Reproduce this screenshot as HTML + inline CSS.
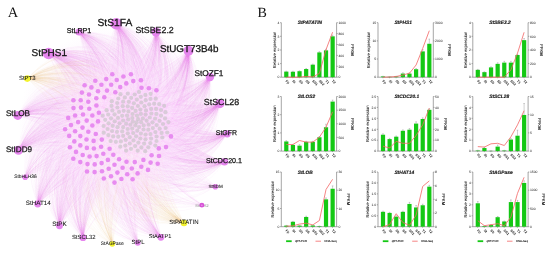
<!DOCTYPE html><html><head><meta charset="utf-8"><style>html,body{margin:0;padding:0;background:#fff;}svg{display:block}</style></head><body>
<svg xmlns="http://www.w3.org/2000/svg" width="550" height="253" viewBox="0 0 550 253">
<rect width="550" height="253" fill="#fff"/>
<g text-rendering="geometricPrecision">
<defs><radialGradient id="bh"><stop offset="0" stop-color="#f0c8f4" stop-opacity="0.3"/><stop offset="0.62" stop-color="#f0c8f4" stop-opacity="0.28"/><stop offset="0.85" stop-color="#f0c8f4" stop-opacity="0.1"/><stop offset="1" stop-color="#f0c8f4" stop-opacity="0"/></radialGradient></defs>
<circle cx="118.0" cy="126.0" r="100" fill="url(#bh)"/>
<g><g fill="none" stroke-width="0.7" transform="scale(0.5)">
<path d="M232 47Q242 78 236 103M232 47Q286 111 292 173M232 47Q275 84 288 125M232 47Q269 86 288 130M232 47Q274 103 282 160M232 47Q233 99 223 149M232 47Q280 65 303 97M232 47Q273 79 292 119M232 47Q287 107 295 167M232 47Q264 114 268 181M232 47Q248 84 251 121M232 47Q256 106 252 159M232 47Q270 78 288 116M232 47Q244 77 241 104M232 47Q249 93 243 133M232 47Q256 76 259 105M232 47Q278 81 296 122M232 47Q252 86 259 126M232 47Q240 80 236 111M232 47Q245 71 247 95M232 47Q255 103 247 149M232 47Q247 87 250 126M232 47Q267 81 282 119M232 47Q252 98 245 140M232 47Q291 94 305 145M232 47Q266 78 276 112M232 47Q245 103 234 152M232 47Q253 70 265 97M232 47Q278 88 296 135M232 47Q259 75 272 108M232 47Q272 99 276 148M232 47Q265 97 268 144M232 47Q261 76 275 110M232 47Q269 70 282 98M232 47Q239 95 236 141M232 47Q243 77 246 106M232 47Q243 107 230 158M232 47Q242 98 234 145M232 47Q269 76 288 113M232 47Q276 114 274 172M232 47Q265 65 282 91M232 47Q243 76 249 105M232 47Q297 94 317 150M232 47Q256 91 262 136M232 47Q249 78 248 107M232 47Q271 90 277 134M232 47Q242 69 246 91M232 47Q262 92 272 139M232 47Q284 84 305 131M232 47Q231 99 217 145M232 47Q268 111 263 165M232 47Q269 90 283 137M232 47Q282 76 306 116M232 47Q260 81 278 118M232 47Q249 88 243 120M232 47Q292 77 321 121M232 47Q278 89 299 139M232 47Q282 84 300 129M232 47Q244 106 243 163M232 47Q244 79 246 110M232 47Q282 97 289 147M232 47Q259 86 277 128M232 47Q241 98 228 138M232 47Q269 88 284 133M232 47Q262 82 269 118M232 47Q269 87 281 130M232 47Q239 101 223 142M232 47Q270 85 285 129M232 47Q263 84 267 119M232 47Q258 84 273 124M232 47Q267 65 287 91M232 47Q224 79 211 109M232 47Q249 106 236 151M232 47Q262 92 264 134M232 47Q263 102 280 159M232 47Q250 92 243 129M232 47Q265 81 288 120M232 47Q299 72 328 114M232 47Q258 79 272 115M232 47Q275 74 290 109M232 47Q222 84 205 116M232 47Q258 89 269 134M232 47Q241 106 226 155M232 47Q280 97 291 150M232 47Q253 95 255 143M232 47Q262 78 272 113M232 47Q262 88 264 127M232 47Q226 86 213 122M232 47Q263 80 270 114M232 47Q274 64 293 91M232 47Q267 89 275 132M232 47Q275 92 285 139M232 47Q260 105 260 160M232 47Q287 102 299 159M232 47Q264 75 272 106M232 47Q263 83 283 123M232 47Q258 94 270 144M232 47Q244 70 244 91M232 47Q279 67 299 98M232 47Q274 70 292 102M232 47Q270 98 277 149M232 47Q258 87 259 124M232 47Q226 89 210 125M232 47Q257 82 271 119M232 47Q281 79 304 121M232 47Q253 96 261 146M232 47Q261 105 277 166M232 47Q276 91 289 139M232 47Q285 92 309 145M232 47Q265 84 278 124M232 47Q271 120 267 183M232 47Q277 102 282 155M232 47Q245 87 250 128M232 47Q229 85 216 118M232 47Q260 99 277 154M232 47Q240 105 234 161M232 47Q252 80 255 114M232 47Q263 84 287 124M232 47Q268 75 278 107M232 47Q245 103 246 158M232 47Q267 102 279 159M232 47Q273 84 281 122M232 47Q281 88 301 136M232 47Q249 89 253 130M232 47Q230 79 218 106M232 47Q280 79 305 120M232 47Q258 69 266 93M232 47Q281 83 305 129M232 47Q247 82 250 118M232 47Q275 82 295 124M232 47Q281 87 295 132M232 47Q285 63 310 94M232 47Q299 98 319 156M232 47Q280 118 280 182M232 47Q244 73 247 100M232 47Q248 89 246 128M232 47Q278 90 301 141M232 47Q260 87 270 129M232 47Q262 84 275 125M232 47Q293 93 318 150M232 47Q260 113 259 175M232 47Q251 82 258 119M232 47Q269 93 286 144M232 47Q242 84 242 121M232 47Q274 111 276 170M232 47Q266 77 274 110M232 47Q266 69 282 97M232 47Q248 93 246 136M232 47Q248 91 249 134M232 47Q251 73 262 101M232 47Q243 110 228 164M232 47Q269 75 283 108M232 47Q236 91 230 132M232 47Q286 69 311 105M232 47Q256 112 262 177M232 47Q264 73 277 104M232 47Q233 85 223 118M232 47Q266 83 276 121M232 47Q275 102 276 152M232 47Q253 89 256 130M232 47Q250 65 258 86M232 47Q272 106 286 168M232 47Q250 110 253 172M232 47Q247 81 247 114M232 47Q241 106 230 158M232 47Q263 91 272 136M232 47Q242 82 235 110M232 47Q244 95 237 139M232 47Q276 108 287 171M232 47Q256 82 265 120M232 47Q297 80 322 127M232 47Q252 83 263 122M232 47Q262 65 273 88M232 47Q237 85 231 120M232 47Q287 66 313 100M232 47Q257 79 273 114M232 47Q237 82 231 114M232 47Q267 102 265 149M232 47Q258 74 274 105M232 47Q255 91 253 129M232 47Q285 113 292 178M232 47Q252 98 243 138M232 47Q244 108 228 154M232 47Q276 76 289 112M232 47Q260 96 266 145M232 47Q258 75 268 105M232 47Q256 114 250 174M232 47Q265 82 278 121M232 47Q255 77 265 110M232 47Q262 95 274 146M232 47Q275 65 296 94M232 47Q254 97 261 148M232 47Q250 75 249 98M232 47Q267 96 283 149M232 47Q231 77 224 106M232 47Q249 68 261 92M232 47Q260 91 272 138M232 47Q272 84 286 127M232 47Q246 110 240 170M232 47Q258 74 273 106M232 47Q269 93 292 144M232 47Q259 80 279 115M232 47Q273 68 288 97M232 47Q244 74 244 100M232 47Q290 80 311 125M232 47Q279 94 294 147M232 47Q249 107 254 168M232 47Q271 88 281 132M232 47Q288 79 308 122M232 47Q267 92 269 133M232 47Q266 110 277 175M232 47Q250 114 248 179M232 47Q255 104 246 148M232 47Q274 71 295 105M232 47Q277 104 290 164M232 47Q235 107 221 162M232 47Q272 93 287 144M232 47Q259 104 255 154M232 47Q269 88 289 134M232 47Q270 104 270 157M232 47Q281 75 297 111M232 47Q231 106 219 161M232 47Q227 108 210 165M232 47Q255 86 258 124M232 47Q277 92 285 138M232 47Q255 88 256 128" stroke="#de72ea" stroke-opacity="0.1"/>
<path d="M158 64Q200 113 231 166M158 64Q193 99 219 140M158 64Q204 109 231 162M158 64Q210 73 243 100M158 64Q197 93 212 128M158 64Q221 82 258 121M158 64Q195 89 220 122M158 64Q221 84 262 122M158 64Q202 82 231 112M158 64Q201 81 228 110M158 64Q206 94 245 132M158 64Q216 78 246 111M158 64Q201 89 232 123M158 64Q195 64 217 80M158 64Q221 66 258 93M158 64Q202 106 237 153M158 64Q212 112 238 170M158 64Q180 95 182 124M158 64Q199 66 222 85M158 64Q197 102 214 147M158 64Q189 100 206 140M158 64Q190 84 214 110M158 64Q206 84 226 117M158 64Q184 81 203 103M158 64Q209 85 239 120M158 64Q180 122 186 180M158 64Q184 90 195 120M158 64Q190 90 198 118M158 64Q178 105 187 147M158 64Q200 106 209 151M158 64Q202 78 231 105M158 64Q217 65 253 91M158 64Q181 83 189 106M158 64Q206 81 243 110M158 64Q233 101 263 155M158 64Q193 109 204 158M158 64Q177 115 186 166M158 64Q181 92 198 124M158 64Q190 69 214 84M158 64Q188 85 204 113M158 64Q208 86 245 121M158 64Q208 106 244 156M158 64Q208 93 242 133M158 64Q208 101 240 150M158 64Q220 92 248 136M158 64Q188 122 208 183M158 64Q195 103 205 144M158 64Q214 87 240 125M158 64Q192 118 211 177M158 64Q203 111 211 159M158 64Q228 104 260 161M158 64Q212 62 246 84M158 64Q187 105 200 150M158 64Q191 73 216 92M158 64Q205 120 226 182M158 64Q203 116 206 165M158 64Q215 88 247 128M158 64Q175 81 183 101M158 64Q199 77 227 102M158 64Q183 107 193 152M158 64Q201 115 232 172M158 64Q179 101 192 140M158 64Q188 110 187 152M158 64Q174 106 175 148M158 64Q219 93 244 137M158 64Q192 74 219 92M158 64Q189 84 210 110M158 64Q195 97 211 137M158 64Q198 89 228 122M158 64Q179 78 192 97M158 64Q210 82 234 114M158 64Q236 97 270 150M158 64Q188 106 190 145M158 64Q211 98 236 143M158 64Q201 94 214 131M158 64Q198 103 205 143M158 64Q215 77 253 109M158 64Q193 77 211 101M158 64Q198 111 227 164M158 64Q209 83 236 116M158 64Q210 82 246 116M158 64Q209 107 226 157M158 64Q223 75 264 108M158 64Q188 108 201 156M158 64Q165 89 167 115M158 64Q210 118 219 173M158 64Q167 92 169 121M158 64Q217 86 256 125M158 64Q191 90 210 122M158 64Q201 97 228 139M158 64Q186 83 197 106M158 64Q218 79 246 114M158 64Q214 97 254 143M158 64Q225 88 262 132M158 64Q196 116 212 172M158 64Q193 91 209 124M158 64Q177 102 180 140M158 64Q184 88 202 117M158 64Q191 89 215 119M158 64Q195 96 220 136M158 64Q220 91 246 134M158 64Q196 100 213 142M158 64Q199 86 229 118M158 64Q224 73 260 107M158 64Q200 90 214 122M158 64Q218 89 257 130M158 64Q186 89 206 120M158 64Q191 110 208 161M158 64Q193 103 218 148M158 64Q187 114 196 166M158 64Q197 80 231 103M158 64Q197 98 223 139M158 64Q200 104 225 152M158 64Q179 87 186 113M158 64Q220 81 251 117M158 64Q203 66 232 86M158 64Q187 94 200 128M158 64Q184 100 193 139M158 64Q176 103 175 139M158 64Q195 107 212 155M158 64Q204 92 235 131M158 64Q202 100 236 142M158 64Q189 81 212 106M158 64Q201 107 209 151M158 64Q204 94 240 133M158 64Q210 74 247 101M158 64Q202 75 230 101M158 64Q224 79 259 116M158 64Q205 91 240 128M158 64Q189 86 209 114M158 64Q214 92 256 134M158 64Q203 118 221 177M158 64Q207 85 239 120M158 64Q214 66 246 90M158 64Q227 87 260 130M158 64Q226 84 261 125M158 64Q193 94 221 130M158 64Q187 96 209 132M158 64Q177 85 183 107M158 64Q212 116 224 171M158 64Q209 110 233 166M158 64Q187 95 196 130M158 64Q186 99 207 136M158 64Q182 83 196 106M158 64Q203 84 222 114M158 64Q203 110 213 158M158 64Q216 111 233 164M158 64Q228 74 266 110M158 64Q184 90 200 120M158 64Q187 87 210 116M158 64Q200 93 231 131M158 64Q188 119 191 172M158 64Q189 72 207 91M158 64Q214 91 236 130M158 64Q202 90 222 125M158 64Q218 96 249 143M158 64Q220 93 250 138M158 64Q181 88 191 115M158 64Q220 111 249 171M158 64Q199 104 230 149M158 64Q228 83 267 124M158 64Q171 95 174 127M158 64Q223 65 262 92M158 64Q211 93 237 135M158 64Q204 85 236 117M158 64Q177 88 189 115" stroke="#de72ea" stroke-opacity="0.1"/>
<path d="M312 64Q318 132 303 194M312 64Q338 114 335 159M312 64Q310 107 295 142M312 64Q323 105 321 145M312 64Q304 96 291 126M312 64Q347 113 351 160M312 64Q314 127 288 166M312 64Q307 110 285 140M312 64Q326 137 304 187M312 64Q286 96 256 123M312 64Q321 99 318 132M312 64Q316 107 303 142M312 64Q331 145 308 202M312 64Q338 111 335 150M312 64Q304 131 275 185M312 64Q315 90 311 114M312 64Q325 93 325 122M312 64Q335 108 337 151M312 64Q332 131 316 179M312 64Q309 120 293 170M312 64Q342 103 346 141M312 64Q323 144 299 202M312 64Q335 115 329 157M312 64Q307 101 289 123M312 64Q300 125 267 166M312 64Q314 99 305 129M312 64Q335 120 336 175M312 64Q325 101 323 136M312 64Q331 126 318 174M312 64Q298 127 271 184M312 64Q323 109 321 152M312 64Q308 132 277 175M312 64Q315 123 300 175M312 64Q313 101 306 137M312 64Q303 110 286 152M312 64Q339 106 343 148M312 64Q307 89 295 109M312 64Q334 139 316 192M312 64Q333 133 317 185M312 64Q322 111 308 143M312 64Q323 109 320 152M312 64Q308 112 294 157M312 64Q304 96 289 125M312 64Q322 108 314 146M312 64Q309 118 285 153M312 64Q298 102 273 128M312 64Q323 128 315 189M312 64Q313 104 299 137M312 64Q332 104 330 141M312 64Q299 109 271 134M312 64Q320 107 307 139M312 64Q334 102 332 136M312 64Q319 129 298 178M312 64Q305 95 291 121M312 64Q356 134 355 198M312 64Q317 94 313 122M312 64Q328 88 331 113M312 64Q332 110 334 155M312 64Q334 110 331 150M312 64Q307 90 296 112M312 64Q303 111 281 150M312 64Q318 89 317 113M312 64Q321 101 320 137M312 64Q315 111 297 142M312 64Q301 122 271 160M312 64Q314 96 306 125M312 64Q335 124 334 181M312 64Q366 125 372 184M312 64Q328 120 320 168M312 64Q291 105 262 135M312 64Q341 109 342 151M312 64Q311 135 282 185M312 64Q323 94 317 116M312 64Q315 130 303 192M312 64Q335 124 331 179M312 64Q331 120 321 164M312 64Q322 116 307 154M312 64Q345 118 342 165M312 64Q309 127 295 186M312 64Q307 113 288 154M312 64Q320 104 319 143M312 64Q319 106 314 147M312 64Q356 104 365 146M312 64Q323 100 317 131M312 64Q315 133 288 175M312 64Q323 104 318 142M312 64Q315 117 294 152M312 64Q301 99 281 123M312 64Q301 114 277 155M312 64Q351 122 353 176M312 64Q334 99 333 130M312 64Q311 112 299 156M312 64Q308 121 283 161M312 64Q319 122 302 166M312 64Q309 108 294 147M312 64Q317 105 308 141M312 64Q329 103 335 143M312 64Q327 94 332 125M312 64Q312 115 297 160M312 64Q302 117 274 152M312 64Q311 138 280 191M312 64Q293 100 267 128M312 64Q307 98 296 129M312 64Q308 111 289 149M312 64Q323 117 310 158M312 64Q313 115 301 162M312 64Q325 116 319 164M312 64Q297 130 265 185M312 64Q355 103 367 146M312 64Q312 110 295 145M312 64Q314 100 309 135M312 64Q302 123 279 176M312 64Q316 112 304 154M312 64Q328 122 318 171M312 64Q326 131 310 185M312 64Q303 91 289 115M312 64Q311 101 302 135M312 64Q310 100 294 125M312 64Q320 134 302 195M312 64Q328 96 332 129M312 64Q329 105 330 145M312 64Q334 127 320 173M312 64Q309 86 300 105M312 64Q315 132 291 183M312 64Q315 104 304 138M312 64Q338 117 340 169M312 64Q338 109 335 148M312 64Q324 114 311 148M312 64Q300 101 277 128M312 64Q314 102 307 137M312 64Q330 108 325 145M312 64Q331 112 335 161M312 64Q292 112 265 155M312 64Q352 97 363 134M312 64Q343 119 348 174M312 64Q351 110 358 155M312 64Q308 111 289 148M312 64Q333 92 335 118M312 64Q296 116 264 151M312 64Q325 103 328 142M312 64Q306 123 291 180M312 64Q339 128 334 186M312 64Q308 130 279 175M312 64Q328 121 313 162M312 64Q320 112 317 159M312 64Q317 125 296 170M312 64Q314 108 301 145M312 64Q321 97 316 126M312 64Q294 118 264 163M312 64Q291 121 256 165M312 64Q336 100 342 138M312 64Q325 104 316 133M312 64Q313 100 306 133M312 64Q308 112 287 148M312 64Q335 97 336 128M312 64Q349 108 352 150M312 64Q329 99 335 135M312 64Q315 125 304 183M312 64Q343 100 346 135M312 64Q307 109 284 134M312 64Q337 114 338 163M312 64Q300 126 276 182M312 64Q327 118 314 157M312 64Q311 130 287 185M312 64Q336 119 328 163M312 64Q317 110 302 145" stroke="#de72ea" stroke-opacity="0.1"/>
<path d="M97 107Q141 139 177 178M97 107Q145 99 185 112M97 107Q157 137 196 182M97 107Q152 115 199 137M97 107Q130 133 156 163M97 107Q160 121 195 157M97 107Q116 142 128 178M97 107Q162 108 210 133M97 107Q164 99 207 122M97 107Q135 119 167 140M97 107Q153 131 197 168M97 107Q138 97 172 106M97 107Q138 108 169 124M97 107Q156 104 200 125M97 107Q136 130 152 161M97 107Q138 118 172 138M97 107Q161 126 210 163M97 107Q139 139 165 179M97 107Q139 126 175 151M97 107Q168 101 215 127M97 107Q142 135 161 171M97 107Q157 107 197 132M97 107Q111 137 119 169M97 107Q141 130 159 163M97 107Q161 135 192 180M97 107Q124 132 136 161M97 107Q157 120 192 153M97 107Q163 118 212 151M97 107Q128 144 145 186M97 107Q135 114 169 130M97 107Q145 129 181 162M97 107Q132 136 161 169M97 107Q143 128 175 161M97 107Q136 118 158 142M97 107Q143 108 175 127M97 107Q127 101 148 110M97 107Q134 104 160 116M97 107Q144 121 182 147M97 107Q162 113 208 143M97 107Q154 113 197 137M97 107Q166 107 211 136M97 107Q149 103 190 120M97 107Q133 104 165 111M97 107Q166 108 214 136M97 107Q158 102 195 125M97 107Q154 129 199 164M97 107Q149 105 182 125M97 107Q128 121 155 141M97 107Q148 118 189 143M97 107Q158 122 207 152M97 107Q156 95 201 111M97 107Q125 106 142 117M97 107Q160 110 202 137M97 107Q140 119 173 143M97 107Q156 107 193 132M97 107Q160 130 207 169M97 107Q135 138 159 175M97 107Q153 122 181 155M97 107Q138 117 164 141M97 107Q152 114 187 142M97 107Q160 110 204 137M97 107Q159 137 183 181M97 107Q161 125 206 162M97 107Q171 98 222 123M97 107Q154 114 192 141M97 107Q171 109 216 141M97 107Q157 127 198 165M97 107Q162 122 199 159M97 107Q163 129 204 171M97 107Q129 115 154 132M97 107Q146 144 180 190M97 107Q150 96 193 109M97 107Q139 123 175 147M97 107Q175 136 211 186M97 107Q121 134 137 164M97 107Q142 124 181 148M97 107Q147 122 191 147M97 107Q162 109 200 138M97 107Q154 106 202 124M97 107Q136 131 167 162M97 107Q118 124 136 143M97 107Q127 145 149 188M97 107Q126 128 137 154M97 107Q140 115 168 138M97 107Q132 117 152 138M97 107Q135 113 157 132M97 107Q147 133 189 167M97 107Q137 144 152 187M97 107Q136 142 156 184M97 107Q141 122 164 149M97 107Q160 130 191 172M97 107Q135 119 153 143M97 107Q128 129 153 156M97 107Q155 86 200 96M97 107Q147 98 182 114M97 107Q139 133 153 167M97 107Q117 126 132 148M97 107Q154 111 204 130M97 107Q144 117 185 138M97 107Q126 110 153 117M97 107Q169 136 202 183M97 107Q142 110 169 131M97 107Q154 96 198 110M97 107Q159 140 186 187M97 107Q157 123 193 158M97 107Q156 135 199 177M97 107Q119 116 138 130M97 107Q152 120 200 144M97 107Q160 112 199 141M97 107Q138 148 163 196M97 107Q138 102 174 111M97 107Q161 111 212 136M97 107Q147 126 192 154M97 107Q134 112 166 127M97 107Q139 118 172 140M97 107Q165 135 200 181M97 107Q131 121 154 145M97 107Q126 117 147 134M97 107Q179 92 234 117M97 107Q165 131 208 175M97 107Q145 97 180 111M97 107Q157 143 186 193M97 107Q130 114 161 127M97 107Q160 141 200 191M97 107Q139 128 165 159M97 107Q128 110 148 125M97 107Q150 126 189 160M97 107Q157 109 197 135M97 107Q152 111 193 135M97 107Q132 129 157 158M97 107Q152 130 176 167M97 107Q133 137 161 172M97 107Q165 107 208 136M97 107Q148 130 188 163M97 107Q133 130 164 159M97 107Q149 110 195 126M97 107Q148 90 189 99M97 107Q132 94 158 101M97 107Q117 146 130 187M97 107Q148 97 191 107M97 107Q143 147 164 195M97 107Q151 98 189 114M97 107Q135 128 163 157M97 107Q165 135 207 182M97 107Q151 110 196 130M97 107Q172 92 227 114M97 107Q143 129 176 161M97 107Q162 86 209 100M97 107Q134 119 163 141M97 107Q143 111 182 127M97 107Q159 99 206 119M97 107Q135 134 154 168M97 107Q148 135 188 173M97 107Q146 113 178 137M97 107Q150 131 194 165M97 107Q164 92 214 109M97 107Q154 136 182 179M97 107Q139 100 169 113M97 107Q152 103 194 123M97 107Q146 120 183 147M97 107Q125 129 139 157M97 107Q137 123 165 151M97 107Q180 95 237 122M97 107Q122 117 144 132M97 107Q153 101 190 120M97 107Q131 134 159 165M97 107Q154 118 202 144M97 107Q139 126 170 155M97 107Q172 122 211 163M97 107Q138 145 156 189M97 107Q163 118 213 150M97 107Q151 110 183 135M97 107Q141 116 178 137M97 107Q142 96 182 104M97 107Q170 130 216 174M97 107Q146 129 169 163M97 107Q150 121 179 152M97 107Q152 124 185 158M97 107Q150 120 190 148M97 107Q137 120 166 143M97 107Q136 139 163 177M97 107Q143 117 168 143M97 107Q142 126 165 158M97 107Q178 113 230 150M97 107Q155 115 205 137M97 107Q150 125 185 159M97 107Q126 121 140 143M97 107Q159 122 200 157M97 107Q157 140 205 184M97 107Q123 127 137 152M97 107Q145 102 177 118M97 107Q151 113 198 133M97 107Q127 141 146 180M97 107Q140 110 176 126M97 107Q152 103 192 123M97 107Q135 97 163 107M97 107Q155 139 200 183M97 107Q151 120 197 145M97 107Q146 131 183 167M97 107Q153 118 197 144M97 107Q171 116 224 150M97 107Q147 147 183 196M97 107Q125 110 149 121M97 107Q123 130 141 157M97 107Q145 103 175 121M97 107Q157 99 201 118M97 107Q147 110 193 123M97 107Q151 95 187 110M97 107Q140 116 178 134M97 107Q148 121 186 149M97 107Q172 107 215 139M97 107Q162 104 206 129M97 107Q151 110 185 135M97 107Q120 116 136 131M97 107Q143 141 175 184M97 107Q158 134 191 178M97 107Q138 124 172 148M97 107Q147 128 185 161M97 107Q160 119 209 150M97 107Q121 136 139 168M97 107Q142 105 180 120M97 107Q153 98 194 115M97 107Q138 90 174 94M97 107Q150 111 190 133M97 107Q168 104 221 129M97 107Q162 106 213 129" stroke="#de72ea" stroke-opacity="0.1"/>
<path d="M377 101Q367 151 350 198M377 101Q350 152 311 174M377 101Q363 149 335 181M377 101Q363 154 333 188M377 101Q379 146 363 178M377 101Q365 164 331 199M377 101Q374 131 361 154M377 101Q386 157 374 205M377 101Q392 137 387 164M377 101Q360 134 338 162M377 101Q388 143 380 177M377 101Q370 155 344 190M377 101Q369 133 356 162M377 101Q362 144 335 169M377 101Q368 142 345 166M377 101Q379 154 358 187M377 101Q379 150 365 192M377 101Q402 179 385 235M377 101Q362 143 334 170M377 101Q382 135 373 164M377 101Q374 162 347 198M377 101Q359 147 334 188M377 101Q380 159 358 200M377 101Q371 162 343 204M377 101Q360 141 333 169M377 101Q368 142 345 164M377 101Q365 133 345 155M377 101Q349 163 304 201M377 101Q370 131 354 152M377 101Q361 174 320 216M377 101Q370 137 354 168M377 101Q366 130 346 149M377 101Q342 157 294 189M377 101Q357 174 314 222M377 101Q376 140 359 165M377 101Q359 151 327 189M377 101Q355 155 319 180M377 101Q358 152 325 186M377 101Q357 150 324 181M377 101Q365 140 343 169M377 101Q382 152 367 193M377 101Q390 138 382 164M377 101Q386 152 372 191M377 101Q365 179 325 225M377 101Q369 169 340 224M377 101Q371 139 354 168M377 101Q363 138 340 165M377 101Q367 135 346 156M377 101Q369 168 337 212M377 101Q375 160 350 198M377 101Q360 138 337 170M377 101Q386 148 373 183M377 101Q380 164 356 205M377 101Q380 153 363 194M377 101Q370 127 359 150M377 101Q354 142 321 169M377 101Q376 144 368 185M377 101Q358 154 328 197M377 101Q382 153 363 186M377 101Q372 152 348 188M377 101Q388 165 371 214M377 101Q359 162 322 195M377 101Q379 167 352 207M377 101Q372 139 353 165M377 101Q393 151 385 193M377 101Q388 168 370 220M377 101Q394 165 380 216M377 101Q366 137 344 160M377 101Q352 135 322 149M377 101Q355 147 323 182M377 101Q376 138 360 164M377 101Q377 154 358 196M377 101Q377 158 353 195M377 101Q337 142 291 171M377 101Q368 134 352 162M377 101Q359 131 336 156M377 101Q361 158 327 189M377 101Q347 157 305 177M377 101Q370 153 345 187M377 101Q339 146 292 171M377 101Q379 147 361 177M377 101Q391 147 382 183M377 101Q374 176 342 230M377 101Q368 165 341 218M377 101Q369 140 349 170M377 101Q360 145 332 174M377 101Q381 145 370 184M377 101Q343 163 294 200M377 101Q367 171 331 216M377 101Q371 161 343 194M377 101Q350 162 313 215M377 101Q359 127 336 139M377 101Q374 140 365 177M377 101Q343 143 302 175M377 101Q368 169 334 210M377 101Q382 165 361 215M377 101Q398 146 392 183M377 101Q363 146 336 177M377 101Q374 152 363 200M377 101Q360 126 338 141M377 101Q379 157 358 199M377 101Q372 136 355 154M377 101Q378 193 340 247M377 101Q381 143 369 177M377 101Q349 165 305 207M377 101Q371 141 357 177M377 101Q373 143 354 170M377 101Q346 129 310 146M377 101Q340 140 296 166M377 101Q339 132 298 155M377 101Q346 128 311 149M377 101Q362 141 336 163M377 101Q367 132 350 158M377 101Q394 190 366 249M377 101Q359 158 330 207M377 101Q377 187 342 241M377 101Q342 126 303 140M377 101Q345 121 311 134M377 101Q376 128 365 147M377 101Q343 146 301 175M377 101Q392 148 383 186M377 101Q347 154 306 193M377 101Q372 149 358 194M377 101Q367 130 349 145M377 101Q384 145 371 179M377 101Q385 152 368 187M377 101Q377 154 356 190M377 101Q363 139 342 171M377 101Q380 146 365 179M377 101Q364 157 333 191M377 101Q344 148 300 173M377 101Q359 175 317 212M377 101Q381 135 374 165M377 101Q369 161 340 193M377 101Q375 136 360 159M377 101Q353 154 320 201M377 101Q365 125 350 146M377 101Q379 153 359 190M377 101Q374 151 352 181M377 101Q353 158 318 207M377 101Q355 164 317 212M377 101Q390 151 379 190M377 101Q341 134 301 154M377 101Q391 144 382 178M377 101Q378 167 355 219M377 101Q360 142 336 178M377 101Q380 167 361 223M377 101Q354 163 313 200M377 101Q354 130 325 145M377 101Q368 166 336 207M377 101Q353 126 325 142M377 101Q379 165 353 208M377 101Q367 151 342 188M377 101Q375 141 357 168M377 101Q378 175 350 228M377 101Q369 155 344 195M377 101Q383 148 373 189M377 101Q367 143 342 166M377 101Q390 153 376 189M377 101Q377 174 347 222M377 101Q361 147 332 176M377 101Q373 135 359 162M377 101Q337 154 289 197M377 101Q375 189 338 239M377 101Q379 169 352 217M377 101Q359 136 333 150M377 101Q376 134 364 162M377 101Q381 150 365 187M377 101Q383 135 372 157M377 101Q357 144 326 163M377 101Q379 161 358 206M377 101Q339 147 293 175M377 101Q356 165 317 210M377 101Q386 138 376 165M377 101Q366 145 342 178M377 101Q366 143 341 168M377 101Q386 174 363 231M377 101Q365 170 330 207M377 101Q354 174 309 212M377 101Q373 147 355 185M377 101Q370 155 355 205M377 101Q381 138 373 171M377 101Q353 158 314 196M377 101Q371 128 356 146M377 101Q373 143 353 168M377 101Q362 147 334 169M377 101Q354 121 329 136M377 101Q365 147 338 171M377 101Q358 157 322 186M377 101Q381 139 367 164M377 101Q365 143 339 169M377 101Q383 151 374 196M377 101Q354 152 318 174M377 101Q399 171 385 225M377 101Q377 143 360 172M377 101Q388 134 382 159M377 101Q377 151 360 194M377 101Q362 126 343 146M377 101Q344 148 301 170M377 101Q386 171 363 221M377 101Q368 143 348 178M377 101Q370 148 346 177M377 101Q375 155 351 187M377 101Q372 136 357 165M377 101Q378 137 365 163M377 101Q353 174 308 216M377 101Q378 175 352 233M377 101Q351 154 313 194M377 101Q376 151 360 194M377 101Q387 151 374 189M377 101Q376 133 363 153M377 101Q383 149 370 190M377 101Q358 132 333 156M377 101Q400 144 398 181M377 101Q380 153 361 189M377 101Q354 137 323 162M377 101Q384 158 367 202M377 101Q400 144 396 180M377 101Q389 145 378 177M377 101Q366 170 332 218M377 101Q367 147 342 179M377 101Q379 155 360 195M377 101Q353 148 320 185M377 101Q349 130 315 149M377 101Q375 135 364 165M377 101Q384 161 365 205" stroke="#de72ea" stroke-opacity="0.1"/>
<path d="M420 154Q382 199 339 211M420 154Q380 233 322 264M420 154Q411 200 386 231M420 154Q410 200 388 238M420 154Q390 207 348 230M420 154Q389 194 351 208M420 154Q411 188 393 215M420 154Q373 183 325 189M420 154Q391 190 356 203M420 154Q384 194 341 220M420 154Q386 197 343 222M420 154Q386 174 353 176M420 154Q399 180 372 194M420 154Q418 192 401 214M420 154Q376 195 326 217M420 154Q397 174 372 181M420 154Q419 217 392 257M420 154Q403 184 382 210M420 154Q397 181 369 197M420 154Q397 187 368 212M420 154Q396 188 364 204M420 154Q390 223 344 251M420 154Q402 195 373 222M420 154Q417 189 401 209M420 154Q402 181 379 201M420 154Q402 236 356 277M420 154Q388 204 344 237M420 154Q413 186 397 210M420 154Q383 177 344 186M420 154Q395 184 367 193M420 154Q405 183 384 204M420 154Q369 191 313 216M420 154Q369 179 315 193M420 154Q387 217 339 252M420 154Q421 211 399 253M420 154Q398 216 360 260M420 154Q406 187 384 205M420 154Q399 212 362 248M420 154Q386 210 342 231M420 154Q398 210 360 250M420 154Q392 194 357 209M420 154Q403 180 381 193M420 154Q399 240 351 281M420 154Q387 227 335 265M420 154Q424 205 406 237M420 154Q408 191 385 217M420 154Q409 186 388 204M420 154Q382 177 341 189M420 154Q394 180 363 196M420 154Q395 200 360 223M420 154Q381 172 342 176M420 154Q418 194 400 219M420 154Q395 178 367 194M420 154Q389 203 350 221M420 154Q378 191 337 196M420 154Q413 218 382 253M420 154Q409 197 387 232M420 154Q385 213 337 242M420 154Q372 208 316 227M420 154Q384 220 333 252M420 154Q404 191 378 215M420 154Q391 194 354 225M420 154Q390 189 353 207M420 154Q394 194 358 214M420 154Q377 168 333 171M420 154Q375 197 323 218M420 154Q413 188 395 205M420 154Q405 179 384 199M420 154Q408 198 381 221M420 154Q384 174 347 181M420 154Q399 203 365 229M420 154Q391 189 355 216M420 154Q421 225 392 271M420 154Q394 190 361 205M420 154Q373 197 319 220M420 154Q391 194 354 218M420 154Q385 190 343 209M420 154Q401 194 372 217M420 154Q394 207 354 236M420 154Q397 208 359 238M420 154Q391 179 360 199M420 154Q400 199 368 221M420 154Q399 197 369 213M420 154Q389 193 351 215M420 154Q399 180 373 196M420 154Q381 201 333 222M420 154Q400 189 373 204M420 154Q379 192 332 208M420 154Q400 171 378 178M420 154Q404 209 374 254M420 154Q402 199 372 221M420 154Q389 177 355 187M420 154Q392 184 363 190M420 154Q406 193 381 217M420 154Q381 188 337 207M420 154Q402 198 373 229M420 154Q414 194 394 215M420 154Q428 200 414 232M420 154Q415 201 393 227M420 154Q383 174 345 186M420 154Q413 199 393 237M420 154Q380 228 325 256M420 154Q399 184 372 203M420 154Q397 211 358 245M420 154Q400 216 363 264M420 154Q409 179 391 194M420 154Q403 216 368 259M420 154Q383 201 340 215M420 154Q412 199 388 227M420 154Q396 187 365 206M420 154Q413 208 387 249M420 154Q397 169 373 179M420 154Q412 193 390 218M420 154Q407 202 379 236M420 154Q387 187 349 213M420 154Q391 186 358 211M420 154Q390 211 347 253M420 154Q386 175 351 181M420 154Q391 188 355 204M420 154Q404 206 371 236M420 154Q416 239 377 288M420 154Q397 195 365 227M420 154Q400 192 371 221M420 154Q397 201 362 231M420 154Q409 179 392 195M420 154Q408 194 384 216M420 154Q395 190 365 202M420 154Q413 196 391 225M420 154Q405 205 375 234M420 154Q415 207 390 240M420 154Q393 195 359 227M420 154Q403 194 376 222M420 154Q397 175 370 185M420 154Q395 189 364 217M420 154Q368 198 310 219M420 154Q390 174 357 185M420 154Q394 191 361 208M420 154Q396 184 367 202M420 154Q398 207 363 244M420 154Q419 227 389 271M420 154Q403 177 381 188M420 154Q399 191 371 204M420 154Q386 206 341 230M420 154Q417 197 399 229M420 154Q419 208 396 243M420 154Q392 187 358 208M420 154Q424 214 401 253M420 154Q387 210 341 244M420 154Q374 172 328 180M420 154Q381 184 339 192M420 154Q394 185 362 208M420 154Q394 218 350 257M420 154Q416 185 401 206M420 154Q418 193 400 219M420 154Q371 201 318 214M420 154Q371 169 321 175M420 154Q391 181 358 202M420 154Q400 221 359 258M420 154Q372 199 319 214M420 154Q423 232 392 280M420 154Q411 210 384 253M420 154Q375 195 325 223M420 154Q369 193 313 222M420 154Q388 183 353 206M420 154Q366 183 309 196M420 154Q406 224 367 264" stroke="#de72ea" stroke-opacity="0.1"/>
<path d="M440 207Q421 244 395 258M440 207Q428 264 398 297M440 207Q411 226 384 227M440 207Q402 215 363 216M440 207Q417 231 390 250M440 207Q401 224 360 229M440 207Q404 222 367 226M440 207Q418 245 388 271M440 207Q409 224 377 228M440 207Q399 208 359 201M440 207Q407 228 373 235M440 207Q401 246 358 259M440 207Q386 241 328 258M440 207Q387 267 329 283M440 207Q393 263 336 287M440 207Q418 241 390 256M440 207Q406 218 372 217M440 207Q408 241 370 257M440 207Q423 258 390 287M440 207Q405 250 362 275M440 207Q388 215 336 215M440 207Q422 266 386 296M440 207Q408 276 359 308M440 207Q401 234 360 245M440 207Q402 227 361 238M440 207Q415 230 389 234M440 207Q415 240 385 255M440 207Q407 231 372 248M440 207Q405 226 368 233M440 207Q401 236 358 254M440 207Q395 246 350 253M440 207Q387 235 331 245M440 207Q424 244 399 260M440 207Q398 262 347 281M440 207Q396 226 350 234M440 207Q417 229 393 234M440 207Q414 239 382 256M440 207Q380 239 326 237M440 207Q395 255 347 267M440 207Q396 229 351 235M440 207Q391 248 337 276M440 207Q438 258 416 287M440 207Q403 264 353 298M440 207Q405 233 373 234M440 207Q399 263 347 285M440 207Q408 226 378 226M440 207Q407 235 374 239M440 207Q394 243 347 252M440 207Q400 235 357 242M440 207Q399 242 353 268M440 207Q385 229 339 222M440 207Q394 260 338 287M440 207Q404 236 365 245M440 207Q408 260 366 278M440 207Q407 226 373 235M440 207Q405 266 357 290M440 207Q388 220 336 223M440 207Q391 270 332 293M440 207Q412 246 378 260M440 207Q412 219 385 220M440 207Q392 254 338 272M440 207Q409 254 371 269M440 207Q408 228 376 230M440 207Q419 233 393 245M440 207Q393 215 349 208M440 207Q380 232 317 243M440 207Q404 217 370 212M440 207Q411 244 374 264M440 207Q396 237 347 252M440 207Q416 226 389 234M440 207Q392 213 346 208M440 207Q381 262 318 276M440 207Q394 252 344 266M440 207Q412 226 382 236M440 207Q391 255 334 283M440 207Q406 237 368 248M440 207Q423 227 402 237M440 207Q423 281 382 319M440 207Q408 226 375 231M440 207Q390 226 341 227M440 207Q433 258 408 287M440 207Q406 226 369 236M440 207Q399 233 358 236M440 207Q400 240 356 255M440 207Q408 262 364 284M440 207Q428 254 400 285M440 207Q408 243 372 254M440 207Q413 226 383 237M440 207Q420 247 390 268M440 207Q400 236 359 242M440 207Q393 227 349 227M440 207Q403 253 359 268M440 207Q428 242 406 260M440 207Q378 237 313 251M440 207Q397 211 359 201M440 207Q411 257 370 290M440 207Q422 227 401 241M440 207Q409 208 378 203M440 207Q419 228 395 241M440 207Q411 211 384 207M440 207Q409 270 363 301M440 207Q401 216 367 209M440 207Q405 236 366 256M440 207Q410 245 372 268M440 207Q411 234 379 245M440 207Q397 238 351 250M440 207Q394 221 349 223M440 207Q409 222 377 229M440 207Q416 227 390 241M440 207Q403 265 358 283M440 207Q396 239 353 243M440 207Q403 245 359 272M440 207Q380 251 322 257M440 207Q398 244 357 248M440 207Q403 245 361 260M440 207Q391 215 343 212M440 207Q425 241 401 262M440 207Q391 239 341 247M440 207Q396 215 353 210M440 207Q411 230 380 236M440 207Q403 211 367 208M440 207Q427 257 399 281M440 207Q403 254 357 273M440 207Q423 247 395 268M440 207Q415 254 381 272M440 207Q396 246 350 256M440 207Q395 236 347 249M440 207Q398 226 355 230M440 207Q410 236 375 256M440 207Q390 242 336 266M440 207Q380 259 319 269M440 207Q415 247 382 261M440 207Q408 229 374 238M440 207Q411 228 380 238M440 207Q385 231 336 226M440 207Q422 250 393 269M440 207Q427 239 406 253M440 207Q408 223 375 229M440 207Q387 255 332 264M440 207Q415 236 386 244M440 207Q428 252 403 277M440 207Q406 245 366 266M440 207Q403 233 363 247M440 207Q430 262 400 293M440 207Q383 228 328 229M440 207Q420 225 397 233M440 207Q417 240 387 256M440 207Q393 254 339 277M440 207Q417 275 374 309M440 207Q410 217 381 217M440 207Q397 217 354 218M440 207Q415 227 388 232M440 207Q417 235 390 246M440 207Q421 236 396 247M440 207Q409 245 373 258M440 207Q384 258 329 265M440 207Q378 258 319 262M440 207Q407 245 368 262M440 207Q418 264 379 299M440 207Q409 232 375 248M440 207Q420 226 397 237M440 207Q417 224 394 227M440 207Q381 214 324 209M440 207Q381 241 326 241M440 207Q386 251 326 277M440 207Q427 238 406 258M440 207Q429 249 404 269M440 207Q402 219 363 222M440 207Q393 225 345 234M440 207Q399 224 360 224M440 207Q402 218 364 218M440 207Q410 248 372 264M440 207Q387 234 331 250M440 207Q384 247 332 249M440 207Q402 251 360 263M440 207Q419 233 395 241M440 207Q410 242 373 259M440 207Q412 222 383 226M440 207Q404 239 366 246M440 207Q399 239 355 248M440 207Q399 217 361 211M440 207Q386 223 336 219M440 207Q397 255 346 279M440 207Q416 244 384 261M440 207Q418 267 379 296M440 207Q383 263 325 273M440 207Q389 234 336 246M440 207Q402 232 362 242M440 207Q413 247 377 269M440 207Q389 255 332 271M440 207Q412 254 373 284M440 207Q409 231 375 244M440 207Q398 249 350 279M440 207Q404 218 369 215M440 207Q386 253 326 271M440 207Q412 290 361 328M440 207Q413 241 382 250M440 207Q426 250 399 271M440 207Q409 265 366 286M440 207Q413 253 378 270M440 207Q417 247 385 268M440 207Q395 239 353 240M440 207Q412 220 383 227M440 207Q407 237 372 244M440 207Q377 248 316 253M440 207Q417 235 390 251M440 207Q421 262 385 296M440 207Q405 270 358 293M440 207Q410 267 364 303M440 207Q404 266 355 294M440 207Q385 253 323 276M440 207Q385 239 327 248M440 207Q411 235 381 239M440 207Q414 217 388 223M440 207Q413 237 381 257M440 207Q420 242 393 258M440 207Q421 259 387 295M440 207Q410 244 374 273M440 207Q420 228 397 234M440 207Q404 223 369 224M440 207Q402 240 362 249M440 207Q390 260 332 285M440 207Q382 250 322 261M440 207Q406 231 372 235M440 207Q404 243 363 261M440 207Q423 227 403 242" stroke="#de72ea" stroke-opacity="0.1"/>
<path d="M36 231Q65 217 90 220M36 231Q83 211 123 217M36 231Q98 228 151 246M36 231Q94 208 148 211M36 231Q72 186 113 174M36 231Q63 218 90 216M36 231Q64 231 89 240M36 231Q76 195 122 181M36 231Q77 225 115 231M36 231Q85 241 126 264M36 231Q100 186 159 184M36 231Q90 224 133 240M36 231Q59 201 88 189M36 231Q92 201 143 203M36 231Q96 214 155 214M36 231Q82 195 132 181M36 231Q88 211 141 202M36 231Q85 192 130 190M36 231Q94 233 141 254M36 231Q78 204 121 201M36 231Q86 206 132 207M36 231Q84 203 135 189M36 231Q85 204 129 206M36 231Q82 197 125 195M36 231Q75 184 118 172M36 231Q85 233 131 246M36 231Q75 220 113 222M36 231Q82 202 130 194M36 231Q94 194 152 189M36 231Q94 220 151 223M36 231Q63 203 93 196M36 231Q86 195 134 193M36 231Q83 205 133 195M36 231Q73 217 103 223M36 231Q82 220 128 221M36 231Q70 240 101 256M36 231Q80 188 124 182M36 231Q102 208 165 211M36 231Q91 205 147 201M36 231Q99 196 154 200M36 231Q79 224 120 230M36 231Q89 219 127 234M36 231Q83 185 135 173M36 231Q96 203 156 198M36 231Q91 181 150 169M36 231Q75 223 105 233M36 231Q71 195 108 187M36 231Q76 200 115 196M36 231Q87 202 138 199M36 231Q82 181 132 169M36 231Q85 224 120 240M36 231Q79 220 109 233M36 231Q81 212 127 206M36 231Q89 211 143 207M36 231Q67 211 95 212M36 231Q70 187 111 170M36 231Q105 206 170 209M36 231Q96 205 155 204M36 231Q79 219 113 228M36 231Q90 185 142 180M36 231Q79 232 110 249M36 231Q84 236 127 252M36 231Q103 193 165 195M36 231Q78 232 115 246M36 231Q73 217 107 221M36 231Q81 190 129 179M36 231Q58 184 91 166M36 231Q76 211 119 200M36 231Q59 212 86 201M36 231Q63 185 99 169M36 231Q87 187 142 174M36 231Q86 215 135 217M36 231Q72 201 112 188M36 231Q81 214 124 217M36 231Q79 203 116 204M36 231Q87 209 132 215M36 231Q73 201 111 196M36 231Q113 196 175 208M36 231Q102 189 161 190M36 231Q89 241 132 266M36 231Q57 216 80 209M36 231Q87 209 128 218M36 231Q59 199 89 184M36 231Q69 218 96 224M36 231Q67 187 107 167M36 231Q90 224 140 234M36 231Q95 216 155 211M36 231Q89 216 143 212M36 231Q59 226 79 230M36 231Q71 198 107 193M36 231Q68 225 98 230M36 231Q98 209 155 215M36 231Q67 214 99 206M36 231Q78 213 120 208M36 231Q98 223 158 228M36 231Q102 225 165 236M36 231Q76 214 118 205M36 231Q70 233 102 243M36 231Q108 203 167 215M36 231Q90 191 145 182M36 231Q103 199 162 204M36 231Q82 214 129 205M36 231Q88 216 139 219M36 231Q80 219 117 228M36 231Q90 233 143 245M36 231Q94 216 148 222M36 231Q73 225 109 225M36 231Q92 210 148 209M36 231Q96 174 158 164M36 231Q74 218 113 213M36 231Q69 232 95 245M36 231Q74 201 113 195M36 231Q98 212 146 225M36 231Q76 244 110 266M36 231Q94 190 147 188M36 231Q63 212 89 212M36 231Q90 221 143 223M36 231Q77 197 121 188M36 231Q75 174 125 152M36 231Q69 186 108 174M36 231Q83 208 129 206M36 231Q79 201 117 201M36 231Q103 218 150 239M36 231Q79 225 122 226M36 231Q90 233 135 252M36 231Q104 219 157 237M36 231Q75 241 106 263M36 231Q74 188 120 167M36 231Q102 188 164 186M36 231Q79 201 120 199M36 231Q96 207 157 200M36 231Q70 226 104 227M36 231Q98 209 160 207M36 231Q87 213 134 219M36 231Q96 196 148 198M36 231Q90 222 139 232M36 231Q74 218 110 219M36 231Q95 212 151 216M36 231Q69 204 103 199M36 231Q86 190 135 186M36 231Q67 221 98 219M36 231Q85 178 136 167M36 231Q105 218 162 235M36 231Q63 204 94 187M36 231Q102 224 154 246M36 231Q96 199 148 204M36 231Q73 191 118 173M36 231Q85 232 133 242M36 231Q78 187 126 172M36 231Q82 186 132 172M36 231Q99 209 155 217M36 231Q76 199 117 194M36 231Q94 201 150 202M36 231Q72 193 115 173M36 231Q92 206 145 209M36 231Q84 210 132 206M36 231Q95 224 150 236M36 231Q60 210 86 204M36 231Q80 203 128 186M36 231Q101 209 153 222M36 231Q59 188 91 172M36 231Q79 237 118 254M36 231Q82 199 127 194M36 231Q84 216 129 221M36 231Q71 223 95 233M36 231Q85 216 121 229" stroke="#de72ea" stroke-opacity="0.1"/>
<path d="M454 268Q407 303 361 308M454 268Q401 301 343 315M454 268Q393 290 331 294M454 268Q393 286 334 285M454 268Q414 265 376 255M454 268Q409 270 364 265M454 268Q386 299 321 297M454 268Q418 276 385 270M454 268Q402 280 357 269M454 268Q390 298 326 302M454 268Q392 288 329 298M454 268Q415 281 381 275M454 268Q422 322 377 348M454 268Q402 295 351 295M454 268Q414 314 366 334M454 268Q429 301 399 313M454 268Q424 312 387 325M454 268Q414 313 370 325M454 268Q428 296 398 305M454 268Q422 303 383 321M454 268Q417 286 378 290M454 268Q411 302 364 315M454 268Q382 290 329 272M454 268Q404 272 361 259M454 268Q413 271 378 260M454 268Q429 297 397 312M454 268Q416 271 379 264M454 268Q418 304 382 309M454 268Q397 258 344 239M454 268Q402 292 353 289M454 268Q410 339 354 364M454 268Q401 275 352 267M454 268Q411 290 371 289M454 268Q412 287 370 288M454 268Q401 282 349 279M454 268Q391 265 334 246M454 268Q397 281 340 280M454 268Q426 313 389 331M454 268Q411 282 377 274M454 268Q426 296 396 302M454 268Q399 281 344 283M454 268Q413 316 364 333M454 268Q407 273 365 263M454 268Q410 290 369 288M454 268Q409 298 364 304M454 268Q413 267 377 253M454 268Q429 292 403 295M454 268Q416 293 374 311M454 268Q403 289 360 283M454 268Q399 335 336 355M454 268Q411 288 370 289M454 268Q428 288 401 292M454 268Q405 318 355 326M454 268Q413 268 376 258M454 268Q405 274 367 258M454 268Q426 300 393 309M454 268Q415 310 367 332M454 268Q406 314 353 326M454 268Q404 266 362 247M454 268Q417 286 382 286M454 268Q392 277 344 260M454 268Q382 299 319 292M454 268Q431 294 403 308M454 268Q420 274 392 266M454 268Q432 290 407 298M454 268Q417 275 381 270M454 268Q414 300 371 307M454 268Q394 266 342 246M454 268Q377 307 314 299M454 268Q419 272 389 262M454 268Q430 296 402 306M454 268Q422 284 390 285M454 268Q396 308 334 319M454 268Q415 282 375 284M454 268Q422 296 385 315M454 268Q406 281 372 269M454 268Q419 295 382 302M454 268Q432 295 404 307M454 268Q397 279 348 267M454 268Q393 329 328 344M454 268Q398 284 343 282M454 268Q420 275 387 273M454 268Q386 320 320 325M454 268Q423 273 397 267M454 268Q416 323 366 348M454 268Q404 289 363 281M454 268Q405 298 362 297M454 268Q423 306 388 316M454 268Q418 278 382 281M454 268Q393 283 338 276M454 268Q415 329 365 352M454 268Q409 275 377 261M454 268Q396 284 337 286M454 268Q411 277 368 275M454 268Q410 265 372 250M454 268Q407 266 363 255M454 268Q400 270 354 254M454 268Q422 299 388 306M454 268Q403 297 352 300M454 268Q389 294 328 291M454 268Q420 261 390 248M454 268Q408 299 359 310M454 268Q428 300 399 308M454 268Q402 326 341 346M454 268Q420 280 388 278M454 268Q416 299 374 310M454 268Q400 302 350 302M454 268Q418 319 372 338M454 268Q403 298 348 314M454 268Q409 287 369 282M454 268Q414 283 375 283M454 268Q424 285 394 288M454 268Q415 270 380 260M454 268Q418 277 385 273M454 268Q415 268 382 256M454 268Q409 295 363 302M454 268Q413 253 376 232M454 268Q386 290 317 292M454 268Q398 274 354 258M454 268Q421 263 389 251M454 268Q389 278 327 270M454 268Q416 296 378 299M454 268Q397 281 342 276M454 268Q413 264 378 247M454 268Q397 269 345 254M454 268Q386 300 329 293M454 268Q411 283 366 288M454 268Q383 308 315 309M454 268Q401 286 360 275M454 268Q406 272 362 263M454 268Q411 292 367 297M454 268Q390 295 336 287M454 268Q427 283 401 284M454 268Q420 285 386 288M454 268Q405 292 352 307M454 268Q389 305 322 312M454 268Q405 288 356 288M454 268Q424 284 397 283M454 268Q405 278 359 272M454 268Q399 279 349 270M454 268Q404 289 359 284M454 268Q395 289 348 278M454 268Q424 287 392 293M454 268Q400 299 344 307M454 268Q402 311 347 323M454 268Q396 298 348 292M454 268Q403 269 357 257M454 268Q415 301 377 304M454 268Q424 287 396 289M454 268Q421 276 390 272M454 268Q404 309 351 317M454 268Q423 291 389 301M454 268Q410 278 366 279M454 268Q381 309 315 306M454 268Q396 300 338 307M454 268Q422 288 390 291M454 268Q423 282 393 281M454 268Q409 295 370 293M454 268Q412 293 374 294M454 268Q416 270 378 265M454 268Q400 299 348 302M454 268Q427 277 402 274M454 268Q393 292 336 290M454 268Q388 289 336 276M454 268Q427 282 399 284M454 268Q415 279 380 274" stroke="#de72ea" stroke-opacity="0.1"/>
<path d="M37 300Q72 263 111 254M37 300Q76 288 114 290M37 300Q78 272 122 258M37 300Q79 257 127 242M37 300Q77 271 120 258M37 300Q69 284 99 283M37 300Q79 267 126 247M37 300Q87 233 147 213M37 300Q84 278 131 274M37 300Q75 266 113 260M37 300Q92 269 151 254M37 300Q45 257 69 233M37 300Q75 225 129 196M37 300Q92 281 144 284M37 300Q82 276 129 261M37 300Q77 271 120 259M37 300Q74 276 109 274M37 300Q91 274 146 266M37 300Q88 285 132 293M37 300Q75 275 116 260M37 300Q58 287 79 284M37 300Q63 256 99 236M37 300Q78 262 125 246M37 300Q84 239 142 215M37 300Q80 278 126 267M37 300Q53 243 86 213M37 300Q61 283 88 272M37 300Q57 275 80 267M37 300Q87 260 133 258M37 300Q69 251 110 235M37 300Q65 273 97 263M37 300Q65 287 94 284M37 300Q85 269 136 258M37 300Q58 243 96 214M37 300Q64 265 98 247M37 300Q95 244 154 234M37 300Q78 269 123 249M37 300Q83 256 136 239M37 300Q68 271 100 266M37 300Q67 245 110 217M37 300Q87 269 137 264M37 300Q89 283 142 278M37 300Q79 255 129 223M37 300Q76 265 121 245M37 300Q61 237 103 209M37 300Q85 247 137 233M37 300Q88 261 145 240M37 300Q79 243 128 226M37 300Q76 275 117 257M37 300Q62 245 102 214M37 300Q74 244 119 226M37 300Q81 284 124 285M37 300Q69 231 118 203M37 300Q53 270 77 256M37 300Q62 263 93 233M37 300Q91 272 146 264M37 300Q54 260 81 234M37 300Q88 270 142 258M37 300Q61 262 93 245M37 300Q82 296 124 303M37 300Q84 242 138 223M37 300Q73 296 106 303M37 300Q77 278 119 265M37 300Q66 240 112 206M37 300Q71 271 109 251M37 300Q49 273 69 258M37 300Q77 248 125 229M37 300Q50 253 78 224M37 300Q86 269 136 261M37 300Q58 270 84 245M37 300Q83 251 138 230M37 300Q97 276 160 265M37 300Q78 260 123 248M37 300Q79 273 125 258M37 300Q57 260 88 238M37 300Q66 248 108 214M37 300Q65 292 92 295M37 300Q51 274 72 261M37 300Q74 253 119 218M37 300Q86 272 138 259M37 300Q63 256 97 241M37 300Q70 263 110 242M37 300Q64 250 102 229M37 300Q69 260 106 248M37 300Q54 263 82 240M37 300Q90 267 147 248M37 300Q74 300 110 307M37 300Q81 255 127 246M37 300Q99 276 163 267M37 300Q76 255 124 233M37 300Q65 250 106 222M37 300Q91 289 143 291M37 300Q85 291 127 301M37 300Q53 272 75 250M37 300Q70 263 109 247M37 300Q93 257 152 244M37 300Q76 257 123 233M37 300Q77 280 118 272M37 300Q75 249 123 221M37 300Q75 268 118 249M37 300Q66 267 101 243M37 300Q93 272 150 262M37 300Q61 248 99 226M37 300Q59 267 89 250M37 300Q60 243 99 217M37 300Q92 269 150 247M37 300Q66 259 100 246M37 300Q76 242 129 211M37 300Q79 256 125 244M37 300Q77 265 120 255M37 300Q69 260 107 245M37 300Q87 266 141 248M37 300Q83 250 134 234M37 300Q90 273 146 261M37 300Q73 276 112 265M37 300Q77 288 118 283M37 300Q89 250 148 227M37 300Q81 264 128 252M37 300Q78 285 118 284M37 300Q93 246 150 236M37 300Q87 264 141 240M37 300Q79 260 126 245M37 300Q77 298 114 308M37 300Q57 269 85 253M37 300Q59 264 89 250M37 300Q84 243 140 223M37 300Q81 273 128 256M37 300Q84 262 136 242M37 300Q68 252 110 229M37 300Q73 227 125 199M37 300Q79 287 122 281M37 300Q85 260 135 249M37 300Q89 247 148 230M37 300Q73 226 128 193M37 300Q60 253 94 220M37 300Q42 250 66 218M37 300Q71 284 104 284M37 300Q78 254 122 243M37 300Q61 280 88 264M37 300Q97 267 146 272M37 300Q91 254 152 236M37 300Q90 273 144 269M37 300Q71 269 109 247M37 300Q91 262 150 244M37 300Q90 267 139 266M37 300Q94 273 145 277M37 300Q61 273 90 255M37 300Q63 282 92 276M37 300Q77 274 120 260M37 300Q61 292 86 292M37 300Q76 261 122 236M37 300Q94 259 157 243M37 300Q66 255 102 240M37 300Q48 246 77 219M37 300Q60 268 88 257M37 300Q80 255 130 235M37 300Q72 260 114 241M37 300Q71 233 121 203M37 300Q88 267 132 268M37 300Q70 237 119 208M37 300Q52 248 84 217M37 300Q69 275 105 260M37 300Q77 245 128 220M37 300Q77 239 129 216M37 300Q71 270 105 264M37 300Q54 286 73 277" stroke="#de72ea" stroke-opacity="0.1"/>
<path d="M449 324Q391 325 343 307M449 324Q366 333 313 304M449 324Q400 314 354 294M449 324Q412 360 374 368M449 324Q410 324 383 309M449 324Q400 324 362 306M449 324Q398 338 353 331M449 324Q405 323 375 305M449 324Q405 351 367 350M449 324Q405 339 368 332M449 324Q391 367 334 372M449 324Q386 334 323 332M449 324Q392 318 346 294M449 324Q407 328 367 323M449 324Q389 382 328 392M449 324Q374 349 316 333M449 324Q418 326 388 321M449 324Q406 333 371 323M449 324Q415 326 389 314M449 324Q397 321 347 310M449 324Q391 318 345 293M449 324Q410 338 378 333M449 324Q399 343 355 337M449 324Q379 326 317 308M449 324Q403 336 367 325M449 324Q405 323 367 309M449 324Q406 343 366 342M449 324Q410 319 379 301M449 324Q411 337 382 329M449 324Q394 329 353 311M449 324Q365 345 301 324M449 324Q386 332 338 313M449 324Q402 312 366 287M449 324Q386 343 340 328M449 324Q390 345 342 335M449 324Q409 339 374 334M449 324Q398 346 346 350M449 324Q390 313 338 289M449 324Q405 361 358 372M449 324Q410 330 382 318M449 324Q367 348 303 330M449 324Q387 311 339 280M449 324Q397 304 355 273M449 324Q409 323 378 308M449 324Q396 346 353 339M449 324Q406 326 366 318M449 324Q392 370 335 378M449 324Q406 333 365 330M449 324Q405 315 370 294M449 324Q397 317 348 301M449 324Q405 312 370 289M449 324Q404 345 360 347M449 324Q395 341 356 329M449 324Q405 351 368 348M449 324Q406 321 368 308M449 324Q403 314 366 292M449 324Q411 348 378 347M449 324Q376 320 311 298M449 324Q393 305 351 271M449 324Q405 326 368 313M449 324Q395 308 348 280M449 324Q410 346 370 353M449 324Q411 336 376 332M449 324Q412 313 384 291M449 324Q418 368 380 382M449 324Q414 315 386 298M449 324Q402 313 363 290M449 324Q397 346 356 337M449 324Q386 312 341 280M449 324Q381 353 326 343M449 324Q391 322 350 298M449 324Q394 344 350 335M449 324Q395 327 348 314M449 324Q390 320 336 302M449 324Q374 352 312 339M449 324Q404 323 369 306M449 324Q397 332 355 318M449 324Q398 331 359 316M449 324Q389 331 345 311M449 324Q394 328 344 315M449 324Q397 336 349 329M449 324Q372 364 308 357M449 324Q393 311 354 280M449 324Q403 316 365 295M449 324Q375 328 319 301M449 324Q394 343 340 344M449 324Q422 347 394 352M449 324Q404 325 360 318M449 324Q384 330 339 307M449 324Q388 351 332 348M449 324Q402 308 368 280M449 324Q397 331 363 313M449 324Q411 334 374 332M449 324Q377 326 312 308M449 324Q405 340 360 346M449 324Q401 326 364 309M449 324Q397 340 355 329M449 324Q406 329 374 316M449 324Q390 330 339 314M449 324Q374 335 321 312M449 324Q420 326 392 322M449 324Q397 343 345 343M449 324Q385 368 321 374M449 324Q401 357 358 357M449 324Q399 334 358 321M449 324Q391 331 347 312M449 324Q392 346 345 337M449 324Q402 352 353 359M449 324Q392 321 359 295M449 324Q391 351 341 346M449 324Q399 309 362 280M449 324Q385 316 335 287M449 324Q401 329 368 313M449 324Q395 327 349 312M449 324Q417 323 388 314M449 324Q393 345 350 335M449 324Q404 333 366 324M449 324Q413 335 381 330M449 324Q374 333 317 310M449 324Q370 368 304 362M449 324Q386 335 325 331M449 324Q405 330 366 320M449 324Q400 307 357 282M449 324Q413 337 380 335M449 324Q404 314 373 291M449 324Q404 366 358 373M449 324Q387 334 340 316M449 324Q403 333 366 322M449 324Q381 331 322 314M449 324Q395 334 351 321M449 324Q396 306 356 274M449 324Q396 327 361 307M449 324Q390 357 337 355M449 324Q407 336 375 326M449 324Q393 325 342 312M449 324Q380 357 319 354M449 324Q402 324 371 306M449 324Q420 338 392 338M449 324Q378 377 313 381M449 324Q409 365 366 374M449 324Q365 338 302 313M449 324Q416 347 385 349M449 324Q393 324 354 302M449 324Q386 332 343 311M449 324Q396 345 341 352M449 324Q369 335 310 311M449 324Q414 337 384 331M449 324Q373 335 313 313M449 324Q391 327 340 313M449 324Q395 310 347 287M449 324Q373 356 304 349M449 324Q401 372 350 383M449 324Q385 327 329 312M449 324Q411 317 378 300M449 324Q418 339 386 345M449 324Q401 316 357 299M449 324Q380 362 315 361M449 324Q393 362 344 361M449 324Q403 347 364 343M449 324Q380 341 316 333M449 324Q389 350 337 344M449 324Q394 315 343 295M449 324Q411 327 385 314M449 324Q401 342 354 343M449 324Q407 310 369 290M449 324Q376 359 310 355" stroke="#de72ea" stroke-opacity="0.1"/>
<path d="M50 354Q69 294 105 253M50 354Q88 313 134 290M50 354Q79 342 108 338M50 354Q78 307 116 278M50 354Q66 320 90 294M50 354Q91 301 141 263M50 354Q78 305 117 282M50 354Q87 295 137 263M50 354Q79 298 122 263M50 354Q83 326 120 309M50 354Q67 317 94 298M50 354Q80 333 112 321M50 354Q94 309 146 283M50 354Q87 314 130 297M50 354Q85 297 132 270M50 354Q49 304 69 274M50 354Q72 292 112 259M50 354Q63 270 106 225M50 354Q92 317 132 312M50 354Q89 299 137 277M50 354Q46 306 62 272M50 354Q66 337 84 324M50 354Q91 320 136 300M50 354Q100 323 153 300M50 354Q92 315 135 308M50 354Q97 299 152 280M50 354Q65 306 94 276M50 354Q94 322 142 306M50 354Q81 336 113 331M50 354Q104 327 159 315M50 354Q72 287 114 247M50 354Q71 275 116 237M50 354Q73 306 107 272M50 354Q97 329 146 313M50 354Q84 332 121 321M50 354Q76 298 117 260M50 354Q61 282 98 243M50 354Q54 285 85 241M50 354Q89 292 143 256M50 354Q96 315 147 287M50 354Q97 339 144 336M50 354Q92 314 140 287M50 354Q98 287 157 262M50 354Q81 327 115 317M50 354Q82 269 137 232M50 354Q66 305 96 281M50 354Q78 306 116 285M50 354Q67 297 102 257M50 354Q66 293 102 260M50 354Q77 323 109 300M50 354Q88 317 132 290M50 354Q80 302 123 274M50 354Q78 298 120 265M50 354Q96 310 149 282M50 354Q86 315 129 290M50 354Q96 310 147 275M50 354Q62 289 96 254M50 354Q70 320 97 305M50 354Q89 290 140 267M50 354Q64 286 101 251M50 354Q95 313 146 296M50 354Q78 283 127 246M50 354Q86 336 122 332M50 354Q63 317 86 297M50 354Q79 302 119 280M50 354Q90 322 134 301M50 354Q91 309 137 271M50 354Q74 336 101 325M50 354Q78 298 120 266M50 354Q89 305 138 277M50 354Q101 321 156 297" stroke="#de72ea" stroke-opacity="0.1"/>
<path d="M431 373Q371 358 327 324M431 373Q367 383 319 364M431 373Q358 366 311 332M431 373Q385 355 349 325M431 373Q366 363 323 330M431 373Q360 391 304 374M431 373Q354 377 293 353M431 373Q381 368 336 351M431 373Q366 386 322 368M431 373Q370 368 329 340M431 373Q372 367 317 349M431 373Q384 372 343 358M431 373Q336 379 279 342M431 373Q395 384 360 383M431 373Q377 372 334 352M431 373Q377 382 339 366M431 373Q391 368 368 348M431 373Q384 367 353 344M431 373Q362 379 313 354M431 373Q399 349 373 319M431 373Q400 345 377 312M431 373Q354 394 301 375M431 373Q395 386 366 380M431 373Q378 352 331 321M431 373Q404 370 380 361M431 373Q377 340 338 295M431 373Q361 408 305 400M431 373Q367 355 314 321M431 373Q376 381 335 364M431 373Q384 402 344 400M431 373Q394 387 362 382M431 373Q368 382 327 361M431 373Q390 358 360 332M431 373Q400 364 374 348M431 373Q383 351 342 321M431 373Q364 377 318 352M431 373Q379 357 334 330M431 373Q364 392 317 376M431 373Q374 387 330 373M431 373Q386 347 353 311M431 373Q352 375 301 344M431 373Q396 357 369 334M431 373Q379 379 338 363M431 373Q399 350 375 321M431 373Q352 381 298 353M431 373Q367 381 324 359M431 373Q371 411 319 409" stroke="#de72ea" stroke-opacity="0.1"/>
<path d="M75 408Q79 358 102 327M75 408Q84 372 102 343M75 408Q77 348 101 306M75 408Q97 372 127 349M75 408Q99 340 143 297M75 408Q72 328 104 279M75 408Q113 349 161 305M75 408Q88 372 110 350M75 408Q84 345 115 304M75 408Q96 356 132 324M75 408Q94 327 139 287M75 408Q102 360 140 330M75 408Q76 328 111 280M75 408Q90 328 132 278M75 408Q66 337 91 291M75 408Q114 361 161 324M75 408Q106 376 142 357M75 408Q93 364 123 331M75 408Q62 344 80 299M75 408Q112 373 154 346M75 408Q101 350 140 306M75 408Q79 339 110 294M75 408Q74 313 113 257M75 408Q102 364 139 330M75 408Q98 352 136 316M75 408Q100 335 147 294M75 408Q75 354 96 317M75 408Q80 327 117 274M75 408Q97 351 135 321M75 408Q97 383 123 368M75 408Q85 366 106 331M75 408Q106 387 139 373M75 408Q95 336 138 294M75 408Q94 368 122 337M75 408Q115 361 163 332M75 408Q66 362 79 331M75 408Q90 332 130 283M75 408Q105 345 151 309M75 408Q81 353 106 315M75 408Q103 355 144 326M75 408Q76 338 104 290M75 408Q101 359 139 324M75 408Q85 366 103 327M75 408Q122 360 175 323M75 408Q98 354 129 306M75 408Q88 364 114 332M75 408Q99 363 132 328M75 408Q121 376 170 357M75 408Q91 339 128 292M75 408Q92 360 121 339M75 408Q86 356 114 324M75 408Q96 347 132 300M75 408Q66 329 93 272M75 408Q85 355 107 309M75 408Q117 366 166 335M75 408Q73 349 89 298M75 408Q92 382 115 367M75 408Q80 377 96 357M75 408Q114 368 159 349M75 408Q102 370 136 355M75 408Q83 369 98 334M75 408Q81 328 118 281M75 408Q104 345 149 302M75 408Q85 328 124 281M75 408Q107 346 149 293M75 408Q77 371 93 348M75 408Q106 370 143 344M75 408Q62 349 78 306M75 408Q104 336 153 301M75 408Q74 362 92 329M75 408Q95 379 121 360M75 408Q117 369 163 338M75 408Q85 349 108 297M75 408Q70 335 97 287M75 408Q106 360 146 324M75 408Q96 340 137 299M75 408Q92 349 127 311M75 408Q86 331 124 281M75 408Q114 364 160 334M75 408Q104 372 140 345M75 408Q98 358 129 316M75 408Q78 358 101 329M75 408Q78 363 96 326M75 408Q108 339 159 302M75 408Q84 374 104 351M75 408Q101 355 138 315M75 408Q93 379 116 354M75 408Q85 374 99 343M75 408Q73 333 103 285M75 408Q107 357 149 317M75 408Q50 337 65 285M75 408Q113 353 162 319M75 408Q97 372 126 357M75 408Q79 355 96 308M75 408Q61 328 86 269M75 408Q94 360 124 323M75 408Q117 358 169 329M75 408Q81 329 115 271M75 408Q99 353 134 306M75 408Q109 377 148 360M75 408Q95 344 135 311M75 408Q98 362 131 329M75 408Q102 348 144 306M75 408Q80 344 109 304M75 408Q93 365 120 332M75 408Q78 370 90 336M75 408Q89 369 111 339M75 408Q98 350 137 309M75 408Q98 344 138 298M75 408Q59 354 69 308M75 408Q68 354 82 309M75 408Q54 354 64 312M75 408Q95 369 122 335M75 408Q108 353 154 327M75 408Q87 321 130 270M75 408Q110 363 154 333M75 408Q85 363 101 322M75 408Q108 361 152 335M75 408Q114 356 162 315M75 408Q102 351 144 316M75 408Q89 343 124 303M75 408Q91 352 118 303M75 408Q102 365 136 331M75 408Q90 377 112 359M75 408Q118 358 170 323M75 408Q95 376 121 353M75 408Q110 372 151 355M75 408Q115 371 160 344M75 408Q104 375 138 350M75 408Q82 357 105 317" stroke="#de72ea" stroke-opacity="0.1"/>
<path d="M404 410Q361 384 327 349M404 410Q346 373 307 322M404 410Q364 427 334 420M404 410Q361 384 336 347M404 410Q340 422 291 404M404 410Q348 395 299 370M404 410Q356 398 322 370M404 410Q338 408 283 385M404 410Q359 382 325 345M404 410Q358 406 327 385M404 410Q374 395 354 373M404 410Q360 378 327 338M404 410Q348 412 315 389M404 410Q343 401 299 372M404 410Q361 398 325 375M404 410Q346 402 291 384M404 410Q326 408 272 376M404 410Q334 404 282 374M404 410Q366 378 336 341M404 410Q357 384 330 346M404 410Q333 391 293 349M404 410Q353 377 327 333M404 410Q356 389 319 357M404 410Q349 420 302 407M404 410Q359 379 339 339M404 410Q321 414 261 384M404 410Q346 373 301 325M404 410Q322 403 271 364" stroke="#de72ea" stroke-opacity="0.1"/>
<path d="M119 452Q109 408 111 365M119 452Q122 403 136 358M119 452Q105 379 121 318M119 452Q134 412 160 388M119 452Q118 403 134 363M119 452Q103 367 126 302M119 452Q108 394 122 346M119 452Q126 388 157 349M119 452Q128 405 146 364M119 452Q124 423 135 396M119 452Q111 396 124 347M119 452Q108 401 118 358M119 452Q126 418 142 391M119 452Q113 411 125 380M119 452Q121 387 141 329M119 452Q120 379 144 317M119 452Q126 416 144 390M119 452Q112 387 133 339M119 452Q103 363 129 297M119 452Q112 410 121 373M119 452Q120 394 142 349M119 452Q81 367 94 300M119 452Q119 414 134 391M119 452Q116 368 148 306M119 452Q141 401 172 358M119 452Q114 386 134 333M119 452Q122 391 149 348M119 452Q113 418 118 386M119 452Q137 412 161 378M119 452Q101 405 111 370M119 452Q123 390 151 353M119 452Q137 412 164 379M119 452Q136 410 164 383M119 452Q118 400 138 362M119 452Q111 406 117 364M119 452Q132 419 151 390M119 452Q112 393 131 350M119 452Q93 388 102 336M119 452Q117 385 139 330M119 452Q127 395 147 344M119 452Q104 393 112 340M119 452Q134 390 162 334M119 452Q91 414 91 381M119 452Q112 397 116 344M119 452Q125 394 149 346M119 452Q112 388 133 344M119 452Q146 413 180 384M119 452Q116 393 126 337M119 452Q131 402 152 357M119 452Q136 405 164 366M119 452Q137 386 176 342M119 452Q86 381 95 322M119 452Q137 407 165 371M119 452Q139 395 171 348M119 452Q116 382 143 334M119 452Q134 418 159 396M119 452Q124 406 143 369M119 452Q153 399 196 358M119 452Q147 413 183 388M119 452Q117 360 154 306M119 452Q131 388 157 331M119 452Q132 417 153 389M119 452Q115 368 146 310M119 452Q118 370 152 319M119 452Q128 375 166 331M119 452Q131 400 160 363M119 452Q103 378 124 327M119 452Q127 387 158 343M119 452Q105 395 110 342M119 452Q140 395 177 358M119 452Q128 392 158 355M119 452Q117 396 138 357M119 452Q132 393 159 341M119 452Q139 397 172 353M119 452Q88 369 105 306M119 452Q123 409 137 369M119 452Q103 414 109 382M119 452Q121 392 143 342M119 452Q148 402 187 367M119 452Q140 412 170 383M119 452Q124 394 149 351M119 452Q82 367 97 301M119 452Q145 387 184 334M119 452Q108 394 126 353M119 452Q141 386 180 336M119 452Q122 396 139 347M119 452Q108 382 128 330M119 452Q141 399 176 361M119 452Q147 402 186 364M119 452Q126 410 146 378M119 452Q107 393 124 350M119 452Q126 367 165 317M119 452Q102 412 104 376M119 452Q139 396 168 345M119 452Q109 397 124 356M119 452Q96 380 107 319M119 452Q115 374 145 324M119 452Q120 381 151 339M119 452Q133 418 156 394M119 452Q85 399 85 352M119 452Q126 375 163 328M119 452Q137 387 172 335M119 452Q138 382 176 330M119 452Q111 413 117 379M119 452Q109 402 117 357M119 452Q124 376 154 315M119 452Q137 394 167 344M119 452Q142 420 172 399M119 452Q118 372 150 323M119 452Q129 393 157 348M119 452Q91 404 89 358M119 452Q111 389 133 348M119 452Q114 362 147 300M119 452Q121 397 139 349M119 452Q119 383 147 341M119 452Q113 382 138 334M119 452Q101 416 106 388M119 452Q117 375 148 322M119 452Q99 402 106 361M119 452Q90 401 92 357M119 452Q127 400 148 357M119 452Q131 374 170 324M119 452Q103 387 112 328M119 452Q89 377 101 318M119 452Q139 416 166 388M119 452Q126 373 161 315M119 452Q135 397 166 355M119 452Q95 406 99 368M119 452Q135 401 166 363M119 452Q101 385 118 335" stroke="#de72ea" stroke-opacity="0.1"/>
<path d="M322 475Q286 427 261 374M322 475Q292 456 267 432M322 475Q290 444 277 409M322 475Q271 450 251 414M322 475Q249 427 223 366M322 475Q275 450 254 414M322 475Q281 445 266 408M322 475Q298 417 292 359M322 475Q279 423 263 366M322 475Q291 435 273 392M322 475Q284 435 261 390M322 475Q294 448 274 416M322 475Q293 441 281 404M322 475Q287 433 261 387M322 475Q297 417 287 357M322 475Q283 436 271 394M322 475Q282 430 271 381M322 475Q300 455 287 431M322 475Q288 431 269 383M322 475Q291 431 287 387M322 475Q298 424 286 371M322 475Q281 420 276 368M322 475Q256 434 230 380M322 475Q260 452 232 412M322 475Q276 419 247 356M322 475Q261 426 241 369M322 475Q249 440 206 386M322 475Q296 414 290 352M322 475Q244 460 199 418M322 475Q287 451 263 420M322 475Q275 425 244 369M322 475Q244 433 212 375M322 475Q287 435 283 396M322 475Q256 450 222 407M322 475Q285 423 261 367M322 475Q270 431 244 378M322 475Q290 458 273 433M322 475Q266 423 230 361M322 475Q255 461 218 424M322 475Q276 428 255 374M322 475Q262 430 233 374M322 475Q288 436 275 393M322 475Q308 419 303 363M322 475Q245 443 210 392M322 475Q249 423 226 360M322 475Q282 445 270 409M322 475Q286 424 279 372M322 475Q283 431 267 382M322 475Q303 449 296 421M322 475Q295 435 281 392M322 475Q273 455 234 424M322 475Q292 438 284 399M322 475Q270 436 242 387M322 475Q283 438 272 398M322 475Q260 426 244 372M322 475Q293 444 276 408M322 475Q264 418 251 359M322 475Q277 462 244 437M322 475Q272 426 249 369M322 475Q307 444 303 414M322 475Q271 441 247 397M322 475Q293 449 279 418M322 475Q304 433 297 390M322 475Q286 426 278 377M322 475Q303 431 296 386M322 475Q298 421 295 368M322 475Q280 429 262 377M322 475Q273 438 257 395M322 475Q275 436 260 391M322 475Q265 450 233 409M322 475Q273 442 246 399M322 475Q285 457 259 431M322 475Q292 432 286 388M322 475Q289 419 283 363M322 475Q276 419 260 359M322 475Q282 443 264 403M322 475Q272 445 235 405M322 475Q296 430 289 385M322 475Q273 448 241 410M322 475Q311 427 309 379M322 475Q294 436 276 394M322 475Q269 424 254 369M322 475Q286 428 270 377M322 475Q273 420 262 362M322 475Q242 444 203 392M322 475Q277 438 260 393M322 475Q263 447 225 404M322 475Q280 463 258 439M322 475Q282 425 270 373M322 475Q302 413 295 351M322 475Q265 430 246 377M322 475Q255 453 211 411M322 475Q274 421 258 362M322 475Q254 462 213 426M322 475Q266 458 233 424M322 475Q255 433 233 380M322 475Q286 465 264 444M322 475Q300 422 293 368M322 475Q260 460 222 426M322 475Q255 416 233 349M322 475Q301 446 285 415M322 475Q283 442 268 403M322 475Q293 451 281 422M322 475Q286 423 282 373M322 475Q272 461 235 432M322 475Q266 454 225 419M322 475Q266 435 240 383M322 475Q302 435 295 393M322 475Q267 442 245 398M322 475Q289 429 270 379M322 475Q276 451 251 416M322 475Q266 415 250 350M322 475Q294 431 284 384M322 475Q289 421 271 363M322 475Q260 443 236 397M322 475Q253 448 223 404M322 475Q250 436 213 379M322 475Q261 435 238 384M322 475Q262 421 233 356M322 475Q286 429 268 379M322 475Q282 434 267 388M322 475Q287 446 259 413M322 475Q296 429 294 385M322 475Q257 441 228 393M322 475Q280 430 258 379M322 475Q268 474 236 451M322 475Q293 439 275 400M322 475Q292 438 276 397M322 475Q298 441 293 407M322 475Q257 454 216 413" stroke="#de72ea" stroke-opacity="0.1"/>
<path d="M166 475Q162 429 175 390M166 475Q137 441 130 406M166 475Q148 420 151 367M166 475Q129 411 124 347M166 475Q141 412 147 355M166 475Q139 406 152 354M166 475Q156 413 161 354M166 475Q140 385 162 319M166 475Q166 408 185 346M166 475Q134 394 150 334M166 475Q177 416 204 366M166 475Q140 428 140 384M166 475Q152 444 154 416M166 475Q177 404 199 337M166 475Q132 436 121 394M166 475Q172 405 200 346M166 475Q152 404 170 348M166 475Q168 433 185 402M166 475Q151 395 175 337M166 475Q146 444 140 411M166 475Q148 432 152 393M166 475Q164 432 179 398M166 475Q132 441 127 406M166 475Q149 440 153 411M166 475Q119 425 113 375M166 475Q148 421 154 372M166 475Q145 423 153 381M166 475Q167 408 180 345M166 475Q138 428 131 380M166 475Q186 440 212 410M166 475Q170 439 187 411M166 475Q145 437 138 396M166 475Q148 435 149 397M166 475Q155 409 175 358M166 475Q174 405 193 339M166 475Q136 434 131 391M166 475Q184 423 213 379M166 475Q173 408 202 354M166 475Q159 424 176 389M166 475Q169 425 191 390M166 475Q153 417 163 365M166 475Q150 392 175 334M166 475Q128 403 133 340M166 475Q169 444 179 414M166 475Q148 406 158 345M166 475Q163 402 184 340M166 475Q166 438 174 403M166 475Q152 411 171 363M166 475Q160 408 177 348M166 475Q176 421 197 372M166 475Q171 415 193 363M166 475Q128 429 121 383M166 475Q177 424 201 382M166 475Q157 402 178 341M166 475Q174 423 199 386M166 475Q152 406 168 347M166 475Q159 432 172 401M166 475Q141 445 136 413M166 475Q133 421 131 369M166 475Q157 439 161 404M166 475Q165 401 193 347M166 475Q157 406 172 344M166 475Q151 396 172 334M166 475Q164 405 190 355M166 475Q124 412 126 357M166 475Q192 429 225 390M166 475Q147 421 157 378M166 475Q145 440 146 409M166 475Q143 424 140 372M166 475Q152 407 168 351M166 475Q160 416 181 376M166 475Q137 403 147 341M166 475Q120 434 110 390M166 475Q153 402 166 336M166 475Q147 396 168 338M166 475Q118 437 104 392M166 475Q167 427 182 385M166 475Q143 419 147 367M166 475Q142 408 146 345M166 475Q169 430 180 387M166 475Q170 429 182 386M166 475Q148 406 164 354M166 475Q143 410 156 360M166 475Q168 445 178 419M166 475Q158 415 176 368M166 475Q113 419 104 361M166 475Q171 417 188 363M166 475Q150 427 150 379M166 475Q122 401 125 335M166 475Q128 421 121 367M166 475Q130 400 141 340M166 475Q148 399 165 337M166 475Q123 397 126 327M166 475Q168 404 197 354M166 475Q156 407 179 360M166 475Q171 424 190 380M166 475Q157 433 159 392M166 475Q140 411 151 360M166 475Q183 413 216 363M166 475Q139 408 150 354M166 475Q176 422 199 377M166 475Q165 408 184 349M166 475Q181 446 201 420M166 475Q172 421 192 373M166 475Q141 413 153 366M166 475Q153 422 159 372M166 475Q148 427 158 392M166 475Q174 432 190 393M166 475Q168 426 187 386M166 475Q144 412 153 357M166 475Q124 403 130 342M166 475Q149 420 148 366M166 475Q153 447 152 419M166 475Q133 407 132 340M166 475Q155 431 160 389M166 475Q167 423 179 374M166 475Q161 415 178 363M166 475Q153 399 175 340M166 475Q163 422 181 379M166 475Q167 411 191 362M166 475Q147 411 147 348M166 475Q165 426 179 382M166 475Q148 423 154 377M166 475Q177 416 201 363M166 475Q167 408 189 351M166 475Q137 423 142 378M166 475Q168 415 195 379M166 475Q155 418 173 378M166 475Q162 437 172 405M166 475Q165 411 192 372" stroke="#de72ea" stroke-opacity="0.1"/>
<path d="M276 486Q221 444 200 392M276 486Q231 427 205 362M276 486Q220 431 195 368M276 486Q221 428 213 371M276 486Q268 450 269 415M276 486Q254 456 248 425M276 486Q213 468 182 430M276 486Q242 463 227 433M276 486Q256 446 255 407M276 486Q199 455 167 405M276 486Q242 428 242 375M276 486Q245 445 242 404M276 486Q242 424 247 370M276 486Q214 461 184 420M276 486Q262 424 269 365M276 486Q273 454 276 423M276 486Q256 434 248 381M276 486Q252 434 254 385M276 486Q233 426 228 368M276 486Q254 457 243 424M276 486Q249 443 242 399M276 486Q259 440 258 393M276 486Q256 433 252 379M276 486Q252 431 248 376M276 486Q262 433 270 385M276 486Q267 432 274 381M276 486Q232 450 210 406M276 486Q226 427 216 366M276 486Q228 460 205 422M276 486Q245 459 223 427M276 486Q250 433 248 380M276 486Q227 425 213 360M276 486Q265 440 270 396M276 486Q243 446 229 402M276 486Q239 442 219 392M276 486Q217 424 200 357M276 486Q223 452 189 407M276 486Q267 424 270 364M276 486Q249 448 240 407M276 486Q210 458 180 413M276 486Q262 440 258 394M276 486Q253 446 240 404M276 486Q261 436 257 385M276 486Q256 439 251 391M276 486Q249 417 246 349M276 486Q241 430 238 375M276 486Q242 456 225 420M276 486Q217 463 185 424M276 486Q264 431 270 379M276 486Q258 453 249 418M276 486Q221 437 208 384M276 486Q257 435 263 390M276 486Q260 434 266 387M276 486Q243 437 222 384M276 486Q232 441 216 391M276 486Q206 463 173 420M276 486Q251 420 243 354M276 486Q246 428 229 368M276 486Q229 462 199 426M276 486Q232 462 210 428M276 486Q238 452 208 413M276 486Q244 426 231 363M276 486Q247 461 241 435M276 486Q247 434 248 386M276 486Q208 447 181 393M276 486Q222 425 213 363M276 486Q251 418 242 348M276 486Q217 461 190 420M276 486Q251 430 245 374M276 486Q258 439 255 392M276 486Q249 447 249 413" stroke="#de72ea" stroke-opacity="0.1"/>
<path d="M236 103Q228 138 191 162M292 173Q300 257 217 337M288 125Q307 183 271 251M288 130Q316 191 311 264M282 160Q293 239 238 319M223 149Q208 217 173 279M303 97Q334 140 318 208M292 119Q319 174 305 245M295 167Q306 249 229 330M268 181Q275 274 229 365M251 121Q256 172 238 224M252 159Q247 233 188 297M288 116Q313 169 300 235M241 104Q237 140 203 170M243 133Q235 187 185 231M259 105Q264 145 231 184M296 122Q319 179 287 251M259 126Q269 181 256 239M236 111Q232 154 209 194M247 95Q250 127 234 160M247 149Q235 211 165 255M250 126Q255 181 236 236M282 119Q303 173 286 237M245 140Q235 198 173 241M305 145Q325 216 262 298M276 112Q289 159 256 213M234 152Q219 219 161 272M265 97Q282 133 283 175M296 135Q320 200 291 279M272 108Q290 152 283 205M276 148Q282 217 221 282M268 144Q271 209 217 270M275 110Q296 157 289 212M282 98Q299 137 269 189M236 141Q231 204 207 265M246 106Q250 147 241 188M230 158Q212 228 149 283M234 145Q222 209 177 264M288 113Q313 163 303 227M274 172Q271 251 179 313M282 91Q305 126 298 176M249 105Q257 145 256 187M317 150Q344 226 287 320M262 136Q271 199 244 263M248 107Q247 146 214 181M277 134Q286 194 235 254M246 91Q252 121 247 153M272 139Q285 205 260 274M305 131Q333 195 302 277M217 145Q196 209 150 262M263 165Q256 239 174 296M283 137Q303 203 281 277M306 116Q340 171 326 248M278 118Q304 169 313 228M243 120Q233 163 178 189M321 121Q361 183 342 273M299 139Q328 208 311 291M300 129Q325 191 291 269M243 163Q242 242 216 320M246 110Q250 153 237 197M289 147Q300 215 232 284M277 128Q303 186 313 250M228 138Q210 194 150 231M284 133Q304 195 282 267M269 118Q280 168 247 222M281 130Q297 190 264 257M223 142Q201 200 136 236M285 129Q307 188 287 259M267 119Q271 167 223 212M273 124Q294 179 293 241M287 91Q314 127 313 181M211 109Q192 150 164 185M236 151Q218 213 142 250M264 134Q267 192 217 247M280 159Q304 239 301 325M243 129Q234 181 179 218M288 120Q319 173 330 237M328 114Q367 173 334 265M272 115Q293 164 292 221M290 109Q312 157 281 219M205 116Q182 162 147 200M269 134Q285 195 275 261M226 155Q205 223 138 272M291 150Q306 223 252 301M255 143Q258 208 226 273M272 113Q286 161 264 216M264 127Q267 180 216 229M213 122Q195 172 162 215M270 114Q279 162 245 212M293 91Q319 129 301 188M275 132Q286 191 246 254M285 139Q298 203 246 272M260 160Q260 237 207 307M299 159Q316 238 253 324M272 106Q283 148 250 195M283 123Q311 178 319 242M270 144Q286 212 277 285M244 91Q245 121 225 148M299 98Q328 141 308 207M292 102Q318 146 298 209M277 149Q287 220 241 293M259 124Q260 175 213 220M210 125Q187 175 147 216M271 119Q291 171 291 229M304 121Q337 179 319 257M261 146Q272 215 260 287M277 166Q299 250 296 340M289 139Q307 206 267 281M309 145Q341 220 318 312M278 124Q295 181 273 245M267 183Q261 271 174 343M282 155Q289 228 219 297M250 128Q256 184 246 241M216 118Q198 163 161 200M277 154Q300 229 303 311M234 161Q226 239 193 312M255 114Q260 160 234 206M287 124Q319 180 337 244M278 107Q292 152 258 204M246 158Q247 234 227 310M279 159Q296 239 270 324M281 122Q293 175 244 232M301 136Q328 203 301 286M253 130Q258 188 239 247M218 106Q203 142 169 170M305 120Q339 178 331 256M266 93Q276 127 253 167M305 129Q338 193 325 275M250 118Q253 166 235 215M295 124Q322 183 306 256M295 132Q314 194 266 266M310 94Q345 138 328 212M319 156Q346 237 283 334M280 182Q280 270 189 344M247 100Q251 137 240 174M246 128Q243 182 205 231M301 141Q331 211 318 297M270 129Q283 187 261 249M275 125Q294 181 282 244M318 150Q351 229 315 328M259 175Q259 261 204 342M258 119Q269 169 257 223M286 144Q310 215 297 295M242 121Q242 171 225 221M276 170Q278 252 203 326M274 110Q285 154 246 203M282 97Q303 136 291 190M246 136Q244 196 207 252M249 134Q251 193 225 252M262 101Q277 140 278 184M228 164Q208 238 140 295M283 108Q301 154 276 212M230 132Q222 189 196 243M311 105Q345 154 322 231M262 177Q270 267 243 358M277 104Q294 146 274 199M223 118Q210 164 177 203M276 121Q288 173 254 231M276 152Q279 220 204 279M256 130Q260 186 229 243M258 86Q269 115 262 148M286 168Q305 254 275 347M253 172Q258 259 235 345M247 114Q248 159 224 202M230 158Q215 230 161 291M272 136Q285 199 256 267M235 110Q225 149 183 175M237 139Q228 199 185 251M287 171Q302 257 254 348M265 120Q278 171 265 228M322 127Q356 191 313 282M263 122Q277 174 274 231M273 88Q288 120 267 162M231 120Q222 168 193 211M313 100Q349 147 331 224M273 114Q295 163 302 218M231 114Q222 158 193 197M265 149Q263 215 192 268M274 105Q296 147 301 198M253 129Q249 182 198 226M292 178Q301 267 222 352M243 138Q232 193 166 229M228 154Q205 219 130 258M289 112Q308 161 271 222M266 145Q275 213 242 283M268 105Q281 147 262 196M250 174Q241 257 175 328M278 121Q296 175 276 238M265 110Q279 156 268 207M274 146Q289 217 270 292M296 94Q325 135 311 197M261 148Q270 219 251 291M249 98Q248 131 212 158M283 149Q304 221 290 302M224 106Q215 146 196 183M261 92Q276 124 282 160M272 138Q287 203 272 273M286 127Q306 185 278 254M240 170Q233 252 189 329M273 106Q293 149 291 200M292 144Q324 214 332 294M279 115Q306 165 322 220M288 97Q309 137 282 194M244 100Q244 136 222 170M311 125Q341 186 301 268M294 147Q314 219 275 301M254 168Q261 251 245 336M281 132Q296 192 255 258M308 122Q336 180 297 259M269 133Q271 190 210 240M277 175Q293 264 265 359M248 179Q246 270 208 357M246 148Q232 208 156 244M295 105Q324 152 312 218M290 164Q307 247 264 337M221 162Q202 238 152 304M287 144Q308 215 283 295M255 154Q250 224 187 282M289 134Q317 198 313 273M270 157Q271 229 202 293M297 111Q320 161 282 228M219 161Q202 238 165 310M210 165Q188 244 147 317M258 124Q262 177 229 229M285 138Q295 200 234 264M256 128Q259 184 222 237" stroke="#de72ea" stroke-opacity="0.04"/>
<path d="M231 166Q276 241 301 325M219 140Q255 196 275 261M231 162Q269 235 270 324M243 100Q289 137 298 209M212 128Q234 177 210 240M258 121Q309 173 311 264M220 122Q255 167 265 228M262 122Q319 175 334 265M231 112Q271 154 281 219M228 110Q266 149 276 212M245 132Q297 186 331 256M246 111Q288 156 276 238M232 123Q276 171 300 235M217 80Q246 102 247 153M258 93Q310 131 312 218M237 153Q286 219 318 297M238 170Q273 250 254 348M182 124Q184 164 147 200M222 85Q254 110 253 167M214 147Q238 209 221 282M206 140Q229 197 224 262M214 110Q246 146 262 196M226 117Q254 161 229 229M203 103Q228 133 240 174M239 120Q281 168 282 244M186 180Q195 261 174 343M195 120Q209 162 193 211M198 118Q210 158 177 203M187 147Q200 206 192 268M209 151Q222 213 173 279M231 105Q271 142 283 205M253 91Q303 126 308 207M189 106Q200 137 183 175M243 110Q295 150 328 212M263 155Q306 230 264 337M204 158Q219 224 188 297M186 166Q199 238 193 312M198 124Q221 167 235 215M214 84Q246 106 262 148M204 113Q227 152 224 202M245 121Q295 169 319 242M244 156Q294 226 318 312M242 133Q288 189 301 268M240 150Q283 216 290 302M248 136Q286 197 260 287M208 183Q235 268 243 358M205 144Q218 201 177 264M240 125Q276 177 255 258M211 177Q237 257 235 345M211 159Q222 224 161 291M260 161Q304 239 275 347M246 84Q293 114 301 188M200 150Q217 211 204 279M216 92Q249 118 267 162M226 182Q253 267 229 365M206 165Q212 233 140 295M247 128Q292 184 291 269M183 101Q195 129 191 162M227 102Q266 137 282 194M193 152Q205 215 187 282M232 172Q275 250 296 340M192 140Q208 193 207 252M187 152Q187 209 130 258M175 148Q177 206 150 262M244 137Q278 196 242 283M219 92Q257 118 282 160M210 110Q239 146 250 195M211 137Q233 192 215 258M228 122Q269 168 291 229M192 97Q210 123 212 158M234 114Q266 159 244 232M270 150Q317 223 283 334M190 145Q193 200 142 250M236 143Q270 206 251 291M214 131Q233 181 196 243M205 143Q216 198 165 255M253 109Q306 152 322 231M211 101Q237 133 231 184M227 164Q267 237 287 320M236 116Q273 162 265 236M246 116Q294 162 310 237M226 157Q249 226 207 307M264 108Q322 155 337 244M201 156Q218 221 202 293M167 115Q170 150 164 185M219 173Q231 248 161 324M169 121Q172 161 161 200M256 125Q309 180 323 266M210 122Q237 166 238 224M228 139Q266 198 272 273M197 106Q212 139 196 183M246 114Q285 161 266 243M254 143Q309 207 332 294M262 132Q314 193 311 291M212 172Q235 251 217 337M209 124Q230 170 216 229M180 140Q184 192 156 244M202 117Q226 157 234 206M215 119Q248 162 264 216M220 136Q254 190 264 257M246 134Q282 192 251 280M213 142Q235 200 217 270M229 118Q270 161 292 221M260 107Q311 153 305 245M214 122Q233 167 198 226M257 130Q311 187 325 275M206 120Q233 161 245 212M208 161Q232 231 227 310M218 148Q252 209 267 281M196 166Q207 238 179 313M231 103Q277 134 313 181M223 139Q258 195 266 266M225 152Q259 218 262 298M186 113Q196 149 178 189M251 117Q293 167 278 254M232 86Q273 114 283 175M200 128Q217 176 205 231M193 139Q206 193 185 251M175 139Q174 190 136 236M212 155Q235 221 219 297M235 131Q276 185 287 259M236 142Q283 201 313 273M212 106Q242 140 256 187M209 151Q219 211 161 272M240 133Q289 187 319 257M247 101Q297 139 318 208M230 101Q268 136 274 199M259 116Q307 167 297 259M240 128Q288 179 313 250M209 114Q238 152 246 203M256 134Q313 191 342 273M221 177Q247 259 222 352M239 120Q283 168 293 241M246 90Q291 124 291 200M260 130Q307 189 288 287M261 125Q308 182 291 279M221 130Q260 179 286 237M209 132Q239 182 256 239M183 107Q190 137 169 170M224 171Q240 247 175 328M233 166Q266 242 245 336M196 130Q209 177 185 231M207 136Q236 189 252 247M196 106Q215 139 214 181M222 114Q248 157 225 221M213 158Q227 225 174 296M233 164Q257 239 203 326M266 110Q317 159 306 256M200 120Q221 161 223 212M210 116Q240 155 258 204M231 131Q274 183 297 249M191 172Q195 246 147 317M207 91Q232 116 234 160M236 130Q267 185 234 264M222 125Q249 175 229 243M249 143Q291 208 275 301M250 138Q291 200 270 292M191 115Q204 152 193 197M249 171Q289 253 265 359M230 149Q274 212 301 286M267 124Q320 182 313 282M174 127Q178 171 162 215M262 92Q317 130 322 220M237 135Q274 192 260 274M236 117Q282 161 303 227M189 115Q205 152 209 194" stroke="#de72ea" stroke-opacity="0.04"/>
<path d="M303 194Q282 279 222 352M335 159Q331 221 272 273M295 142Q275 192 229 229M321 145Q317 200 287 251M291 126Q274 167 246 203M351 160Q356 224 301 286M288 166Q253 221 166 229M285 140Q254 183 193 197M304 187Q273 255 173 279M256 123Q214 160 164 185M318 132Q315 178 292 221M303 142Q286 190 238 224M308 202Q277 280 165 310M335 150Q329 204 266 243M275 185Q234 258 152 304M311 114Q304 146 283 175M325 122Q325 161 301 198M337 151Q339 211 301 268M316 179Q294 246 204 279M293 170Q270 239 219 297M346 141Q351 194 305 245M299 202Q264 284 161 324M329 157Q320 216 255 258M289 123Q264 155 212 158M267 166Q221 221 136 236M305 129Q292 170 258 204M336 175Q339 251 301 325M323 136Q321 184 291 229M318 174Q300 241 221 282M271 184Q235 262 175 328M321 152Q318 212 291 269M277 175Q235 236 142 250M300 175Q280 248 227 310M306 137Q297 186 274 231M286 152Q263 210 224 262M343 148Q348 206 311 264M295 109Q278 136 247 153M316 192Q290 265 188 297M317 185Q294 256 202 293M308 143Q289 188 224 202M320 152Q315 212 282 267M294 157Q275 219 236 273M289 125Q269 165 237 197M314 146Q303 198 256 239M285 153Q252 203 179 218M273 128Q238 164 183 175M315 189Q303 272 254 348M299 137Q281 183 235 215M330 141Q328 192 286 237M271 134Q233 170 169 170M307 139Q290 183 234 206M332 136Q329 182 281 219M298 178Q270 245 187 282M291 121Q272 158 241 188M355 198Q353 285 265 359M313 122Q307 160 282 194M331 113Q335 147 313 181M334 155Q336 217 302 277M331 150Q325 206 271 251M296 112Q281 143 253 167M281 150Q250 204 196 243M317 113Q315 145 298 176M320 137Q319 187 300 235M297 142Q273 184 209 194M271 160Q229 214 150 231M306 125Q294 164 262 196M334 181Q332 260 283 334M372 184Q380 264 296 340M320 168Q308 236 251 291M262 135Q220 178 161 200M342 151Q342 209 287 259M282 185Q242 254 149 283M317 116Q308 147 267 162M303 192Q287 278 243 358M331 179Q326 256 270 324M321 164Q306 225 234 264M307 154Q286 205 216 229M342 165Q339 230 267 281M295 186Q276 269 235 345M288 154Q261 211 207 252M319 143Q317 197 297 249M314 147Q307 202 278 254M365 146Q377 204 323 266M317 131Q308 174 268 207M288 175Q251 235 156 244M318 142Q312 193 276 238M294 152Q265 199 193 211M281 123Q252 157 203 170M277 155Q244 212 185 251M353 176Q355 252 287 320M333 130Q330 172 283 205M299 156Q282 217 246 272M283 161Q248 217 173 241M302 166Q278 228 207 265M294 147Q273 200 229 243M308 141Q295 191 254 231M335 143Q343 199 331 256M332 125Q339 167 328 212M297 160Q276 222 226 273M274 152Q235 201 162 215M280 191Q238 264 140 295M267 128Q230 167 178 189M296 129Q281 173 256 213M289 149Q263 202 210 240M310 158Q291 216 225 252M301 162Q284 226 242 283M319 164Q312 231 270 292M265 185Q221 261 147 317M367 146Q384 205 342 273M295 145Q271 193 213 220M309 135Q303 182 282 228M279 176Q248 250 193 312M304 154Q286 211 235 254M318 171Q304 240 241 293M310 185Q287 259 207 307M289 115Q270 148 240 174M302 135Q288 182 257 223M294 125Q272 159 222 170M302 195Q278 278 204 342M332 129Q338 174 322 220M330 145Q332 201 306 256M320 173Q302 237 217 270M300 105Q287 130 262 148M291 183Q258 255 174 296M304 138Q288 185 247 222M340 169Q344 240 303 311M335 148Q331 202 273 245M311 148Q292 195 223 212M277 128Q247 165 196 183M307 137Q296 185 265 228M325 145Q317 197 265 236M335 161Q340 229 318 297M265 155Q228 214 177 264M363 134Q378 185 337 244M348 174Q356 251 315 328M358 155Q367 219 313 282M289 148Q262 199 205 231M335 118Q337 155 301 188M264 151Q220 199 147 216M328 142Q331 196 313 250M291 180Q269 258 229 330M334 186Q328 267 264 337M279 175Q238 238 150 262M313 162Q294 219 217 247M317 159Q313 224 288 287M296 170Q268 233 192 268M301 145Q283 197 236 236M316 126Q308 167 274 199M264 163Q224 226 161 272M256 165Q207 225 130 258M342 138Q349 189 319 242M316 133Q304 174 250 195M306 133Q296 179 271 222M287 148Q259 198 198 226M336 128Q338 170 298 209M352 150Q356 207 297 259M335 135Q343 185 330 237M304 183Q288 263 245 336M346 135Q350 182 303 227M284 134Q253 168 191 162M338 163Q340 230 297 295M276 182Q244 261 189 329M314 157Q295 211 222 237M287 185Q255 260 179 313M328 163Q317 223 244 263M302 145Q282 193 225 221" stroke="#de72ea" stroke-opacity="0.04"/>
<path d="M177 178Q227 231 262 298M185 112Q240 129 278 184M196 182Q250 245 264 337M199 137Q264 168 313 228M156 163Q192 206 215 258M195 157Q243 205 241 293M128 178Q144 229 149 283M210 133Q277 168 313 250M207 122Q266 153 282 244M167 140Q212 168 245 212M197 168Q258 219 297 295M172 106Q219 119 253 167M169 124Q212 146 237 197M200 125Q260 154 291 229M152 161Q173 204 150 262M172 138Q220 166 256 213M210 163Q278 213 318 297M165 179Q201 235 207 307M175 151Q225 187 265 236M215 127Q279 162 297 259M161 171Q186 222 161 291M197 132Q253 165 273 245M119 169Q130 213 130 258M159 163Q184 208 161 272M192 180Q236 243 217 337M136 161Q153 201 142 250M192 153Q240 199 242 283M212 151Q279 196 313 282M145 186Q168 244 165 310M169 130Q216 151 256 187M181 162Q231 208 260 274M161 169Q200 216 226 273M175 161Q219 206 236 273M158 142Q188 175 185 231M175 127Q219 154 235 215M148 110Q177 122 191 162M160 116Q197 134 214 181M182 147Q233 184 266 243M208 143Q272 183 301 268M197 137Q258 171 293 241M211 136Q274 175 291 269M190 120Q247 143 283 205M165 111Q209 122 247 153M214 136Q281 174 311 264M195 125Q247 156 256 239M199 164Q261 212 301 286M182 125Q228 153 238 224M155 141Q193 167 224 202M189 143Q246 177 286 237M207 152Q276 194 323 266M201 111Q263 133 298 209M142 117Q166 132 169 170M202 137Q259 176 275 261M173 143Q218 176 244 232M193 132Q244 166 252 247M207 169Q271 224 303 311M159 175Q193 227 202 293M181 155Q219 201 204 279M164 141Q199 173 205 231M187 142Q235 179 246 254M204 137Q264 175 287 259M183 181Q216 242 175 328M206 162Q267 213 290 302M222 123Q293 158 319 257M192 141Q243 179 255 258M216 141Q279 186 288 287M198 165Q255 217 275 301M199 159Q251 210 252 301M204 171Q261 228 270 324M154 132Q188 155 209 194M180 190Q227 253 245 336M193 109Q251 127 291 190M175 147Q226 180 265 228M211 186Q260 255 229 365M137 164Q159 206 165 255M181 148Q236 181 282 228M191 147Q251 181 300 235M200 138Q253 177 256 267M202 124Q268 149 318 208M167 162Q209 206 234 264M136 143Q160 170 177 203M149 188Q179 246 193 312M137 154Q153 190 136 236M168 138Q207 169 216 229M152 138Q179 168 179 218M157 132Q189 159 193 211M189 167Q247 215 291 279M152 187Q173 247 147 317M156 184Q185 242 179 313M164 149Q195 188 185 251M191 172Q234 229 216 320M153 143Q178 175 166 229M153 156Q187 193 210 240M200 96Q263 111 301 188M182 114Q229 135 246 203M153 167Q172 213 138 272M132 148Q152 178 162 215M204 130Q272 157 328 212M185 138Q242 166 289 212M153 117Q190 128 225 148M202 183Q248 249 222 352M169 131Q207 159 213 220M198 110Q261 130 301 198M186 187Q222 252 189 344M193 158Q244 206 251 291M199 177Q258 234 287 320M138 130Q163 148 183 175M200 144Q267 177 322 231M199 141Q254 180 266 266M163 196Q198 263 204 342M174 111Q225 124 267 162M212 136Q282 171 326 248M192 154Q253 192 305 245M166 127Q209 148 241 188M172 140Q218 170 247 222M200 181Q248 245 235 345M154 145Q186 177 198 226M147 134Q177 158 193 197M234 117Q310 152 334 265M208 175Q268 236 283 334M180 111Q228 130 250 195M186 193Q226 262 208 357M161 127Q203 145 240 174M200 191Q255 260 265 359M165 159Q201 202 207 265M148 125Q174 146 178 189M189 160Q242 207 267 281M197 135Q252 171 271 251M193 135Q248 168 276 238M157 158Q191 198 207 252M176 167Q210 219 188 297M161 172Q199 222 221 282M208 136Q268 175 282 267M188 163Q244 210 281 277M164 159Q206 198 239 247M195 126Q259 149 311 197M189 99Q245 112 283 175M158 101Q194 111 212 158M130 187Q148 243 152 304M191 107Q252 122 298 176M164 195Q192 261 174 343M189 114Q243 136 268 207M163 157Q203 197 225 252M207 182Q265 246 275 347M196 130Q258 157 302 218M227 114Q302 144 337 244M176 161Q222 206 246 272M209 100Q275 120 308 207M163 141Q202 172 225 221M182 127Q237 149 282 194M206 119Q269 147 303 227M154 168Q181 216 173 279M188 173Q245 225 283 295M178 137Q222 170 236 236M194 165Q256 212 302 277M214 109Q284 133 322 220M182 179Q221 239 203 326M169 113Q210 130 231 184M194 123Q250 149 281 219M183 147Q233 185 261 249M139 157Q160 195 156 244M165 151Q203 188 217 247M237 122Q315 160 342 273M144 132Q173 153 196 183M190 120Q241 147 257 223M159 165Q197 209 224 262M202 144Q269 179 319 242M170 155Q213 195 235 254M211 163Q266 219 253 324M156 189Q180 250 161 324M213 150Q283 193 325 275M183 135Q227 169 229 243M178 137Q228 165 264 216M182 104Q237 115 282 160M216 174Q281 236 296 340M169 163Q202 210 187 282M179 152Q220 195 217 270M185 158Q229 204 232 284M190 148Q246 186 278 254M166 143Q207 176 229 229M163 177Q202 231 219 297M168 143Q202 178 196 243M165 158Q198 201 192 268M230 150Q301 202 318 312M205 137Q275 168 331 224M185 159Q234 205 251 280M140 143Q159 173 147 216M200 157Q256 205 270 292M205 184Q271 245 315 328M137 152Q155 186 150 231M177 118Q221 141 234 206M198 133Q262 161 312 218M146 180Q171 233 174 296M176 126Q226 149 262 196M192 123Q246 150 271 222M163 107Q202 120 222 170M200 183Q262 243 301 325M197 145Q261 179 310 237M183 167Q233 216 260 287M197 144Q258 181 297 249M224 150Q297 198 332 294M183 196Q232 263 254 348M149 121Q181 137 203 170M141 157Q165 195 173 241M175 121Q216 146 223 212M201 118Q261 144 292 221M193 123Q256 142 313 181M187 110Q238 130 258 204M178 134Q230 158 274 199M186 149Q238 189 264 257M215 139Q276 182 277 285M206 129Q267 163 287 251M185 135Q234 168 246 241M136 131Q157 152 164 185M175 184Q219 243 238 319M191 178Q237 238 229 330M172 148Q219 182 254 231M185 161Q239 206 272 273M209 150Q275 193 313 273M139 168Q164 213 177 264M180 120Q232 139 269 189M194 115Q249 138 276 212M174 94Q223 100 262 148M190 133Q244 164 274 231M221 129Q294 165 331 256M213 129Q284 161 330 237" stroke="#de72ea" stroke-opacity="0.04"/>
<path d="M350 198Q326 262 287 320M311 174Q258 203 183 175M335 181Q296 226 229 243M333 188Q291 235 217 247M363 178Q340 223 282 244M331 199Q284 248 196 243M361 154Q344 187 308 207M374 205Q358 272 301 325M387 164Q379 202 331 224M338 162Q307 200 265 228M380 177Q368 224 319 257M344 190Q308 239 235 254M356 162Q338 202 310 237M335 169Q297 204 234 206M345 166Q314 200 258 204M358 187Q329 232 256 239M365 192Q346 249 297 295M385 235Q361 312 254 348M334 170Q296 207 235 215M373 164Q360 203 322 231M347 198Q309 248 225 252M334 188Q300 244 251 291M358 200Q328 256 251 280M343 204Q303 261 221 282M333 169Q295 207 238 224M345 164Q313 194 256 187M345 155Q318 186 274 199M304 201Q243 254 150 262M354 152Q332 180 291 190M320 216Q264 274 161 272M354 168Q332 210 293 241M346 149Q320 176 278 184M294 189Q227 234 136 236M314 222Q255 287 152 304M359 165Q336 198 283 205M327 189Q284 241 217 270M319 180Q270 215 193 197M325 186Q279 234 207 252M324 181Q278 224 205 231M343 169Q313 211 265 236M367 193Q347 249 288 287M382 164Q372 201 322 220M372 191Q353 245 291 279M325 225Q269 288 161 291M340 224Q301 300 222 352M354 168Q330 210 286 237M340 165Q307 203 257 223M346 156Q318 184 269 189M337 212Q292 274 202 293M350 198Q314 251 234 264M337 170Q304 214 261 249M373 183Q356 232 297 259M356 205Q322 261 236 273M363 194Q340 250 277 285M359 150Q343 181 318 208M321 169Q276 207 213 220M368 185Q356 241 332 294M328 197Q285 257 219 297M363 186Q336 232 266 243M348 188Q315 236 246 254M371 214Q348 282 270 324M322 195Q272 240 185 231M352 207Q316 264 226 273M353 165Q327 200 276 212M385 193Q374 252 318 297M370 220Q344 292 264 337M380 216Q361 287 283 334M344 160Q314 191 262 196M322 149Q279 168 225 148M323 182Q279 230 215 258M360 164Q338 199 289 212M358 196Q333 254 270 292M353 195Q321 247 244 263M291 171Q227 212 150 231M352 162Q329 201 291 229M336 156Q305 190 264 216M327 189Q279 232 198 226M305 177Q248 206 169 170M345 187Q310 233 239 247M292 171Q228 205 147 200M361 177Q336 219 274 231M382 183Q369 233 311 264M342 230Q300 305 204 342M341 218Q305 291 235 345M349 170Q323 212 276 238M332 174Q292 215 229 229M370 184Q355 238 313 282M294 200Q227 252 130 258M331 216Q283 279 188 297M343 194Q304 240 222 237M313 215Q261 287 189 344M336 139Q304 157 262 148M365 177Q351 228 325 275M302 175Q244 218 173 241M334 210Q286 265 192 268M361 215Q332 283 253 324M392 183Q383 233 323 266M336 177Q299 220 236 236M363 200Q347 266 315 328M338 141Q308 161 267 162M358 199Q330 256 260 287M355 154Q331 180 283 175M340 247Q287 321 161 324M369 177Q352 223 306 256M305 207Q243 265 149 283M357 177Q337 226 301 268M354 170Q327 209 271 222M310 146Q261 169 203 170M296 166Q235 202 162 215M298 155Q241 186 177 203M311 149Q263 177 209 194M336 163Q299 193 241 188M350 158Q327 193 292 221M366 249Q329 331 208 357M330 207Q290 275 229 330M342 241Q293 315 175 328M303 140Q250 160 191 162M311 134Q264 152 212 158M365 147Q349 172 313 181M301 175Q242 216 166 229M383 186Q371 238 313 273M306 193Q250 248 173 279M358 194Q339 255 303 311M349 145Q323 166 282 160M371 179Q353 224 297 249M368 187Q346 235 278 254M356 190Q326 240 255 258M342 171Q313 216 271 251M365 179Q344 226 287 251M333 191Q289 237 210 240M300 173Q240 207 161 200M317 212Q259 263 156 244M374 165Q365 207 337 244M340 193Q299 237 216 229M360 159Q338 191 291 200M320 201Q276 266 216 320M350 146Q329 175 301 198M359 190Q333 241 266 266M352 181Q322 224 254 231M318 207Q271 274 203 326M317 212Q264 277 179 313M379 190Q364 243 302 277M301 154Q244 183 178 189M382 178Q370 223 313 250M355 219Q323 290 245 336M336 178Q303 227 256 267M361 223Q334 300 265 359M313 200Q256 251 165 255M325 145Q284 166 234 160M336 207Q292 265 204 279M325 142Q287 166 240 174M353 208Q318 266 232 284M342 188Q308 241 246 272M357 168Q333 205 281 219M350 228Q312 302 217 337M344 195Q309 251 242 283M373 189Q358 246 311 291M342 166Q309 198 250 195M376 189Q357 238 287 259M347 222Q306 289 207 307M332 176Q292 215 225 221M359 162Q340 200 303 227M289 197Q223 256 140 295M338 239Q286 310 165 310M352 217Q316 283 227 310M333 150Q297 171 247 153M364 162Q349 200 313 228M365 187Q342 238 282 267M372 157Q358 188 311 197M326 163Q284 189 222 170M358 206Q328 268 252 301M293 175Q229 213 147 216M317 210Q263 271 174 296M376 165Q362 201 312 218M342 178Q310 223 252 247M341 168Q306 202 246 203M363 231Q332 310 243 358M330 207Q280 259 185 251M309 212Q247 265 142 250M355 185Q330 238 281 277M355 205Q333 275 296 340M373 171Q363 217 331 256M314 196Q260 248 177 264M356 146Q335 170 298 176M353 168Q325 203 268 207M334 169Q295 199 231 184M329 136Q293 156 253 167M338 171Q301 205 237 197M322 186Q273 225 193 211M367 164Q349 198 298 209M339 169Q305 205 245 212M374 196Q361 258 318 312M318 174Q269 205 196 183M385 225Q365 301 275 347M360 172Q337 212 282 228M382 159Q372 193 328 212M360 194Q337 252 283 295M343 146Q316 174 282 194M301 170Q241 201 164 185M363 221Q331 289 238 319M348 178Q321 226 275 261M346 177Q313 217 247 222M351 187Q319 230 244 232M357 165Q337 205 300 235M365 163Q347 199 302 218M308 216Q244 274 138 272M352 233Q316 313 229 365M313 194Q261 250 187 282M360 194Q339 254 290 302M374 189Q355 240 291 269M363 153Q344 181 301 188M370 190Q353 245 301 286M333 156Q299 190 256 213M398 181Q394 232 342 273M361 189Q334 239 264 257M323 162Q280 197 223 212M367 202Q343 263 275 301M396 180Q390 229 334 265M378 177Q364 222 305 245M332 218Q284 284 193 312M342 179Q308 223 246 241M360 195Q334 250 267 281M320 185Q273 235 207 265M315 149Q269 175 214 181M364 165Q350 207 319 242M365 205Q339 266 262 298" stroke="#de72ea" stroke-opacity="0.04"/>
<path d="M339 211Q281 228 214 181M322 264Q242 306 130 258M386 231Q352 274 288 287M388 238Q356 290 301 325M348 230Q291 263 210 240M351 208Q300 227 237 197M393 215Q367 252 325 275M325 189Q258 197 191 162M356 203Q308 220 250 195M341 220Q281 256 207 265M343 222Q283 255 207 252M353 176Q307 179 262 148M372 194Q335 214 289 212M401 214Q378 246 326 248M326 217Q256 248 173 241M372 181Q337 191 298 176M392 257Q355 312 270 324M382 210Q352 245 313 273M369 197Q330 219 281 219M368 212Q328 245 275 261M364 204Q321 227 264 216M344 251Q280 290 185 251M373 222Q333 260 272 273M401 209Q379 237 330 237M379 201Q347 229 305 245M356 277Q293 334 179 313M344 237Q284 282 202 293M397 210Q374 244 334 265M344 186Q289 198 231 184M367 193Q328 205 283 175M384 204Q355 234 313 250M313 216Q236 250 150 262M315 193Q241 214 162 215M339 252Q272 300 174 296M399 253Q369 311 296 340M360 260Q307 322 222 352M384 205Q352 230 303 227M362 248Q310 299 227 310M342 231Q280 261 198 226M360 250Q309 305 229 330M357 209Q308 230 246 203M381 193Q350 212 308 207M351 281Q284 338 165 310M335 265Q262 318 152 304M406 237Q380 281 311 291M385 217Q353 253 301 268M388 204Q360 229 313 228M341 189Q285 206 224 202M363 196Q321 218 271 222M360 223Q310 256 239 247M342 176Q288 181 234 160M400 219Q375 253 319 257M367 194Q328 217 282 228M350 221Q295 246 223 212M337 196Q280 203 225 148M382 253Q339 300 251 291M387 232Q356 279 303 311M337 242Q270 282 177 264M316 227Q239 254 147 216M333 252Q262 295 161 272M378 215Q342 249 287 259M354 225Q304 268 241 293M353 207Q301 231 238 224M358 214Q310 242 244 232M333 171Q273 175 212 158M323 218Q251 245 166 229M395 205Q369 229 322 220M384 199Q356 226 319 242M381 221Q345 253 282 244M347 181Q295 190 240 174M365 229Q317 267 244 263M355 216Q306 252 246 272M392 271Q352 334 254 348M361 205Q316 225 258 204M319 220Q244 251 156 244M354 218Q303 251 235 254M343 209Q286 236 216 229M372 217Q331 250 271 251M354 236Q298 276 217 270M359 238Q307 279 226 273M360 199Q316 227 266 243M368 221Q323 252 256 239M369 213Q327 235 268 207M351 215Q298 245 229 243M373 196Q338 218 292 221M333 222Q267 252 185 231M373 204Q335 224 283 205M332 208Q268 231 193 211M378 178Q348 188 313 181M374 254Q333 317 265 359M372 221Q330 251 265 236M355 187Q308 200 256 187M363 190Q324 198 282 160M381 217Q345 249 287 251M337 207Q276 233 205 231M373 229Q332 272 270 292M394 215Q366 244 310 237M414 232Q395 277 332 294M393 227Q362 263 297 259M345 186Q292 203 234 206M393 237Q366 289 315 328M325 256Q248 296 142 250M372 203Q335 230 286 237M358 245Q304 292 219 297M363 264Q312 329 229 365M391 194Q367 213 328 212M368 259Q319 319 235 345M340 215Q280 235 209 194M388 227Q355 265 291 269M365 206Q322 231 265 228M387 249Q352 304 283 334M373 179Q339 193 301 198M390 218Q361 251 306 256M379 236Q341 282 275 301M349 213Q297 250 236 273M358 211Q312 246 256 267M347 253Q288 312 204 342M351 181Q303 189 253 167M355 204Q306 226 245 212M371 236Q326 279 251 280M377 288Q325 356 208 357M365 227Q321 271 262 298M371 221Q332 262 277 285M362 231Q314 273 242 283M392 195Q367 217 331 224M384 216Q351 246 293 241M365 202Q322 219 269 189M391 225Q360 264 302 277M375 234Q332 275 260 274M390 240Q355 286 283 295M359 227Q313 272 252 301M376 222Q339 261 281 277M370 185Q333 198 291 190M364 217Q321 256 267 281M310 219Q229 249 136 236M357 185Q312 199 262 196M361 208Q316 230 256 213M367 202Q326 227 274 231M363 244Q314 296 238 319M389 271Q346 331 245 336M381 188Q351 204 311 197M371 204Q333 221 282 194M341 230Q279 263 196 243M399 229Q373 274 318 297M396 243Q365 291 290 302M358 208Q311 238 252 247M401 253Q369 307 287 320M341 244Q277 291 188 297M328 180Q263 190 196 183M339 192Q283 202 222 170M362 208Q318 240 264 257M350 257Q289 309 193 312M401 206Q379 235 337 244M400 219Q376 255 323 266M318 214Q245 232 164 185M321 175Q253 183 183 175M358 202Q313 231 261 249M359 258Q303 310 207 307M319 214Q245 235 161 200M392 280Q349 347 243 358M384 253Q346 313 275 347M325 223Q255 263 173 279M313 222Q235 262 149 283M353 206Q303 237 246 254M309 196Q231 214 147 200M367 264Q314 320 216 320" stroke="#de72ea" stroke-opacity="0.04"/>
<path d="M395 258Q358 278 306 256M398 297Q355 344 275 347M384 227Q347 229 311 197M363 216Q310 217 258 204M390 250Q354 276 311 291M360 229Q305 236 247 222M367 226Q316 232 264 216M388 271Q346 307 287 320M377 228Q334 233 289 212M359 201Q304 191 253 167M373 235Q325 246 274 231M358 259Q298 276 229 243M328 258Q248 281 161 272M329 283Q248 305 156 244M336 287Q258 320 161 291M390 256Q350 276 297 259M372 217Q326 216 282 194M370 257Q319 279 256 267M390 287Q344 327 270 324M362 275Q303 310 227 310M336 215Q264 214 193 197M386 296Q337 337 253 324M359 308Q291 353 189 329M360 245Q302 260 239 247M361 238Q306 254 246 254M389 234Q354 239 318 208M385 255Q342 274 287 259M372 248Q322 271 267 281M368 233Q318 242 265 228M358 254Q299 279 232 284M350 253Q287 263 223 212M331 245Q254 260 173 241M399 260Q364 283 311 264M347 281Q278 308 192 268M350 234Q287 245 222 237M393 234Q359 242 322 220M382 256Q337 280 281 277M326 237Q252 233 191 162M347 267Q279 283 205 231M351 235Q289 243 225 221M337 276Q261 314 175 328M416 287Q385 327 315 328M353 298Q283 344 189 344M373 234Q329 236 291 190M347 285Q277 315 187 282M378 226Q337 225 301 188M374 239Q328 245 283 205M347 252Q282 263 213 220M357 242Q299 252 238 224M353 268Q289 303 216 320M339 222Q274 213 225 148M338 287Q261 323 165 310M365 245Q312 257 254 231M366 278Q309 304 234 264M373 235Q325 248 273 245M357 290Q291 324 202 293M336 223Q265 227 193 211M332 293Q250 325 149 283M378 260Q330 280 271 251M385 220Q347 223 308 207M338 272Q263 296 177 264M371 269Q318 289 252 247M376 230Q333 233 291 200M393 245Q358 261 313 250M349 208Q288 198 234 160M317 243Q232 259 142 250M370 212Q324 207 283 175M374 264Q324 292 260 287M347 252Q281 273 207 265M389 234Q352 245 310 237M346 208Q282 200 222 170M318 276Q231 295 136 236M344 266Q274 285 196 243M382 236Q340 248 293 241M334 283Q255 322 161 324M368 248Q315 262 256 239M402 237Q373 250 337 244M382 319Q325 370 222 352M375 231Q329 238 281 219M341 227Q274 228 209 194M408 287Q372 328 301 325M369 236Q319 249 266 243M358 236Q302 241 246 203M356 255Q294 275 224 262M364 284Q303 315 221 282M400 285Q362 328 296 340M372 254Q322 269 265 236M383 237Q343 251 297 249M390 268Q349 296 288 287M359 242Q303 249 245 212M349 227Q288 226 231 184M359 268Q298 289 225 252M406 260Q375 284 325 275M313 251Q224 270 130 258M359 201Q306 188 262 148M370 290Q314 334 235 345M401 241Q371 259 334 265M378 203Q337 196 298 176M395 241Q361 258 319 257M384 207Q347 201 313 181M363 301Q298 344 203 326M367 209Q320 200 282 160M366 256Q313 283 251 291M372 268Q319 299 252 301M379 245Q334 260 282 244M351 250Q287 267 217 247M349 223Q286 225 224 202M377 229Q333 240 286 237M390 241Q354 262 313 273M358 283Q295 308 215 258M353 243Q293 247 237 197M359 272Q300 310 229 330M322 257Q241 265 161 200M357 248Q301 253 250 195M361 260Q303 279 235 254M343 212Q277 207 214 181M401 262Q368 292 318 297M341 247Q271 259 198 226M353 210Q295 204 240 174M380 236Q337 244 292 221M367 208Q318 204 269 189M399 281Q360 315 290 302M357 273Q294 298 217 270M395 268Q356 298 297 295M381 272Q333 297 266 266M350 256Q286 270 216 229M347 249Q280 266 207 252M355 230Q295 236 235 215M375 256Q327 283 270 292M336 266Q262 299 179 313M319 269Q234 283 147 216M382 261Q337 281 278 254M374 238Q328 250 276 238M380 238Q336 254 287 251M336 226Q268 219 212 158M393 269Q352 296 291 279M406 253Q376 272 331 256M375 229Q330 237 282 228M332 264Q257 277 179 218M386 244Q347 256 303 227M403 277Q367 312 303 311M366 266Q310 295 241 293M363 247Q307 266 244 263M400 293Q360 336 283 334M328 229Q252 229 178 189M397 233Q366 244 330 237M387 256Q346 279 291 269M339 277Q264 308 174 296M374 309Q315 356 217 337M381 217Q340 216 301 198M354 218Q294 220 234 206M388 232Q351 239 312 218M390 246Q352 261 305 245M396 247Q363 262 319 242M373 258Q322 277 261 249M329 265Q252 275 177 203M319 262Q238 268 164 185M368 262Q314 286 246 272M379 299Q326 349 243 358M375 248Q327 270 272 273M397 237Q364 251 326 248M394 227Q362 232 328 212M324 209Q245 202 169 170M326 241Q250 240 183 175M326 277Q242 314 147 317M406 258Q377 286 332 294M404 269Q371 296 313 282M363 222Q309 226 256 213M345 234Q279 246 210 240M360 224Q306 222 256 187M364 218Q313 217 262 196M372 264Q320 285 255 258M331 250Q255 274 173 279M332 249Q261 251 196 183M360 263Q303 280 236 236M395 241Q362 253 322 231M373 259Q322 283 260 274M383 226Q343 232 302 218M366 246Q313 257 257 223M355 248Q294 260 229 229M361 211Q310 202 267 162M336 219Q266 213 203 170M346 279Q275 311 188 297M384 261Q340 283 282 267M379 296Q325 337 238 319M325 273Q245 287 162 215M336 246Q263 263 185 251M362 242Q307 256 246 241M377 269Q328 300 262 298M332 271Q254 293 165 255M373 284Q320 325 245 336M375 244Q328 263 275 261M350 279Q283 322 204 342M369 215Q322 212 278 184M326 271Q243 294 150 262M361 328Q290 379 174 343M382 250Q340 263 291 229M399 271Q361 299 301 286M366 286Q307 315 226 273M378 270Q329 292 264 257M385 268Q340 296 277 285M353 240Q294 243 241 188M383 227Q342 237 300 235M372 244Q323 254 271 222M316 253Q231 261 147 200M390 251Q351 274 302 277M385 296Q335 343 254 348M358 293Q292 324 204 279M364 303Q300 353 208 357M355 294Q287 333 193 312M323 276Q238 307 140 295M327 248Q248 260 166 229M381 239Q340 246 298 209M388 223Q351 230 313 228M381 257Q337 285 283 295M393 258Q354 280 301 268M387 295Q340 343 265 359M374 273Q325 313 264 337M397 234Q366 242 331 224M369 224Q321 226 274 199M362 249Q306 262 244 232M332 285Q251 320 152 304M322 261Q239 276 150 231M372 235Q324 242 276 212M363 261Q305 285 236 273M403 242Q376 262 342 273" stroke="#de72ea" stroke-opacity="0.04"/>
<path d="M90 220Q125 225 150 262M123 217Q179 225 221 282M151 246Q225 271 283 334M148 211Q223 215 291 269M113 174Q170 158 234 206M90 216Q128 212 166 229M89 240Q123 252 149 283M122 181Q184 162 256 187M115 231Q168 239 217 270M126 264Q182 296 222 352M159 184Q240 183 311 264M133 240Q193 262 229 330M88 189Q128 172 178 189M143 203Q213 207 272 273M155 214Q238 213 319 242M132 181Q201 162 278 184M141 202Q215 191 291 200M130 190Q192 187 246 254M141 254Q208 284 254 348M121 201Q179 196 236 236M132 207Q197 208 255 258M135 189Q206 169 283 175M129 206Q191 208 244 263M125 195Q184 194 235 254M118 172Q178 155 246 203M131 246Q195 263 252 301M113 222Q166 223 217 247M130 194Q196 184 264 216M152 189Q232 183 310 237M151 223Q229 227 306 256M93 196Q134 187 179 218M134 193Q200 189 261 249M133 195Q201 181 274 199M103 223Q145 232 173 279M128 221Q191 223 252 247M101 256Q144 278 179 313M124 182Q184 173 244 232M165 211Q252 214 334 265M147 201Q224 196 300 235M154 200Q229 206 288 287M120 230Q176 239 226 273M127 234Q179 255 203 326M135 173Q205 157 283 205M156 198Q239 192 322 231M150 169Q231 152 318 208M105 233Q148 247 174 296M108 187Q159 177 213 220M115 196Q169 190 222 237M138 199Q208 194 276 238M132 169Q201 154 276 212M120 240Q169 263 189 329M109 233Q151 249 165 310M127 206Q190 197 256 213M143 207Q217 203 291 229M95 212Q134 214 165 255M111 170Q169 147 240 174M170 209Q259 214 342 273M155 204Q236 203 313 250M113 228Q159 242 188 297M142 180Q214 173 282 244M110 249Q154 273 175 328M127 252Q187 275 238 319M165 195Q251 197 325 275M115 246Q166 265 207 307M107 221Q153 228 192 268M129 179Q195 165 268 207M91 166Q137 140 203 170M119 200Q178 185 241 188M86 201Q122 185 164 185M99 169Q149 147 214 181M142 174Q218 156 301 198M135 217Q201 220 264 257M112 188Q168 170 231 184M124 217Q182 221 234 264M116 204Q167 207 207 265M132 215Q193 223 242 283M111 196Q164 189 216 229M175 208Q261 223 315 328M161 190Q243 191 313 273M132 266Q191 301 229 365M80 209Q112 198 147 200M128 218Q184 229 219 297M89 184Q130 164 183 175M96 224Q134 231 161 272M107 167Q162 140 234 160M140 234Q209 248 270 292M155 211Q238 205 322 220M143 212Q217 206 292 221M79 230Q107 235 130 258M107 193Q156 186 205 231M98 230Q140 237 177 264M155 215Q233 224 301 286M99 206Q144 194 193 197M120 208Q178 203 238 224M158 228Q242 235 323 266M165 236Q252 250 332 294M118 205Q176 193 237 197M102 243Q147 256 187 282M167 215Q247 232 301 325M145 182Q222 171 302 218M162 204Q244 212 311 291M129 205Q195 192 262 196M139 219Q209 224 275 261M117 228Q167 241 202 293M143 245Q215 261 283 295M148 222Q223 231 291 279M109 225Q160 226 210 240M148 209Q224 209 297 249M158 164Q244 150 331 224M113 213Q167 205 223 212M95 245Q131 263 152 304M113 195Q168 186 225 221M146 225Q213 244 253 324M110 266Q156 296 189 344M147 188Q222 186 287 259M89 212Q125 211 156 244M143 223Q216 225 287 251M121 188Q181 176 245 212M125 152Q194 122 282 160M108 174Q161 157 224 202M129 206Q194 203 256 239M117 201Q171 200 215 258M150 239Q216 267 243 358M122 226Q181 229 239 247M135 252Q198 278 245 336M157 237Q230 263 275 347M106 263Q149 292 174 343M120 167Q183 137 262 148M164 186Q251 183 331 256M120 199Q176 198 225 252M157 200Q242 190 328 212M104 227Q150 229 196 243M160 207Q245 204 330 237M134 219Q198 227 251 280M148 198Q221 202 281 277M139 232Q206 246 262 298M110 219Q160 222 207 252M151 216Q229 221 301 268M103 199Q150 192 198 226M135 186Q202 180 266 243M98 219Q141 217 185 231M136 167Q206 152 281 219M162 235Q241 258 296 340M94 187Q138 164 191 162M154 246Q224 275 265 359M148 204Q220 210 277 285M118 173Q179 149 253 167M133 242Q198 256 260 287M126 172Q193 152 269 189M132 172Q202 153 282 194M155 217Q233 228 297 295M117 194Q173 186 229 229M150 202Q226 202 297 259M115 173Q174 146 247 153M145 209Q217 212 282 267M132 206Q198 201 265 228M150 236Q225 252 290 302M86 204Q122 196 162 215M128 186Q194 163 267 162M153 222Q225 240 270 324M91 172Q136 151 196 183M118 254Q172 277 216 320M127 194Q191 187 254 231M129 221Q191 228 246 272M95 233Q128 246 140 295M121 229Q170 245 193 312" stroke="#de72ea" stroke-opacity="0.04"/>
<path d="M361 308Q297 315 234 264M343 315Q265 333 179 313M331 294Q246 300 161 272M334 285Q252 282 173 241M376 255Q323 241 276 212M364 265Q303 256 244 232M321 297Q232 295 150 231M385 270Q340 262 303 227M357 269Q296 254 250 195M326 302Q238 307 150 262M329 298Q242 312 152 304M381 275Q335 265 302 218M377 348Q315 384 229 365M351 295Q282 296 217 247M366 334Q299 361 217 337M399 313Q356 331 303 311M387 325Q337 343 275 301M370 325Q309 342 241 293M398 305Q358 317 311 291M383 321Q329 346 264 337M378 290Q326 295 272 273M364 315Q299 333 227 310M329 272Q257 248 225 148M361 259Q301 240 256 187M378 260Q329 244 291 200M397 312Q354 332 301 325M379 264Q328 255 282 228M382 309Q332 317 282 267M344 239Q270 213 203 170M353 289Q287 285 229 229M354 364Q276 398 174 343M352 267Q284 255 223 212M371 289Q315 288 266 243M370 288Q312 290 255 258M349 279Q278 276 210 240M334 246Q256 220 191 162M340 280Q261 279 185 251M389 331Q338 355 270 324M377 274Q329 263 298 209M396 302Q356 309 313 273M344 283Q268 286 192 268M364 333Q296 357 216 320M365 263Q306 248 258 204M369 288Q313 285 265 236M364 304Q301 312 236 273M377 253Q328 234 291 190M403 295Q369 300 334 265M374 311Q317 337 254 348M360 283Q300 274 256 213M336 355Q249 382 147 317M370 289Q314 289 261 249M401 292Q364 298 325 275M355 326Q286 338 217 270M376 258Q326 242 283 205M367 258Q314 237 283 175M393 309Q349 323 297 295M367 332Q302 362 222 352M353 326Q281 342 202 293M362 247Q305 221 267 162M382 286Q333 286 287 251M344 260Q276 235 234 160M319 292Q232 283 161 200M403 308Q364 329 315 328M392 266Q353 254 328 212M407 298Q372 309 332 294M381 270Q331 264 286 237M371 307Q313 317 251 280M342 246Q270 219 212 158M314 299Q226 287 164 185M389 262Q348 248 318 208M402 306Q364 319 318 297M390 285Q347 286 306 256M334 319Q250 334 161 291M375 284Q321 287 266 266M385 315Q334 340 275 347M372 269Q324 253 301 188M382 302Q331 312 277 285M404 307Q366 324 318 312M348 267Q280 249 231 184M328 344Q238 364 140 295M343 282Q268 279 196 243M387 273Q341 270 297 249M320 325Q228 333 142 250M397 267Q360 257 331 224M366 348Q298 382 208 357M363 281Q307 271 268 207M362 297Q302 295 254 231M388 316Q340 331 283 295M382 281Q332 286 281 277M338 276Q260 266 193 211M365 352Q295 384 204 342M377 261Q332 241 313 181M337 286Q257 289 177 264M368 275Q309 272 252 247M372 250Q319 229 278 184M363 255Q301 239 246 203M354 254Q289 231 240 174M388 306Q341 315 291 279M352 300Q283 304 215 258M328 291Q243 287 166 229M390 248Q347 229 311 197M359 310Q292 324 219 297M399 308Q358 319 313 282M341 346Q258 372 161 324M388 278Q345 275 305 245M374 310Q317 326 252 301M350 302Q282 302 222 237M372 338Q309 364 229 330M348 314Q272 336 189 329M369 282Q314 275 271 222M375 283Q322 282 271 251M394 288Q352 291 311 264M380 260Q331 247 289 212M385 273Q340 267 300 235M382 256Q336 239 301 198M363 302Q299 312 232 284M376 232Q325 202 282 160M317 292Q223 295 130 258M354 258Q292 234 253 167M389 251Q346 235 308 207M327 270Q242 259 162 215M378 299Q325 304 275 261M342 276Q267 269 198 226M378 247Q331 224 298 176M345 254Q274 234 214 181M329 293Q251 283 193 197M366 288Q305 295 242 283M315 309Q222 310 136 236M360 275Q303 259 269 189M362 263Q300 250 245 212M367 297Q307 303 246 272M336 287Q262 275 209 194M401 284Q365 284 331 256M386 288Q339 292 291 269M352 307Q280 326 203 326M322 312Q231 321 138 272M356 288Q290 289 225 252M397 283Q359 282 326 248M359 272Q295 264 238 224M349 270Q281 257 224 202M359 284Q298 278 247 222M348 278Q283 264 241 188M392 293Q348 302 301 286M344 307Q267 317 187 282M347 323Q271 340 188 297M348 292Q281 284 234 206M357 257Q292 240 237 197M377 304Q325 308 278 254M396 289Q356 290 319 257M390 272Q348 267 310 237M351 317Q279 329 204 279M389 301Q343 314 290 302M366 279Q305 280 244 263M315 306Q224 303 147 216M338 307Q256 317 173 279M390 291Q346 296 301 268M393 281Q351 280 313 250M370 293Q317 290 274 231M374 294Q320 294 273 245M378 265Q326 258 276 238M348 302Q276 305 207 252M402 274Q367 270 337 244M336 290Q257 286 185 231M336 276Q265 257 222 170M399 284Q361 287 323 266M380 274Q332 268 291 229" stroke="#de72ea" stroke-opacity="0.04"/>
<path d="M111 254Q163 241 221 282M114 290Q166 292 216 320M122 258Q184 239 252 247M127 242Q193 220 271 251M120 258Q180 240 246 254M99 283Q140 283 179 313M126 247Q191 219 264 216M147 213Q228 185 326 248M131 274Q196 268 262 298M113 260Q166 252 219 297M151 254Q232 232 319 242M69 233Q101 199 161 200M129 196Q203 157 308 207M144 284Q216 287 283 334M129 261Q194 240 265 236M120 259Q179 243 244 263M109 274Q159 270 207 307M146 266Q223 255 302 277M132 293Q194 303 243 358M116 260Q173 239 236 236M79 284Q109 279 140 295M99 236Q148 209 216 229M125 246Q190 224 266 243M142 215Q222 182 322 220M126 267Q189 252 255 258M86 213Q133 171 214 181M88 272Q124 257 165 255M80 267Q111 257 149 283M133 258Q197 254 253 324M110 235Q165 213 235 254M97 263Q141 250 192 268M94 284Q134 280 174 296M136 258Q206 243 282 267M96 214Q147 173 231 184M98 247Q145 222 205 231M154 234Q235 221 318 297M123 249Q185 221 256 213M136 239Q209 215 293 241M100 266Q143 259 188 297M110 217Q170 177 256 187M137 264Q206 257 275 301M142 278Q214 271 288 287M129 223Q198 179 282 160M121 245Q184 219 257 223M103 209Q160 169 250 195M137 233Q209 214 291 269M145 240Q223 211 312 218M128 226Q196 202 278 254M117 257Q175 233 238 224M102 214Q157 171 240 174M119 226Q182 201 261 249M124 285Q182 286 238 319M118 203Q185 165 283 205M77 256Q110 235 156 244M93 233Q136 191 191 162M146 264Q222 255 301 286M81 234Q119 198 178 189M142 258Q217 241 297 259M93 245Q137 223 196 243M124 303Q182 313 235 345M138 223Q214 196 305 245M106 303Q151 312 189 344M119 265Q177 247 239 247M112 206Q174 159 267 162M109 251Q162 223 223 212M69 258Q96 236 136 236M125 229Q191 204 273 245M78 224Q116 183 183 175M136 261Q205 250 277 285M84 245Q119 210 164 185M138 230Q213 201 303 227M160 265Q245 251 334 265M123 248Q185 231 256 267M125 258Q187 237 256 239M88 238Q130 207 193 211M108 214Q165 166 247 153M92 295Q128 299 161 324M72 261Q101 242 142 250M119 218Q182 171 262 148M138 259Q210 241 287 251M97 241Q144 219 207 252M110 242Q166 213 235 215M102 229Q155 201 229 229M106 248Q157 232 217 270M82 240Q120 208 177 203M147 248Q226 223 313 228M110 307Q159 317 204 342M127 246Q191 233 260 287M163 267Q251 255 342 273M124 233Q190 204 271 222M106 222Q161 184 241 188M143 291Q216 293 287 320M127 301Q184 314 229 365M75 250Q105 219 147 200M109 247Q163 224 229 243M152 244Q234 226 323 266M123 233Q187 201 268 207M118 272Q176 261 236 273M123 221Q190 181 278 184M118 249Q178 222 247 222M101 243Q150 210 209 194M150 262Q230 249 313 273M99 226Q150 195 225 221M89 250Q130 225 185 231M99 217Q152 181 234 206M150 247Q231 218 318 208M100 246Q148 228 207 265M129 211Q201 168 298 176M125 244Q189 228 260 274M120 255Q180 240 246 272M107 245Q160 225 225 252M141 248Q216 225 300 235M134 234Q205 213 287 259M146 261Q224 244 306 256M112 265Q165 251 224 262M118 283Q174 276 232 284M148 227Q231 194 328 212M128 252Q194 235 266 266M118 284Q173 283 227 310M150 236Q229 221 311 291M141 240Q217 207 301 198M126 245Q190 226 264 257M114 308Q164 321 208 357M85 253Q122 232 173 241M89 250Q130 230 185 251M140 223Q217 195 310 237M128 256Q194 232 265 228M136 242Q209 215 292 221M110 229Q168 197 245 212M125 199Q196 161 298 209M122 281Q181 274 242 283M135 249Q205 235 281 277M148 230Q228 208 319 257M128 193Q203 147 313 181M94 220Q142 175 212 158M66 218Q99 176 169 170M104 284Q150 283 193 312M122 243Q184 228 251 280M88 264Q124 242 166 229M146 272Q215 279 265 359M152 236Q235 210 330 237M144 269Q217 263 290 302M109 247Q162 216 224 202M150 244Q231 219 322 231M139 266Q208 264 270 324M145 277Q216 282 275 347M90 255Q130 228 179 218M92 276Q131 266 173 279M120 260Q180 239 246 241M86 292Q119 291 152 304M122 236Q186 201 262 196M157 243Q242 220 337 244M102 240Q151 220 215 258M77 219Q117 182 193 197M88 257Q127 241 177 264M130 235Q199 207 282 228M114 241Q172 216 244 232M121 203Q191 161 291 190M132 268Q194 269 245 336M119 208Q186 168 282 194M84 217Q128 174 203 170M105 260Q154 239 210 240M128 220Q198 187 289 212M129 216Q199 185 291 229M105 264Q153 256 202 293M73 277Q100 263 130 258" stroke="#de72ea" stroke-opacity="0.04"/>
<path d="M343 307Q275 282 225 221M313 304Q240 263 225 148M354 294Q292 268 238 224M374 368Q321 380 264 337M383 309Q346 288 330 237M362 306Q310 281 281 219M353 331Q290 322 236 273M375 305Q335 280 322 220M367 350Q314 349 270 292M368 332Q317 321 282 267M334 372Q255 379 179 313M323 332Q237 329 152 304M346 294Q281 262 237 197M367 323Q311 315 260 287M328 392Q244 405 161 324M316 333Q237 311 193 211M388 321Q348 313 311 291M371 323Q322 309 287 259M389 314Q352 298 331 256M347 310Q278 293 215 258M345 293Q281 259 241 188M378 333Q334 325 302 277M355 337Q294 329 246 272M317 308Q232 282 162 215M367 325Q317 310 287 251M367 309Q314 290 273 245M366 342Q311 340 262 298M379 301Q337 277 313 228M382 329Q343 318 323 266M353 311Q296 286 264 216M301 324Q213 295 164 185M338 313Q271 286 234 206M366 287Q317 252 291 190M340 328Q277 308 247 222M342 335Q274 322 225 252M374 334Q327 326 291 279M346 350Q275 355 203 326M338 289Q266 255 209 194M358 372Q293 387 222 352M382 318Q343 301 326 248M303 330Q215 306 161 200M339 280Q273 237 234 160M355 273Q295 230 253 167M378 308Q335 287 310 237M353 339Q294 328 255 258M366 318Q310 307 260 274M335 378Q256 390 175 328M365 330Q307 327 252 301M370 294Q321 266 289 212M348 301Q282 278 222 237M370 289Q321 256 291 200M360 347Q299 351 238 319M356 329Q302 312 276 238M368 348Q316 345 277 285M368 308Q315 290 271 251M366 292Q316 261 283 205M378 347Q333 345 297 295M311 298Q222 268 147 200M351 271Q293 224 262 148M368 313Q318 294 282 244M348 280Q282 243 231 184M370 353Q314 364 254 348M376 332Q327 328 283 295M384 291Q347 262 328 212M380 382Q328 400 265 359M386 298Q348 273 322 231M363 290Q308 260 268 207M356 337Q300 326 264 257M341 280Q278 235 247 153M326 343Q249 330 196 243M350 298Q294 265 269 189M350 335Q289 323 246 254M348 314Q283 295 229 243M336 302Q262 277 198 226M312 339Q226 323 166 229M369 306Q321 283 291 229M355 318Q296 300 256 239M359 316Q305 295 274 231M345 311Q285 283 258 204M344 315Q275 297 217 247M349 329Q284 319 226 273M308 357Q220 346 156 244M354 280Q301 238 282 160M365 295Q312 266 276 212M319 301Q243 265 203 170M340 344Q266 346 193 312M394 352Q355 358 315 328M360 318Q299 309 242 283M339 307Q278 275 256 187M332 348Q255 344 187 282M368 280Q321 240 298 176M363 313Q316 289 302 218M374 332Q323 329 275 301M312 308Q222 282 147 216M360 346Q298 355 235 345M364 309Q313 287 282 228M355 329Q298 315 261 249M374 316Q330 298 305 245M339 314Q269 292 216 229M321 312Q247 280 214 181M392 322Q353 316 318 297M345 343Q275 343 207 307M321 374Q233 382 147 317M358 357Q299 357 251 291M358 321Q302 304 266 243M347 312Q287 287 256 213M345 337Q281 325 235 254M353 359Q287 368 217 337M359 295Q313 260 313 181M341 346Q272 339 217 270M362 280Q311 241 283 175M335 287Q265 248 222 170M368 313Q321 291 303 227M349 312Q286 291 236 236M388 314Q347 301 313 273M350 335Q289 321 252 247M366 324Q314 311 275 261M381 330Q337 324 301 286M317 310Q239 277 196 183M304 362Q211 353 142 250M325 331Q241 326 161 291M366 320Q311 308 266 266M357 282Q298 247 250 195M380 335Q333 333 290 302M373 291Q329 258 311 197M358 373Q294 384 229 330M340 316Q274 292 235 215M366 322Q314 307 278 254M322 314Q241 289 179 218M351 321Q289 304 246 241M356 274Q300 231 267 162M361 307Q313 280 298 209M337 355Q264 351 204 279M375 326Q330 312 306 256M342 312Q271 295 207 252M319 354Q233 349 161 272M371 306Q327 280 312 218M392 338Q354 338 318 312M313 381Q222 385 140 295M366 374Q308 386 245 336M302 313Q215 279 169 170M385 349Q342 351 303 311M354 302Q299 272 274 199M343 311Q283 282 262 196M341 352Q266 361 189 344M310 311Q227 277 183 175M384 331Q343 324 313 282M313 313Q230 282 178 189M340 313Q269 293 210 240M347 287Q280 254 224 202M304 349Q210 340 130 258M350 383Q280 398 204 342M329 312Q250 290 185 231M378 300Q333 277 300 235M386 345Q342 352 296 340M357 299Q296 275 244 232M315 361Q227 359 149 283M344 361Q276 359 221 282M364 343Q309 338 267 281M316 333Q228 322 150 262M337 344Q265 335 207 265M343 295Q274 268 213 220M385 314Q349 296 337 244M354 343Q289 343 227 310M369 290Q317 262 271 222M310 355Q218 350 138 272" stroke="#de72ea" stroke-opacity="0.04"/>
<path d="M105 253Q156 195 240 174M134 290Q197 258 275 261M108 338Q148 333 189 344M116 278Q170 238 244 232M90 294Q124 259 173 241M141 263Q211 210 301 188M117 282Q170 251 246 272M137 263Q207 219 303 227M122 263Q181 215 268 207M120 309Q172 285 232 284M94 298Q131 273 187 282M112 321Q156 305 207 307M146 283Q218 246 305 245M130 297Q190 274 262 298M132 270Q198 234 287 259M69 274Q97 233 166 229M112 259Q167 213 257 223M106 225Q166 163 283 175M132 312Q188 305 243 358M137 277Q204 246 291 279M62 272Q84 223 147 200M84 324Q110 305 140 295M136 300Q199 273 272 273M153 300Q226 269 306 256M135 308Q194 297 254 348M152 280Q227 253 318 297M94 276Q135 235 205 231M142 306Q208 284 283 295M113 331Q158 324 204 342M159 315Q236 299 318 312M114 247Q172 192 269 189M116 237Q179 185 289 212M107 272Q154 224 224 202M146 313Q215 290 288 287M121 321Q171 305 227 310M117 260Q173 207 256 187M98 243Q149 188 250 195M85 241Q127 181 222 170M143 256Q217 207 318 208M147 287Q218 249 300 235M144 336Q209 330 275 347M140 287Q206 249 286 237M157 262Q238 227 342 273M115 317Q162 302 216 320M137 232Q212 181 331 224M96 281Q138 249 207 265M116 285Q169 257 242 283M102 257Q150 203 231 184M102 260Q151 215 238 224M109 300Q153 268 207 252M132 290Q193 253 265 236M123 274Q182 235 266 243M120 265Q178 218 264 216M149 282Q222 243 310 237M129 290Q188 255 261 249M147 275Q219 227 301 198M96 254Q144 206 235 215M97 305Q135 283 188 297M140 267Q209 237 301 286M101 251Q152 204 247 222M146 296Q216 273 297 295M127 246Q193 194 298 209M122 332Q172 328 222 352M86 297Q119 271 173 279M119 280Q174 251 251 280M134 301Q196 272 266 266M137 271Q202 219 278 184M101 325Q137 311 179 313M120 266Q178 223 265 228M138 277Q206 239 293 241M156 297Q231 265 313 250" stroke="#de72ea" stroke-opacity="0.04"/>
<path d="M327 324Q266 277 237 197M319 364Q253 338 215 258M311 332Q246 284 231 184M349 325Q300 284 271 222M323 330Q265 284 250 195M304 374Q226 351 177 264M293 353Q208 319 150 231M336 351Q274 328 221 282M322 368Q260 342 235 254M329 340Q271 302 247 222M317 349Q241 325 173 279M343 358Q287 338 241 293M279 342Q199 292 191 162M360 383Q311 381 265 359M334 352Q275 325 234 264M339 366Q285 344 260 274M368 348Q335 320 334 265M353 344Q310 313 297 249M313 354Q245 320 216 229M373 319Q337 278 313 228M377 312Q345 267 328 212M301 375Q227 347 196 243M366 380Q327 371 301 325M331 321Q266 279 213 220M380 361Q346 349 315 328M338 295Q285 233 262 148M305 400Q227 389 174 296M314 321Q242 274 193 197M335 364Q278 340 246 272M344 400Q289 397 245 336M362 382Q317 376 283 334M327 361Q270 332 252 247M360 332Q317 296 293 241M374 348Q338 326 311 291M342 321Q285 279 238 224M318 352Q254 318 229 229M334 330Q271 293 222 237M317 376Q252 353 224 262M330 373Q269 354 232 284M353 311Q307 261 282 194M301 344Q229 301 209 194M369 334Q331 302 306 256M338 363Q281 342 242 283M375 321Q342 282 322 231M298 353Q223 315 193 211M324 359Q265 328 246 241M319 409Q247 407 189 329" stroke="#de72ea" stroke-opacity="0.04"/>
<path d="M102 327Q134 285 204 279M102 343Q128 304 173 279M101 306Q135 247 213 220M127 349Q169 317 227 310M143 297Q204 238 303 227M104 279Q147 211 258 204M161 305Q229 243 318 208M110 350Q142 319 193 312M115 304Q159 248 244 232M132 324Q182 279 260 274M139 287Q201 230 313 250M140 330Q192 289 267 281M111 280Q158 213 268 207M132 278Q190 210 301 198M91 291Q125 227 223 212M161 324Q225 274 305 245M142 357Q192 329 253 324M123 331Q163 286 224 262M80 299Q106 237 193 211M154 346Q211 309 277 285M140 306Q194 245 276 212M110 294Q152 231 245 212M113 257Q167 180 298 176M139 330Q188 284 255 258M136 316Q189 265 271 251M147 294Q212 237 319 242M96 317Q125 264 196 243M117 274Q167 202 278 184M135 321Q187 280 270 292M123 368Q159 347 204 342M106 331Q134 284 185 251M139 373Q184 353 235 345M138 294Q197 236 300 235M122 337Q161 295 217 270M163 332Q229 290 313 282M79 331Q98 288 161 272M130 283Q186 216 291 200M151 309Q214 260 311 264M106 315Q142 264 217 247M144 326Q200 287 283 295M104 290Q144 223 237 197M139 324Q190 277 264 257M103 327Q127 274 166 229M175 323Q249 272 337 244M129 306Q172 240 231 184M114 332Q149 288 207 265M132 328Q177 278 239 247M170 357Q239 331 315 328M128 292Q180 226 274 199M121 339Q162 309 229 330M114 324Q153 279 226 273M132 300Q182 235 262 196M93 272Q129 195 234 160M107 309Q138 246 193 197M166 335Q233 293 313 273M89 298Q111 227 169 170M115 367Q147 345 189 344M96 357Q118 330 161 324M159 349Q221 324 296 340M136 355Q183 335 243 358M98 334Q120 285 156 244M118 281Q169 218 281 219M149 302Q210 242 302 218M124 281Q178 215 289 212M149 293Q206 219 282 160M93 348Q115 316 165 310M143 344Q196 309 262 298M78 306Q100 246 179 218M153 301Q220 253 325 275M92 329Q116 284 177 264M121 360Q156 334 203 326M163 338Q227 295 301 268M108 297Q142 226 203 170M97 287Q134 222 234 206M146 324Q200 273 273 245M137 299Q195 244 293 241M127 311Q176 259 261 249M124 281Q176 212 282 194M160 334Q223 292 302 277M140 345Q189 309 251 291M129 316Q173 258 235 215M101 329Q133 290 202 293M96 326Q120 275 173 241M159 302Q229 252 334 265M104 351Q131 321 179 313M138 315Q190 259 265 228M116 354Q147 321 188 297M99 343Q120 300 150 262M103 285Q144 219 246 203M149 317Q206 262 282 228M65 285Q86 212 183 175M162 319Q231 272 323 266M126 357Q167 335 222 352M96 308Q118 242 164 185M86 269Q119 188 225 148M124 323Q166 273 229 243M169 329Q241 291 332 294M115 271Q161 190 262 148M134 306Q181 242 250 195M148 360Q201 336 264 337M135 311Q189 265 281 277M131 329Q177 284 244 263M144 306Q202 249 291 229M109 304Q149 248 236 236M120 332Q158 286 215 258M90 336Q106 289 142 250M111 339Q143 296 192 268M137 309Q190 253 274 231M138 298Q194 234 283 205M69 308Q83 246 147 200M82 309Q102 246 161 200M64 312Q76 253 147 216M122 335Q158 288 207 252M154 327Q216 291 303 311M130 270Q190 199 311 197M154 333Q214 292 291 279M101 322Q124 265 162 215M152 335Q211 299 290 302M162 315Q229 260 313 228M144 316Q201 267 287 259M124 303Q174 249 266 243M118 303Q156 236 214 181M136 331Q184 284 246 254M112 359Q143 332 189 329M170 323Q242 275 331 256M121 353Q157 322 207 307M151 355Q207 333 275 347M160 344Q223 309 297 295M138 350Q184 314 241 293M105 317Q136 261 198 226" stroke="#de72ea" stroke-opacity="0.04"/>
<path d="M327 349Q279 302 246 241M307 322Q253 253 234 160M334 420Q291 411 265 359M336 347Q302 297 303 227M291 404Q225 379 188 297M299 370Q230 334 173 279M322 370Q275 332 256 267M283 385Q206 353 149 283M325 345Q280 293 257 223M327 385Q284 355 270 292M354 373Q326 342 318 297M327 338Q282 283 256 213M315 389Q270 358 267 281M299 372Q237 331 207 252M325 375Q276 344 241 293M291 384Q216 360 147 317M272 376Q197 331 166 229M282 374Q210 331 173 241M336 341Q294 290 265 228M330 346Q293 294 292 221M293 349Q237 290 241 188M327 333Q290 271 301 188M319 357Q269 313 239 247M302 407Q237 390 189 329M339 339Q311 284 328 212M261 384Q177 342 136 236M301 325Q239 258 203 170M271 364Q202 310 193 197" stroke="#de72ea" stroke-opacity="0.04"/>
<path d="M111 365Q114 306 142 250M136 358Q156 297 196 243M121 318Q143 233 222 170M160 388Q197 354 254 348M134 363Q155 307 207 265M126 302Q159 213 267 162M122 346Q141 280 205 231M157 349Q200 295 288 287M146 364Q171 306 215 258M135 396Q150 360 175 328M124 347Q142 280 198 226M118 358Q131 298 185 251M142 391Q164 353 203 326M125 380Q142 337 193 312M141 329Q169 250 231 184M144 317Q176 232 253 167M144 390Q170 354 217 337M133 339Q162 274 246 241M129 297Q166 206 282 160M121 373Q132 321 173 279M142 349Q171 287 239 247M94 300Q111 208 225 148M134 391Q156 360 208 357M148 306Q190 220 298 176M172 358Q216 298 278 254M134 333Q161 258 234 206M149 348Q185 289 266 266M118 386Q124 343 152 304M161 378Q195 331 241 293M111 370Q124 322 188 297M151 353Q190 303 275 301M164 379Q200 333 252 301M164 383Q203 346 264 337M138 362Q165 310 232 284M117 364Q127 306 165 255M151 390Q178 351 216 320M131 350Q157 291 234 264M102 336Q114 263 193 211M139 330Q170 255 246 203M147 344Q174 273 223 212M112 340Q123 267 177 203M162 334Q200 258 262 196M91 381Q90 334 140 295M116 344Q121 271 147 200M149 346Q181 280 244 232M133 344Q163 282 246 254M180 384Q226 343 287 320M126 337Q139 260 178 189M152 357Q182 295 229 243M164 366Q202 312 260 274M176 342Q230 283 323 266M95 322Q106 241 196 183M165 371Q203 321 260 287M171 348Q216 283 286 237M143 334Q180 268 273 245M159 396Q192 366 243 358M143 369Q169 317 221 282M196 358Q256 301 334 265M183 388Q232 352 296 340M154 306Q205 230 331 224M157 331Q193 252 256 187M153 389Q183 352 229 330M146 310Q190 230 301 198M152 319Q198 249 310 237M166 331Q218 271 325 275M160 363Q200 313 270 292M124 327Q153 257 254 231M158 343Q200 282 287 259M110 342Q118 268 161 200M177 358Q228 306 311 291M158 355Q200 304 283 295M138 357Q168 304 242 283M159 341Q195 270 256 213M172 353Q218 292 287 251M105 306Q127 221 240 174M137 369Q155 315 192 268M109 382Q117 340 165 310M143 342Q172 274 238 224M187 367Q242 319 318 297M170 383Q211 343 270 324M149 351Q184 291 255 258M97 301Q116 212 234 160M184 334Q238 261 318 208M126 353Q149 297 226 273M180 336Q234 268 322 231M139 347Q163 278 213 220M128 330Q157 259 247 222M176 361Q225 309 301 286M186 364Q240 312 313 282M146 378Q173 334 227 310M124 350Q147 291 224 262M165 317Q220 248 337 244M104 376Q108 326 149 283M168 345Q208 275 264 216M124 356Q146 300 217 270M107 319Q122 235 203 170M145 324Q187 256 293 241M151 339Q193 281 291 279M156 394Q187 361 235 345M85 352Q85 287 150 231M163 328Q213 264 319 257M172 335Q221 264 302 218M176 330Q230 258 322 220M117 379Q125 331 161 291M117 357Q128 295 173 241M154 315Q195 232 283 175M167 344Q208 276 271 222M172 399Q212 369 265 359M150 323Q195 255 305 245M157 348Q196 286 271 251M89 358Q87 295 136 236M133 348Q162 290 246 272M147 300Q193 214 313 181M139 349Q163 282 216 229M147 341Q186 284 281 277M138 334Q172 268 266 243M106 388Q112 349 161 324M148 322Q189 248 292 221M106 361Q116 305 177 264M92 357Q94 295 156 244M148 357Q178 298 235 254M170 324Q224 255 330 237M112 328Q124 246 183 175M101 318Q118 236 214 181M166 388Q203 349 253 324M161 315Q209 236 311 197M166 355Q210 298 282 267M99 368Q104 314 161 272M166 363Q208 312 277 285M118 335Q141 266 229 229" stroke="#de72ea" stroke-opacity="0.04"/>
<path d="M261 374Q227 302 213 220M267 432Q232 399 208 357M277 409Q259 360 275 301M251 414Q222 363 251 291M223 366Q187 282 240 174M254 414Q224 364 241 293M266 408Q244 357 270 292M292 359Q285 279 311 197M263 366Q242 287 274 199M273 392Q247 331 244 263M261 390Q229 327 225 252M274 416Q248 372 238 319M281 404Q265 353 283 295M261 387Q226 324 207 252M287 357Q274 275 291 190M271 394Q255 335 291 269M271 381Q255 315 293 241M287 431Q269 399 265 359M269 383Q243 317 246 241M287 387Q280 326 323 266M286 371Q268 299 271 222M276 368Q269 295 331 224M230 380Q194 305 234 206M232 412Q192 358 217 270M247 356Q208 270 203 170M241 369Q213 291 262 196M206 386Q147 312 147 200M290 352Q282 267 313 181M199 418Q138 360 142 250M263 420Q229 377 216 320M244 369Q203 290 193 197M212 375Q169 294 214 181M283 396Q278 344 332 294M222 407Q174 347 185 251M261 367Q229 290 224 202M244 378Q208 304 223 212M273 433Q249 398 254 348M230 361Q181 275 169 170M218 424Q167 373 173 279M255 374Q226 300 245 212M233 374Q192 296 209 194M275 393Q258 334 282 267M303 363Q297 286 308 207M210 392Q162 321 193 211M226 360Q193 274 253 167M270 409Q254 361 290 302M279 372Q269 301 313 228M267 382Q244 314 265 236M296 421Q286 382 296 340M281 392Q262 332 266 266M234 424Q180 382 147 317M284 399Q272 345 301 286M242 387Q202 320 205 231M272 398Q256 342 291 279M244 372Q223 298 289 212M276 408Q253 359 252 301M251 359Q233 276 301 188M244 437Q198 402 174 343M249 369Q217 291 237 197M303 414Q298 371 315 328M247 397Q215 336 235 254M279 418Q260 376 270 324M297 390Q288 330 301 268M278 377Q267 308 310 237M296 386Q285 324 297 259M295 368Q290 294 322 220M262 377Q237 306 257 223M257 395Q234 335 275 261M260 391Q239 328 278 254M233 409Q189 353 192 268M246 399Q210 339 215 258M259 431Q222 395 204 342M286 388Q276 327 311 264M283 363Q275 286 318 208M260 359Q240 276 278 184M264 403Q238 349 251 280M235 405Q185 349 161 272M289 385Q280 322 306 256M241 410Q198 357 187 282M309 379Q308 313 326 248M276 394Q252 337 246 272M254 369Q233 292 283 205M270 377Q248 307 265 228M262 362Q246 283 301 198M203 392Q150 319 177 203M260 393Q236 332 264 257M225 404Q174 345 165 255M258 439Q227 405 235 345M270 373Q254 300 292 221M295 351Q285 264 298 176M246 377Q219 305 264 216M211 411Q149 353 130 258M258 362Q234 281 269 189M213 426Q156 377 149 283M233 424Q188 377 188 297M233 380Q202 307 256 213M264 444Q234 416 229 365M293 368Q284 294 302 218M222 426Q169 378 161 291M233 349Q204 257 262 148M285 415Q264 371 253 324M268 403Q249 350 277 285M281 422Q265 383 283 334M282 373Q277 304 330 237M235 432Q185 392 161 324M225 419Q169 371 140 295M240 383Q205 313 225 221M295 393Q286 337 302 277M245 398Q215 337 246 254M270 379Q244 309 244 232M251 416Q216 368 219 297M250 350Q228 260 282 160M284 384Q270 320 287 251M271 363Q246 282 250 195M236 397Q202 335 239 247M223 404Q183 342 217 247M213 379Q162 301 178 189M238 384Q207 313 247 222M233 356Q193 267 212 158M268 379Q244 310 254 231M267 388Q245 325 271 251M259 413Q220 367 193 312M294 385Q292 323 334 265M228 393Q188 326 216 229M258 379Q229 308 238 224M236 451Q192 419 189 344M275 400Q249 345 242 283M276 397Q254 340 260 274M293 407Q287 360 318 312M216 413Q160 356 150 262" stroke="#de72ea" stroke-opacity="0.04"/>
<path d="M175 390Q192 335 241 293M130 406Q120 356 152 304M151 367Q155 294 198 226M124 347Q117 258 169 170M147 355Q156 277 223 212M152 354Q170 282 266 243M161 354Q169 272 209 194M162 319Q192 227 313 181M185 346Q210 261 269 189M150 334Q171 250 283 205M204 366Q240 297 305 245M140 384Q140 323 192 268M154 416Q156 378 189 344M199 337Q230 245 282 160M121 394Q107 336 138 272M200 346Q239 265 318 208M170 348Q194 270 281 219M185 402Q209 359 264 337M175 337Q207 257 312 218M140 411Q131 366 147 317M152 393Q157 339 202 293M179 398Q200 352 253 324M127 406Q119 358 165 310M153 411Q159 371 204 342M113 375Q104 307 173 241M154 372Q163 304 217 247M153 381Q165 323 232 284M180 345Q198 256 240 174M131 380Q123 313 156 244M212 410Q248 369 296 340M187 411Q209 372 254 348M138 396Q129 341 149 283M149 397Q150 345 188 297M175 358Q202 289 287 251M193 339Q219 247 267 162M131 391Q123 332 161 272M213 379Q252 319 313 273M202 354Q241 279 322 231M176 389Q200 341 270 324M191 390Q221 341 287 320M163 365Q178 294 236 236M175 334Q210 253 322 220M133 340Q140 253 231 184M179 414Q192 374 217 337M158 345Q173 260 241 188M184 340Q214 255 291 190M174 403Q184 353 207 307M171 363Q196 298 282 267M177 348Q199 264 262 196M197 372Q225 304 273 245M193 363Q223 292 286 237M121 383Q113 319 165 255M201 382Q234 322 291 279M178 341Q207 258 291 200M199 386Q235 334 303 311M168 347Q190 266 268 207M172 401Q189 357 245 336M136 413Q129 369 161 324M131 369Q128 298 185 231M161 404Q165 356 193 312M193 347Q233 272 330 237M172 344Q192 259 256 187M172 334Q202 249 301 198M190 355Q227 287 319 257M126 357Q128 281 213 220M225 390Q271 335 332 294M157 378Q171 320 242 283M146 409Q147 366 189 329M140 372Q135 300 166 229M168 351Q191 275 271 222M181 376Q210 320 290 302M147 341Q161 257 250 195M110 390Q96 329 150 262M166 336Q184 244 253 167M168 338Q197 258 302 218M104 392Q85 331 130 258M182 385Q203 326 251 280M147 367Q151 295 205 231M146 345Q153 259 214 181M180 387Q196 328 226 273M182 386Q200 327 236 273M164 354Q187 281 276 238M156 360Q174 290 261 249M178 419Q192 382 222 352M176 368Q201 302 275 261M104 361Q91 281 161 200M188 363Q211 289 257 223M150 379Q151 314 185 251M125 335Q129 244 222 170M121 367Q111 291 162 215M141 340Q155 257 258 204M165 337Q190 251 282 194M126 327Q131 230 225 148M197 354Q238 285 331 256M179 360Q210 294 301 268M190 380Q217 319 272 273M159 392Q162 336 187 282M151 360Q166 290 252 247M216 363Q262 292 337 244M150 354Q166 279 254 231M199 377Q232 315 291 269M184 349Q210 267 274 199M201 420Q228 385 265 359M192 373Q219 306 271 251M153 366Q169 301 256 267M159 372Q167 302 210 240M158 392Q172 343 238 319M190 393Q213 338 251 291M187 386Q213 330 270 292M153 357Q166 282 238 224M130 342Q137 258 237 197M148 366Q147 291 179 218M152 419Q151 380 174 343M132 340Q131 248 191 162M160 389Q167 331 204 279M179 374Q194 306 229 243M178 363Q201 291 265 236M175 340Q204 258 298 209M181 379Q205 320 267 281M191 362Q226 294 306 256M147 348Q147 260 183 175M179 382Q199 321 246 272M154 377Q162 312 215 258M201 363Q234 290 291 229M189 351Q219 272 289 212M142 378Q148 316 217 270M195 379Q232 330 315 328M173 378Q197 323 275 301M172 405Q186 361 229 330M192 372Q229 318 318 312" stroke="#de72ea" stroke-opacity="0.04"/>
<path d="M200 392Q170 320 205 231M205 362Q169 272 169 170M195 368Q160 280 183 175M213 371Q201 291 276 212M269 415Q270 367 287 320M248 425Q241 382 264 337M182 430Q141 379 161 291M227 433Q205 392 217 337M255 407Q254 353 290 302M167 405Q124 335 166 229M242 375Q243 301 310 237M242 404Q237 349 283 295M247 370Q253 296 330 237M184 420Q142 362 161 272M269 365Q279 285 328 212M276 423Q280 381 296 340M248 381Q236 308 244 232M254 385Q256 317 306 256M228 368Q222 289 289 212M243 424Q227 380 229 330M242 399Q232 338 260 274M258 393Q256 330 282 267M252 379Q247 305 274 231M248 376Q241 299 271 222M270 385Q281 320 334 265M274 381Q284 311 326 248M210 406Q180 345 192 268M216 366Q202 283 262 196M205 422Q173 370 188 297M223 427Q191 382 175 328M248 380Q245 308 286 237M213 360Q194 271 240 174M270 396Q277 337 313 282M229 402Q210 342 226 273M219 392Q191 323 196 243M200 357Q177 264 234 160M189 407Q142 344 130 258M270 364Q274 280 301 198M240 407Q228 352 251 291M180 413Q139 350 165 255M258 394Q253 330 266 266M240 404Q221 346 221 282M257 385Q251 314 266 243M251 391Q244 325 264 257M246 349Q241 254 282 160M238 375Q234 300 291 229M225 420Q200 369 207 307M185 424Q142 369 149 283M270 379Q278 307 319 242M249 418Q235 370 238 319M208 384Q191 311 254 231M263 390Q271 327 325 275M266 387Q274 322 323 266M222 384Q192 312 185 231M216 391Q195 322 229 243M173 420Q127 360 150 262M243 354Q231 261 253 167M229 368Q207 284 209 194M199 426Q159 376 152 304M210 428Q180 380 193 312M208 413Q167 359 140 295M231 363Q213 276 231 184M241 435Q232 398 265 359M248 386Q251 321 311 264M181 393Q142 319 179 218M213 363Q199 277 269 189M242 348Q230 252 247 153M190 420Q152 364 173 279M245 374Q237 295 264 216M255 392Q250 327 275 261M249 413Q249 365 301 325" stroke="#de72ea" stroke-opacity="0.04"/>
<path d="M55 157Q111 142 165 144M55 157Q116 119 167 123M55 157Q99 160 142 170M55 157Q93 162 112 180M55 157Q110 155 159 170M55 157Q98 155 139 161M55 157Q134 112 189 123M55 157Q107 168 148 193M55 157Q139 150 181 181M55 157Q97 154 119 170M55 157Q109 147 139 164M55 157Q107 153 155 163M55 157Q133 137 196 154M55 157Q119 164 177 186M55 157Q146 133 198 158M55 157Q102 124 139 126M55 157Q129 135 182 153M55 157Q110 137 157 145M55 157Q101 158 137 176M55 157Q96 139 124 147M55 157Q88 140 119 141M55 157Q88 157 107 171M55 157Q103 151 149 159M55 157Q106 172 144 202M55 157Q90 189 117 227M55 157Q88 122 121 117M55 157Q122 119 181 122M55 157Q111 151 164 160M55 157Q121 147 158 170M55 157Q110 174 150 208M55 157Q101 164 131 187M55 157Q81 165 102 179M55 157Q99 163 133 183M55 157Q129 115 184 125M55 157Q118 142 174 153M55 157Q116 157 170 174M55 157Q88 135 119 134M55 157Q93 176 116 205M55 157Q135 134 183 156M55 157Q96 153 134 159M55 157Q128 118 176 129M55 157Q116 169 171 193M55 157Q129 120 179 133M55 157Q119 141 163 158M55 157Q115 143 171 150M55 157Q88 147 115 154M55 157Q84 146 111 148M55 157Q90 159 118 172M55 157Q117 180 165 219M55 157Q126 164 178 196M55 157Q105 151 130 169M55 157Q121 164 148 193M55 157Q126 152 162 178M55 157Q96 170 131 192M55 157Q90 153 120 161M55 157Q108 106 155 104M55 157Q111 158 163 170M55 157Q82 134 106 133M55 157Q108 155 153 173M55 157Q106 120 144 124M55 157Q96 184 131 217M55 157Q134 120 190 134M55 157Q118 139 174 149M55 157Q107 160 154 177M55 157Q89 155 123 159M55 157Q102 150 130 166M55 157Q101 136 140 141M55 157Q104 186 139 225M55 157Q125 132 184 142M55 157Q89 137 113 142M55 157Q108 164 151 187M55 157Q97 130 134 131M55 157Q112 155 164 168M55 157Q108 155 156 169M55 157Q136 120 195 135M55 157Q135 130 191 148M55 157Q89 176 113 202M55 157Q97 169 133 189M55 157Q91 185 118 220M55 157Q99 165 123 189M55 157Q92 132 127 130M55 157Q115 162 163 186M55 157Q118 150 175 164M55 157Q143 142 203 169M55 157Q98 149 126 162M55 157Q112 129 153 138M55 157Q125 122 183 130M55 157Q108 174 149 205M55 157Q117 164 175 185M55 157Q112 122 158 127M55 157Q107 142 151 151M55 157Q114 157 147 181M55 157Q86 158 115 165M55 157Q97 150 122 165M55 157Q100 147 139 155M55 157Q106 139 139 152M55 157Q99 108 141 102M55 157Q82 145 106 148M55 157Q100 167 142 185M55 157Q117 154 148 178M55 157Q108 144 151 156M55 157Q84 123 113 118M55 157Q97 160 131 178M55 157Q101 166 139 188M55 157Q121 122 168 132M55 157Q92 167 117 189M55 157Q110 163 157 185M55 157Q111 130 163 131M55 157Q96 116 140 107M55 157Q90 187 120 223M55 157Q111 130 158 136M55 157Q107 132 154 136M55 157Q99 132 139 133" stroke="#eea050" stroke-opacity="0.110"/>
<path d="M368 446Q314 397 274 338M368 446Q328 403 311 354M368 446Q309 446 271 421M368 446Q310 440 278 412M368 446Q326 415 313 378M368 446Q311 399 267 343M368 446Q313 408 292 360M368 446Q343 412 329 374M368 446Q310 422 263 385M368 446Q348 409 336 370M368 446Q334 437 308 419M368 446Q312 415 273 372M368 446Q327 419 308 383M368 446Q314 425 286 388M368 446Q319 429 289 398M368 446Q302 420 257 376M368 446Q317 415 289 372M368 446Q338 421 324 391M368 446Q300 423 262 379M368 446Q307 420 265 378M368 446Q297 439 245 407M368 446Q317 420 288 381M368 446Q310 404 278 349M368 446Q311 430 276 397M368 446Q314 435 270 409M368 446Q312 442 266 420M368 446Q295 421 260 374M368 446Q277 449 221 412M368 446Q307 419 275 375M368 446Q338 432 318 410M368 446Q310 450 274 429M368 446Q328 411 304 368M368 446Q294 438 250 402M368 446Q309 409 283 360M368 446Q313 408 268 361M368 446Q303 436 262 403M368 446Q336 395 321 339M368 446Q323 410 296 365M368 446Q276 435 225 390M368 446Q317 404 292 351M368 446Q329 418 305 382M368 446Q333 414 323 378M368 446Q308 431 279 397M368 446Q318 432 293 403M368 446Q319 420 290 382M368 446Q324 422 293 388M368 446Q277 422 233 369M368 446Q302 435 268 401M368 446Q330 398 304 345M368 446Q321 414 307 375M368 446Q315 419 285 379M368 446Q339 418 324 384M368 446Q346 428 330 407M368 446Q318 416 297 375M368 446Q298 421 247 376M368 446Q307 403 282 348M368 446Q336 424 318 395M368 446Q309 434 268 403M368 446Q325 416 299 376M368 446Q326 431 308 405M368 446Q285 428 233 381M368 446Q308 419 281 377M368 446Q345 406 333 364M368 446Q314 435 276 406M368 446Q319 418 300 380M368 446Q305 422 268 380M368 446Q330 439 305 419M368 446Q305 402 271 345M368 446Q314 430 276 399M368 446Q306 408 266 355M368 446Q324 407 305 360M368 446Q308 438 261 411M368 446Q305 429 270 392M368 446Q338 405 325 361M368 446Q313 414 291 371M368 446Q318 427 291 394M368 446Q324 421 304 386M368 446Q313 420 288 380M368 446Q324 401 303 348M368 446Q321 411 284 368M368 446Q306 417 272 372M368 446Q319 413 287 369M368 446Q300 411 262 359M368 446Q323 438 284 419M368 446Q333 413 312 374M368 446Q321 445 287 425M368 446Q307 408 282 357M368 446Q320 418 290 378M368 446Q304 453 260 431M368 446Q324 424 302 390M368 446Q335 400 316 349M368 446Q322 424 283 394M368 446Q332 424 311 394M368 446Q305 411 274 362M368 446Q315 416 292 374M368 446Q326 404 294 356M368 446Q297 436 257 400M368 446Q335 416 322 381M368 446Q320 401 296 347M368 446Q325 446 292 430M368 446Q344 416 326 384M368 446Q305 413 277 366M368 446Q330 442 308 424M368 446Q335 402 314 354" stroke="#eea050" stroke-opacity="0.110"/>
<path d="M225 488Q175 424 172 365M225 488Q196 424 182 358M225 488Q205 428 196 367M225 488Q193 433 190 380M225 488Q220 437 229 390M225 488Q215 436 227 392M225 488Q227 430 243 376M225 488Q171 463 148 425M225 488Q209 450 214 418M225 488Q163 440 140 381M225 488Q200 415 216 360M225 488Q192 454 188 420M225 488Q194 413 202 348M225 488Q177 411 176 338M225 488Q201 436 187 382M225 488Q212 421 213 355M225 488Q194 423 192 360M225 488Q173 430 167 374M225 488Q228 442 245 404M225 488Q185 437 176 383M225 488Q224 435 233 383M225 488Q207 423 216 364M225 488Q196 429 203 381M225 488Q216 440 229 401M225 488Q161 451 135 401M225 488Q233 427 252 370M225 488Q211 450 210 413M225 488Q212 462 206 434M225 488Q162 448 139 396M225 488Q217 438 222 389M225 488Q168 455 148 412M225 488Q211 446 212 405M225 488Q192 423 199 369M225 488Q212 435 221 390M225 488Q197 428 192 368M225 488Q200 436 208 394M225 488Q198 424 198 362M225 488Q184 436 177 383M225 488Q214 427 216 367M225 488Q187 407 197 340M225 488Q177 426 175 369M225 488Q210 433 208 379M225 488Q177 416 174 348M225 488Q211 426 218 367M225 488Q208 430 208 373M225 488Q219 427 235 373M225 488Q175 421 167 355M225 488Q190 441 189 399M225 488Q152 435 133 374M225 488Q174 435 167 384M225 488Q201 417 212 356M225 488Q166 434 146 372M225 488Q219 459 222 432M225 488Q191 417 198 354M225 488Q219 444 231 408M225 488Q219 424 235 369" stroke="#eea050" stroke-opacity="0.110"/>
<path d="M165 144Q240 146 313 181M167 123Q237 128 289 212M142 170Q201 184 256 213M112 180Q139 206 130 258M159 170Q227 190 282 244M139 161Q196 170 250 195M189 123Q265 138 297 259M148 193Q205 229 241 293M181 181Q239 223 217 337M119 170Q150 192 142 250M139 164Q180 188 177 264M155 163Q222 177 281 219M196 154Q283 178 342 273M177 186Q257 216 325 275M198 158Q271 194 270 324M139 126Q190 130 224 202M182 153Q256 178 291 279M157 145Q222 156 271 222M137 176Q186 200 215 258M124 147Q163 157 179 218M119 141Q161 144 196 183M107 171Q134 190 136 236M149 159Q211 169 268 207M144 202Q197 242 227 310M117 227Q154 280 174 343M121 117Q167 110 212 158M181 122Q263 127 328 212M164 160Q237 173 302 218M158 170Q209 201 202 293M150 208Q204 253 229 330M131 187Q174 219 187 282M102 179Q131 199 150 231M133 183Q180 211 207 265M184 125Q259 138 297 249M174 153Q250 169 310 237M170 174Q244 198 306 256M119 134Q163 132 203 170M116 205Q149 245 152 304M183 156Q249 186 252 301M134 159Q188 168 237 197M176 129Q243 145 264 257M171 193Q248 226 313 282M179 133Q249 150 275 261M163 158Q224 183 246 272M171 150Q249 159 318 208M115 154Q152 163 177 203M111 148Q148 150 183 175M118 172Q158 190 185 231M165 219Q230 273 265 359M178 196Q249 240 283 334M130 169Q165 193 150 262M148 193Q185 234 147 317M162 178Q212 215 193 312M131 192Q180 222 217 270M120 161Q161 173 193 211M155 104Q219 100 269 189M163 170Q236 187 303 227M106 133Q140 131 169 170M153 173Q213 197 255 258M144 124Q196 129 223 212M131 217Q179 262 216 320M190 134Q267 153 301 268M174 149Q250 162 313 228M154 177Q218 201 271 251M123 159Q169 165 214 181M130 166Q167 188 165 255M140 141Q194 149 234 206M139 225Q188 280 208 357M184 142Q267 156 330 237M113 142Q147 148 161 200M151 187Q211 218 251 280M134 131Q186 131 231 184M164 168Q237 187 300 235M156 169Q222 188 276 238M195 135Q276 155 313 273M191 148Q269 174 301 286M113 202Q147 239 161 291M133 189Q184 217 224 262M118 220Q155 268 175 328M123 189Q155 221 149 283M127 130Q177 127 222 170M163 186Q228 220 270 292M175 164Q253 183 319 242M203 169Q286 207 315 328M126 162Q164 181 173 241M153 138Q210 151 236 236M183 130Q264 140 322 231M149 205Q206 248 238 319M175 185Q254 213 323 266M158 127Q222 133 264 216M151 151Q211 163 257 223M147 181Q192 215 188 297M115 165Q156 174 193 197M122 165Q156 184 156 244M139 155Q193 167 235 215M139 152Q185 168 196 243M141 102Q199 93 253 167M106 148Q139 152 164 185M142 185Q201 209 252 247M148 178Q191 211 174 296M151 156Q209 174 246 241M113 118Q153 111 191 162M131 178Q177 202 207 252M139 188Q191 218 226 273M168 132Q234 145 266 243M117 189Q151 219 161 272M157 185Q222 214 272 273M163 131Q235 133 301 188M140 107Q199 96 262 148M120 223Q161 271 189 329M158 136Q225 143 276 212M154 136Q219 140 274 199M139 133Q194 135 241 188" stroke="#eea050" stroke-opacity="0.036"/>
<path d="M274 338Q219 258 191 162M311 354Q288 286 308 207M271 421Q219 388 207 307M278 412Q234 374 241 293M313 378Q296 327 334 265M267 343Q206 265 169 170M292 360Q263 294 298 209M329 374Q309 323 311 264M263 385Q197 335 150 262M336 370Q319 316 319 257M308 419Q273 393 254 348M273 372Q219 311 198 226M308 383Q283 334 301 268M286 388Q246 338 255 258M289 398Q247 355 242 283M257 376Q197 314 179 218M289 372Q250 313 254 231M324 391Q305 349 318 297M262 379Q209 319 213 220M265 378Q207 320 185 231M245 407Q174 363 138 272M288 381Q249 327 252 247M278 349Q234 273 240 174M276 397Q226 351 217 270M270 409Q208 373 165 310M266 420Q203 390 161 324M260 374Q211 310 234 206M221 412Q145 362 136 236M275 375Q230 315 238 224M318 410Q290 379 283 334M274 429Q225 399 216 320M304 368Q270 309 265 236M250 402Q189 353 185 251M283 360Q247 292 274 199M268 361Q205 297 162 215M262 403Q204 358 192 268M321 339Q300 263 313 181M296 365Q259 302 257 223M225 390Q155 328 161 200M292 351Q257 279 269 189M305 382Q271 332 266 266M323 378Q309 329 342 273M279 397Q238 350 256 267M293 403Q258 363 270 292M290 382Q250 330 246 254M293 388Q252 341 236 273M233 369Q172 297 203 170M268 401Q221 355 234 264M304 345Q268 271 256 187M307 375Q288 322 331 256M285 379Q244 323 246 241M324 384Q304 338 313 282M330 407Q307 377 296 340M297 375Q267 318 293 241M247 376Q178 315 147 216M282 348Q247 273 283 175M318 395Q292 355 290 302M268 403Q211 361 187 282M299 376Q264 322 261 249M308 405Q283 369 303 311M233 381Q160 317 147 200M281 377Q245 318 274 231M333 364Q316 305 319 242M276 406Q223 367 202 293M300 380Q274 328 306 256M268 380Q217 322 216 229M305 419Q271 390 264 337M271 345Q225 265 234 160M276 399Q224 354 204 279M266 355Q210 282 196 183M305 360Q279 296 302 218M261 411Q195 375 152 304M270 392Q221 341 225 252M325 361Q307 300 322 231M291 371Q260 311 291 229M291 394Q254 348 260 274M304 386Q275 337 291 269M288 380Q253 326 273 245M303 348Q275 276 291 190M284 368Q234 307 205 231M272 372Q226 309 235 215M287 369Q242 309 229 229M262 359Q209 287 214 181M284 419Q230 393 189 344M312 374Q282 320 278 254M287 425Q240 398 217 337M282 357Q247 287 282 194M290 378Q248 323 239 247M260 431Q200 400 179 313M302 390Q271 344 281 277M316 349Q290 279 291 200M283 394Q229 353 188 297M311 394Q283 353 283 295M274 362Q231 293 250 195M292 374Q260 317 286 237M294 356Q249 290 223 212M257 400Q202 351 207 252M322 381Q304 333 325 275M296 347Q264 274 278 184M292 430Q247 407 222 352M326 384Q301 338 288 287M277 366Q239 300 268 207M308 424Q277 399 275 347M314 354Q284 287 276 212" stroke="#eea050" stroke-opacity="0.036"/>
<path d="M172 365Q168 284 256 213M182 358Q162 266 169 170M196 367Q184 283 193 197M190 380Q186 307 236 236M229 390Q242 325 282 267M227 392Q243 331 301 286M243 376Q264 303 310 237M148 425Q116 372 140 295M214 418Q220 373 264 337M140 381Q107 301 147 200M216 360Q238 284 337 244M188 420Q182 374 229 330M202 348Q214 258 301 188M176 338Q175 239 262 148M187 382Q168 307 166 229M213 355Q214 264 240 174M192 360Q189 273 241 188M167 374Q159 297 238 224M245 404Q268 351 318 312M176 383Q162 309 205 231M233 383Q245 312 273 245M216 364Q228 282 289 212M203 381Q213 315 291 269M229 401Q246 347 303 311M135 401Q99 331 136 236M252 370Q277 292 322 220M210 413Q207 361 227 310M206 434Q199 397 208 357M139 396Q107 324 150 231M222 389Q228 322 255 258M148 412Q120 352 161 272M212 405Q213 348 241 293M199 369Q209 295 293 241M221 390Q235 327 291 279M192 368Q186 285 224 202M208 394Q219 338 290 302M198 362Q198 276 250 195M177 383Q167 310 222 237M216 367Q219 284 246 203M197 340Q210 248 313 181M175 369Q172 290 257 223M208 379Q206 304 229 229M174 348Q170 253 253 167M218 367Q228 286 276 212M208 373Q207 293 235 215M235 373Q257 300 319 242M167 355Q156 262 222 170M189 399Q188 341 251 291M133 374Q105 289 178 189M167 384Q157 312 229 243M212 356Q227 272 308 207M146 372Q118 286 164 185M222 432Q225 394 243 358M198 354Q207 269 291 200M231 408Q249 358 301 325M235 369Q258 292 322 231" stroke="#eea050" stroke-opacity="0.036"/>
</g></g>
<defs><radialGradient id="wg"><stop offset="0" stop-color="#fff" stop-opacity="0.2"/><stop offset="0.6" stop-color="#fff" stop-opacity="0.12"/><stop offset="1" stop-color="#fff" stop-opacity="0"/></radialGradient></defs>
<circle cx="118.0" cy="128.0" r="65.0" fill="url(#wg)"/>
<g>
<circle cx="136.6" cy="122.4" r="2.1" fill="#c4c4c4" fill-opacity="0.62"/>
<circle cx="132.8" cy="121.6" r="2.1" fill="#c4c4c4" fill-opacity="0.62"/>
<circle cx="138.1" cy="119.2" r="2.1" fill="#c4c4c4" fill-opacity="0.62"/>
<circle cx="135.3" cy="125.4" r="2.1" fill="#c4c4c4" fill-opacity="0.62"/>
<circle cx="132.3" cy="118.0" r="2.1" fill="#c4c4c4" fill-opacity="0.62"/>
<circle cx="141.1" cy="122.2" r="2.1" fill="#c4c4c4" fill-opacity="0.62"/>
<circle cx="130.4" cy="124.7" r="2.1" fill="#c4c4c4" fill-opacity="0.62"/>
<circle cx="137.0" cy="115.6" r="2.1" fill="#c4c4c4" fill-opacity="0.62"/>
<circle cx="139.1" cy="127.1" r="2.1" fill="#c4c4c4" fill-opacity="0.62"/>
<circle cx="128.2" cy="119.4" r="2.1" fill="#c4c4c4" fill-opacity="0.62"/>
<circle cx="142.8" cy="118.4" r="2.1" fill="#c4c4c4" fill-opacity="0.62"/>
<circle cx="132.2" cy="128.6" r="2.1" fill="#c4c4c4" fill-opacity="0.62"/>
<circle cx="132.5" cy="114.0" r="2.1" fill="#c4c4c4" fill-opacity="0.62"/>
<circle cx="143.7" cy="125.4" r="2.1" fill="#c4c4c4" fill-opacity="0.62"/>
<circle cx="126.1" cy="123.7" r="2.1" fill="#c4c4c4" fill-opacity="0.62"/>
<circle cx="140.9" cy="113.9" r="2.1" fill="#c4c4c4" fill-opacity="0.62"/>
<circle cx="137.3" cy="130.7" r="2.1" fill="#c4c4c4" fill-opacity="0.62"/>
<circle cx="127.0" cy="115.6" r="2.1" fill="#c4c4c4" fill-opacity="0.62"/>
<circle cx="146.6" cy="120.7" r="2.1" fill="#c4c4c4" fill-opacity="0.62"/>
<circle cx="127.7" cy="129.0" r="2.1" fill="#c4c4c4" fill-opacity="0.62"/>
<circle cx="135.6" cy="110.9" r="2.1" fill="#c4c4c4" fill-opacity="0.62"/>
<circle cx="143.6" cy="129.5" r="2.1" fill="#c4c4c4" fill-opacity="0.62"/>
<circle cx="123.2" cy="120.5" r="2.1" fill="#c4c4c4" fill-opacity="0.62"/>
<circle cx="145.6" cy="114.6" r="2.1" fill="#c4c4c4" fill-opacity="0.62"/>
<circle cx="133.2" cy="133.0" r="2.1" fill="#c4c4c4" fill-opacity="0.62"/>
<circle cx="128.4" cy="111.4" r="2.1" fill="#c4c4c4" fill-opacity="0.62"/>
<circle cx="148.6" cy="124.7" r="2.1" fill="#c4c4c4" fill-opacity="0.62"/>
<circle cx="123.2" cy="127.2" r="2.1" fill="#c4c4c4" fill-opacity="0.62"/>
<circle cx="140.4" cy="109.6" r="2.1" fill="#c4c4c4" fill-opacity="0.62"/>
<circle cx="140.9" cy="133.5" r="2.1" fill="#c4c4c4" fill-opacity="0.62"/>
<circle cx="122.2" cy="115.8" r="2.1" fill="#c4c4c4" fill-opacity="0.62"/>
<circle cx="149.8" cy="117.5" r="2.1" fill="#c4c4c4" fill-opacity="0.62"/>
<circle cx="127.8" cy="133.3" r="2.1" fill="#c4c4c4" fill-opacity="0.62"/>
<circle cx="132.2" cy="107.9" r="2.1" fill="#c4c4c4" fill-opacity="0.62"/>
<circle cx="148.3" cy="129.7" r="2.1" fill="#c4c4c4" fill-opacity="0.62"/>
<circle cx="119.6" cy="123.3" r="2.1" fill="#c4c4c4" fill-opacity="0.62"/>
<circle cx="146.0" cy="110.4" r="2.1" fill="#c4c4c4" fill-opacity="0.62"/>
<circle cx="136.1" cy="136.3" r="2.1" fill="#c4c4c4" fill-opacity="0.62"/>
<circle cx="123.7" cy="110.8" r="2.1" fill="#c4c4c4" fill-opacity="0.62"/>
<circle cx="152.5" cy="122.3" r="2.1" fill="#c4c4c4" fill-opacity="0.62"/>
<circle cx="122.2" cy="131.4" r="2.1" fill="#c4c4c4" fill-opacity="0.62"/>
<circle cx="137.9" cy="106.0" r="2.1" fill="#c4c4c4" fill-opacity="0.62"/>
<circle cx="145.5" cy="134.6" r="2.1" fill="#c4c4c4" fill-opacity="0.62"/>
<circle cx="118.0" cy="117.9" r="2.1" fill="#c4c4c4" fill-opacity="0.62"/>
<circle cx="151.3" cy="113.5" r="2.1" fill="#c4c4c4" fill-opacity="0.62"/>
<circle cx="129.8" cy="137.2" r="2.1" fill="#c4c4c4" fill-opacity="0.62"/>
<circle cx="127.8" cy="106.3" r="2.1" fill="#c4c4c4" fill-opacity="0.62"/>
<circle cx="152.8" cy="128.1" r="2.1" fill="#c4c4c4" fill-opacity="0.62"/>
<circle cx="117.5" cy="127.2" r="2.1" fill="#c4c4c4" fill-opacity="0.62"/>
<circle cx="144.5" cy="106.2" r="2.1" fill="#c4c4c4" fill-opacity="0.62"/>
<circle cx="140.4" cy="138.5" r="2.1" fill="#c4c4c4" fill-opacity="0.62"/>
<circle cx="119.0" cy="111.9" r="2.1" fill="#c4c4c4" fill-opacity="0.62"/>
<circle cx="155.1" cy="118.5" r="2.1" fill="#c4c4c4" fill-opacity="0.62"/>
<circle cx="123.1" cy="135.8" r="2.1" fill="#c4c4c4" fill-opacity="0.62"/>
<circle cx="133.9" cy="103.3" r="2.1" fill="#c4c4c4" fill-opacity="0.62"/>
<circle cx="150.5" cy="134.1" r="2.1" fill="#c4c4c4" fill-opacity="0.62"/>
<circle cx="114.7" cy="121.3" r="2.1" fill="#c4c4c4" fill-opacity="0.62"/>
<circle cx="151.1" cy="108.9" r="2.1" fill="#c4c4c4" fill-opacity="0.62"/>
<circle cx="133.5" cy="140.4" r="2.1" fill="#c4c4c4" fill-opacity="0.62"/>
<circle cx="122.7" cy="106.2" r="2.1" fill="#c4c4c4" fill-opacity="0.62"/>
<circle cx="156.7" cy="125.1" r="2.1" fill="#c4c4c4" fill-opacity="0.62"/>
<circle cx="117.0" cy="131.8" r="2.1" fill="#c4c4c4" fill-opacity="0.62"/>
<circle cx="141.4" cy="102.5" r="2.1" fill="#c4c4c4" fill-opacity="0.62"/>
<circle cx="145.5" cy="139.3" r="2.1" fill="#c4c4c4" fill-opacity="0.62"/>
<circle cx="114.6" cy="114.4" r="2.1" fill="#c4c4c4" fill-opacity="0.62"/>
<circle cx="156.4" cy="113.9" r="2.1" fill="#c4c4c4" fill-opacity="0.62"/>
<circle cx="125.7" cy="139.9" r="2.1" fill="#c4c4c4" fill-opacity="0.62"/>
<circle cx="128.8" cy="101.8" r="2.1" fill="#c4c4c4" fill-opacity="0.62"/>
<circle cx="155.4" cy="132.1" r="2.1" fill="#c4c4c4" fill-opacity="0.62"/>
<circle cx="112.7" cy="125.8" r="2.1" fill="#c4c4c4" fill-opacity="0.62"/>
<circle cx="149.2" cy="104.3" r="2.1" fill="#c4c4c4" fill-opacity="0.62"/>
<circle cx="138.3" cy="142.6" r="2.1" fill="#c4c4c4" fill-opacity="0.62"/>
<circle cx="117.4" cy="107.5" r="2.1" fill="#c4c4c4" fill-opacity="0.62"/>
<circle cx="159.5" cy="120.8" r="2.1" fill="#c4c4c4" fill-opacity="0.62"/>
<circle cx="118.2" cy="136.7" r="2.1" fill="#c4c4c4" fill-opacity="0.62"/>
<circle cx="136.9" cy="99.6" r="2.1" fill="#c4c4c4" fill-opacity="0.62"/>
<circle cx="151.1" cy="138.6" r="2.1" fill="#c4c4c4" fill-opacity="0.62"/>
<circle cx="111.0" cy="118.3" r="2.1" fill="#c4c4c4" fill-opacity="0.62"/>
<circle cx="156.1" cy="108.9" r="2.1" fill="#c4c4c4" fill-opacity="0.62"/>
<circle cx="129.8" cy="143.5" r="2.1" fill="#c4c4c4" fill-opacity="0.62"/>
<circle cx="123.1" cy="101.7" r="2.1" fill="#c4c4c4" fill-opacity="0.62"/>
<circle cx="159.7" cy="128.7" r="2.1" fill="#c4c4c4" fill-opacity="0.62"/>
<circle cx="112.1" cy="131.0" r="2.1" fill="#c4c4c4" fill-opacity="0.62"/>
<circle cx="145.7" cy="100.2" r="2.1" fill="#c4c4c4" fill-opacity="0.62"/>
<circle cx="144.1" cy="143.6" r="2.1" fill="#c4c4c4" fill-opacity="0.62"/>
<circle cx="112.4" cy="110.4" r="2.1" fill="#c4c4c4" fill-opacity="0.62"/>
<circle cx="161.0" cy="115.7" r="2.1" fill="#c4c4c4" fill-opacity="0.62"/>
<circle cx="120.9" cy="141.4" r="2.1" fill="#c4c4c4" fill-opacity="0.62"/>
<circle cx="131.2" cy="97.8" r="2.1" fill="#c4c4c4" fill-opacity="0.62"/>
<circle cx="156.6" cy="136.5" r="2.1" fill="#c4c4c4" fill-opacity="0.62"/>
<circle cx="108.6" cy="123.3" r="2.1" fill="#c4c4c4" fill-opacity="0.62"/>
<circle cx="154.2" cy="103.7" r="2.1" fill="#c4c4c4" fill-opacity="0.62"/>
<circle cx="135.1" cy="146.1" r="2.1" fill="#c4c4c4" fill-opacity="0.62"/>
<circle cx="117.2" cy="103.0" r="2.1" fill="#c4c4c4" fill-opacity="0.62"/>
<circle cx="163.0" cy="124.0" r="2.1" fill="#c4c4c4" fill-opacity="0.62"/>
<circle cx="113.2" cy="136.4" r="2.1" fill="#c4c4c4" fill-opacity="0.62"/>
<circle cx="140.8" cy="96.8" r="2.1" fill="#c4c4c4" fill-opacity="0.62"/>
<circle cx="150.3" cy="143.1" r="2.1" fill="#c4c4c4" fill-opacity="0.62"/>
<circle cx="108.2" cy="114.5" r="2.1" fill="#c4c4c4" fill-opacity="0.62"/>
<circle cx="161.0" cy="110.0" r="2.1" fill="#c4c4c4" fill-opacity="0.62"/>
<circle cx="125.3" cy="145.6" r="2.1" fill="#c4c4c4" fill-opacity="0.62"/>
<circle cx="124.9" cy="97.4" r="2.1" fill="#c4c4c4" fill-opacity="0.62"/>
<circle cx="161.6" cy="132.9" r="2.1" fill="#c4c4c4" fill-opacity="0.62"/>
<circle cx="107.6" cy="129.0" r="2.1" fill="#c4c4c4" fill-opacity="0.62"/>
<circle cx="150.5" cy="98.9" r="2.1" fill="#c4c4c4" fill-opacity="0.62"/>
<circle cx="141.4" cy="147.4" r="2.1" fill="#c4c4c4" fill-opacity="0.62"/>
<circle cx="111.5" cy="105.9" r="2.1" fill="#c4c4c4" fill-opacity="0.62"/>
<circle cx="165.1" cy="118.4" r="2.1" fill="#c4c4c4" fill-opacity="0.62"/>
<circle cx="115.9" cy="141.8" r="2.1" fill="#c4c4c4" fill-opacity="0.62"/>
<circle cx="134.7" cy="94.5" r="2.1" fill="#c4c4c4" fill-opacity="0.62"/>
<circle cx="156.5" cy="141.0" r="2.1" fill="#c4c4c4" fill-opacity="0.62"/>
<circle cx="105.2" cy="119.8" r="2.1" fill="#c4c4c4" fill-opacity="0.62"/>
<circle cx="159.2" cy="104.2" r="2.1" fill="#c4c4c4" fill-opacity="0.62"/>
<circle cx="131.0" cy="148.8" r="2.1" fill="#c4c4c4" fill-opacity="0.62"/>
<circle cx="118.3" cy="98.5" r="2.1" fill="#c4c4c4" fill-opacity="0.62"/>
<circle cx="165.6" cy="128.0" r="2.1" fill="#c4c4c4" fill-opacity="0.62"/>
<circle cx="108.3" cy="135.1" r="2.1" fill="#c4c4c4" fill-opacity="0.62"/>
<circle cx="145.4" cy="94.9" r="2.1" fill="#c4c4c4" fill-opacity="0.62"/>
<circle cx="148.3" cy="147.3" r="2.1" fill="#c4c4c4" fill-opacity="0.62"/>
<circle cx="106.6" cy="110.2" r="2.1" fill="#c4c4c4" fill-opacity="0.62"/>
<circle cx="165.5" cy="112.2" r="2.1" fill="#c4c4c4" fill-opacity="0.62"/>
<circle cx="120.3" cy="146.7" r="2.1" fill="#c4c4c4" fill-opacity="0.62"/>
<circle cx="127.8" cy="93.6" r="2.1" fill="#c4c4c4" fill-opacity="0.62"/>
<circle cx="162.3" cy="137.5" r="2.1" fill="#c4c4c4" fill-opacity="0.62"/>
<circle cx="103.6" cy="126.0" r="2.1" fill="#c4c4c4" fill-opacity="0.62"/>
<circle cx="155.7" cy="98.7" r="2.1" fill="#c4c4c4" fill-opacity="0.62"/>
<circle cx="137.7" cy="150.7" r="2.1" fill="#c4c4c4" fill-opacity="0.62"/>
<circle cx="111.8" cy="101.2" r="2.1" fill="#c4c4c4" fill-opacity="0.62"/>
<circle cx="168.4" cy="122.1" r="2.1" fill="#c4c4c4" fill-opacity="0.62"/>
<circle cx="110.7" cy="141.1" r="2.1" fill="#c4c4c4" fill-opacity="0.62"/>
<circle cx="139.0" cy="91.9" r="2.1" fill="#c4c4c4" fill-opacity="0.62"/>
<circle cx="155.3" cy="145.6" r="2.1" fill="#c4c4c4" fill-opacity="0.62"/>
<circle cx="102.7" cy="115.7" r="2.1" fill="#c4c4c4" fill-opacity="0.62"/>
<circle cx="164.2" cy="105.8" r="2.1" fill="#c4c4c4" fill-opacity="0.62"/>
<circle cx="126.1" cy="150.6" r="2.1" fill="#c4c4c4" fill-opacity="0.62"/>
<circle cx="120.5" cy="94.2" r="2.1" fill="#c4c4c4" fill-opacity="0.62"/>
<circle cx="167.2" cy="132.5" r="2.1" fill="#c4c4c4" fill-opacity="0.62"/>
<circle cx="103.7" cy="132.7" r="2.1" fill="#c4c4c4" fill-opacity="0.62"/>
<circle cx="150.6" cy="93.8" r="2.1" fill="#c4c4c4" fill-opacity="0.62"/>
<circle cx="145.2" cy="151.2" r="2.1" fill="#c4c4c4" fill-opacity="0.62"/>
<circle cx="101.8" cy="139.6" r="2.3" fill="#e78cf0"/>
<circle cx="98.0" cy="121.4" r="2.3" fill="#e78cf0"/>
<circle cx="109.6" cy="148.7" r="2.3" fill="#e78cf0"/>
<circle cx="95.8" cy="134.0" r="2.3" fill="#e78cf0"/>
<circle cx="98.9" cy="112.8" r="2.3" fill="#e78cf0"/>
<circle cx="101.1" cy="146.7" r="2.3" fill="#e78cf0"/>
<circle cx="92.3" cy="125.5" r="2.3" fill="#e78cf0"/>
<circle cx="113.3" cy="154.8" r="2.3" fill="#e78cf0"/>
<circle cx="93.6" cy="140.9" r="2.3" fill="#e78cf0"/>
<circle cx="92.3" cy="115.5" r="2.3" fill="#e78cf0"/>
<circle cx="103.3" cy="153.7" r="2.3" fill="#e78cf0"/>
<circle cx="88.3" cy="131.8" r="2.3" fill="#e78cf0"/>
<circle cx="119.1" cy="159.3" r="2.3" fill="#e78cf0"/>
<circle cx="96.4" cy="105.5" r="2.3" fill="#e78cf0"/>
<circle cx="93.9" cy="148.5" r="2.3" fill="#e78cf0"/>
<circle cx="86.7" cy="120.6" r="2.3" fill="#e78cf0"/>
<circle cx="107.9" cy="159.9" r="2.3" fill="#e78cf0"/>
<circle cx="104.3" cy="97.2" r="2.3" fill="#e78cf0"/>
<circle cx="86.5" cy="139.5" r="2.3" fill="#e78cf0"/>
<circle cx="126.5" cy="161.8" r="2.3" fill="#e78cf0"/>
<circle cx="89.3" cy="108.8" r="2.3" fill="#e78cf0"/>
<circle cx="96.6" cy="156.1" r="2.3" fill="#e78cf0"/>
<circle cx="115.3" cy="92.2" r="2.3" fill="#e78cf0"/>
<circle cx="82.5" cy="127.6" r="2.3" fill="#e78cf0"/>
<circle cx="114.5" cy="164.8" r="2.3" fill="#e78cf0"/>
<circle cx="96.3" cy="98.3" r="2.3" fill="#e78cf0"/>
<circle cx="86.9" cy="147.9" r="2.3" fill="#e78cf0"/>
<circle cx="134.8" cy="162.1" r="2.3" fill="#e78cf0"/>
<circle cx="83.0" cy="114.5" r="2.3" fill="#e78cf0"/>
<circle cx="101.6" cy="163.1" r="2.3" fill="#e78cf0"/>
<circle cx="107.0" cy="90.6" r="2.3" fill="#e78cf0"/>
<circle cx="80.3" cy="136.1" r="2.3" fill="#e78cf0"/>
<circle cx="122.6" cy="167.8" r="2.3" fill="#e78cf0"/>
<circle cx="88.3" cy="101.7" r="2.3" fill="#e78cf0"/>
<circle cx="89.6" cy="156.5" r="2.3" fill="#e78cf0"/>
<circle cx="120.2" cy="87.1" r="2.3" fill="#e78cf0"/>
<circle cx="143.4" cy="159.9" r="2.3" fill="#e78cf0"/>
<circle cx="78.1" cy="122.1" r="2.3" fill="#e78cf0"/>
<circle cx="108.7" cy="168.7" r="2.3" fill="#e78cf0"/>
<circle cx="98.0" cy="91.3" r="2.3" fill="#e78cf0"/>
<circle cx="80.3" cy="145.4" r="2.3" fill="#e78cf0"/>
<circle cx="131.8" cy="168.5" r="2.3" fill="#e78cf0"/>
<circle cx="81.0" cy="107.6" r="2.3" fill="#e78cf0"/>
<circle cx="94.7" cy="164.4" r="2.3" fill="#e78cf0"/>
<circle cx="111.2" cy="84.8" r="2.3" fill="#e78cf0"/>
<circle cx="151.6" cy="155.3" r="2.3" fill="#e78cf0"/>
<circle cx="75.1" cy="131.2" r="2.3" fill="#e78cf0"/>
<circle cx="117.4" cy="172.6" r="2.3" fill="#e78cf0"/>
<circle cx="89.0" cy="94.5" r="2.3" fill="#e78cf0"/>
<circle cx="82.7" cy="155.0" r="2.3" fill="#e78cf0"/>
<circle cx="126.3" cy="83.4" r="2.3" fill="#e78cf0"/>
<circle cx="141.3" cy="166.8" r="2.3" fill="#e78cf0"/>
<circle cx="75.1" cy="115.5" r="2.3" fill="#e78cf0"/>
<circle cx="102.0" cy="171.2" r="2.3" fill="#e78cf0"/>
<circle cx="101.4" cy="84.8" r="2.3" fill="#e78cf0"/>
<circle cx="158.8" cy="148.4" r="2.3" fill="#e78cf0"/>
<circle cx="74.3" cy="141.4" r="2.3" fill="#e78cf0"/>
<circle cx="141.5" cy="87.7" r="2.3" fill="#e78cf0"/>
<circle cx="127.2" cy="174.2" r="2.3" fill="#e78cf0"/>
<circle cx="80.7" cy="100.2" r="2.3" fill="#e78cf0"/>
<circle cx="87.5" cy="164.1" r="2.3" fill="#e78cf0"/>
<circle cx="116.8" cy="80.0" r="2.3" fill="#e78cf0"/>
<circle cx="150.6" cy="162.6" r="2.3" fill="#e78cf0"/>
<circle cx="71.0" cy="125.1" r="2.3" fill="#e78cf0"/>
<circle cx="111.0" cy="176.2" r="2.3" fill="#e78cf0"/>
<circle cx="91.4" cy="87.4" r="2.3" fill="#e78cf0"/>
<circle cx="76.0" cy="151.9" r="2.3" fill="#e78cf0"/>
<circle cx="133.3" cy="81.1" r="2.3" fill="#e78cf0"/>
<circle cx="137.6" cy="173.4" r="2.3" fill="#e78cf0"/>
<circle cx="73.5" cy="108.1" r="2.3" fill="#e78cf0"/>
<circle cx="94.6" cy="172.1" r="2.3" fill="#e78cf0"/>
<circle cx="106.2" cy="79.1" r="2.3" fill="#e78cf0"/>
<circle cx="159.0" cy="156.0" r="2.3" fill="#e78cf0"/>
<circle cx="69.2" cy="135.9" r="2.3" fill="#e78cf0"/>
<circle cx="148.9" cy="88.2" r="2.3" fill="#e78cf0"/>
<circle cx="121.4" cy="179.0" r="2.3" fill="#e78cf0"/>
<circle cx="81.9" cy="92.6" r="2.3" fill="#e78cf0"/>
<circle cx="80.3" cy="162.1" r="2.3" fill="#e78cf0"/>
<circle cx="123.4" cy="76.5" r="2.3" fill="#e78cf0"/>
<circle cx="148.0" cy="169.9" r="2.3" fill="#e78cf0"/>
<circle cx="68.2" cy="117.9" r="2.3" fill="#e78cf0"/>
<circle cx="103.8" cy="178.5" r="2.3" fill="#e78cf0"/>
<circle cx="95.3" cy="80.8" r="2.3" fill="#e78cf0"/>
<circle cx="166.0" cy="147.1" r="2.3" fill="#e78cf0"/>
<circle cx="69.9" cy="147.3" r="2.3" fill="#e78cf0"/>
<circle cx="140.9" cy="80.2" r="2.3" fill="#e78cf0"/>
<circle cx="132.6" cy="179.3" r="2.3" fill="#e78cf0"/>
<circle cx="73.4" cy="100.2" r="2.3" fill="#e78cf0"/>
<circle cx="87.0" cy="171.5" r="2.3" fill="#e78cf0"/>
<circle cx="112.3" cy="74.2" r="2.3" fill="#e78cf0"/>
<circle cx="157.7" cy="163.8" r="2.3" fill="#e78cf0"/>
<circle cx="65.1" cy="129.2" r="2.3" fill="#e78cf0"/>
<circle cx="156.4" cy="90.3" r="2.3" fill="#e78cf0"/>
<circle cx="114.5" cy="182.6" r="2.3" fill="#e78cf0"/>
<circle cx="84.6" cy="85.2" r="2.3" fill="#e78cf0"/>
<circle cx="171.0" cy="136.4" r="2.3" fill="#e78cf0"/>
<circle cx="73.3" cy="158.7" r="2.3" fill="#e78cf0"/>
<circle cx="130.9" cy="74.2" r="2.3" fill="#e78cf0"/>
</g>
<circle cx="116.2" cy="23.7" r="5.8" fill="#e685ee"/>
<circle cx="79.0" cy="32.0" r="3.6" fill="#e685ee"/>
<circle cx="156.0" cy="32.0" r="4.5" fill="#e685ee"/>
<circle cx="48.6" cy="53.5" r="5.8" fill="#e685ee"/>
<circle cx="188.5" cy="50.7" r="5.0" fill="#e685ee"/>
<circle cx="27.3" cy="78.6" r="3.3" fill="#f2f230"/>
<circle cx="210.0" cy="77.0" r="4.2" fill="#e685ee"/>
<circle cx="220.0" cy="103.6" r="4.6" fill="#e685ee"/>
<circle cx="17.8" cy="115.4" r="4.5" fill="#e685ee"/>
<circle cx="227.2" cy="133.8" r="3.6" fill="#e685ee"/>
<circle cx="18.5" cy="150.2" r="4.5" fill="#e685ee"/>
<circle cx="224.5" cy="161.8" r="3.8" fill="#e685ee"/>
<circle cx="25.2" cy="177.2" r="2.8" fill="#e685ee"/>
<circle cx="215.3" cy="186.7" r="2.8" fill="#e685ee"/>
<circle cx="37.7" cy="204.0" r="3.4" fill="#e685ee"/>
<circle cx="184.0" cy="223.0" r="3.3" fill="#f2f230"/>
<circle cx="59.5" cy="225.8" r="3.4" fill="#e685ee"/>
<circle cx="160.9" cy="237.3" r="3.4" fill="#e685ee"/>
<circle cx="83.0" cy="237.7" r="3.4" fill="#e685ee"/>
<circle cx="112.3" cy="244.0" r="2.8" fill="#f2f230"/>
<circle cx="137.8" cy="243.0" r="2.8" fill="#e685ee"/>
<text x="114.9" y="26.2" font-family="Liberation Sans, Arial, sans-serif" font-size="10.26" text-anchor="middle" fill="#151515" stroke="#151515" stroke-width="0.28">StS1FA</text>
<text x="79.0" y="33.3" font-family="Liberation Sans, Arial, sans-serif" font-size="7.17" text-anchor="middle" fill="#151515" stroke="#151515" stroke-width="0.25">StLRP1</text>
<text x="154.6" y="32.6" font-family="Liberation Sans, Arial, sans-serif" font-size="8.86" text-anchor="middle" fill="#151515" stroke="#151515" stroke-width="0.25">StSBE2.2</text>
<text x="49.25" y="55.5" font-family="Liberation Sans, Arial, sans-serif" font-size="9.98" text-anchor="middle" fill="#151515" stroke="#151515" stroke-width="0.28">StPHS1</text>
<text x="189.2" y="51.8" font-family="Liberation Sans, Arial, sans-serif" font-size="9.87" text-anchor="middle" fill="#151515" stroke="#151515" stroke-width="0.28">StUGT73B4b</text>
<text x="27.2" y="79.7" font-family="Liberation Sans, Arial, sans-serif" font-size="5.94" text-anchor="middle" fill="#151515" stroke="#151515" stroke-width="0.05">StPT3</text>
<text x="209.0" y="75.9" font-family="Liberation Sans, Arial, sans-serif" font-size="8.28" text-anchor="middle" fill="#151515" stroke="#151515" stroke-width="0.25">StOZF1</text>
<text x="221.5" y="105.1" font-family="Liberation Sans, Arial, sans-serif" font-size="8.87" text-anchor="middle" fill="#151515" stroke="#151515" stroke-width="0.25">StSCL28</text>
<text x="18.0" y="116.2" font-family="Liberation Sans, Arial, sans-serif" font-size="8.22" text-anchor="middle" fill="#151515" stroke="#151515" stroke-width="0.25">StLOB</text>
<text x="226.4" y="134.9" font-family="Liberation Sans, Arial, sans-serif" font-size="6.91" text-anchor="middle" fill="#151515" stroke="#151515" stroke-width="0.25">StGFR</text>
<text x="19.0" y="151.5" font-family="Liberation Sans, Arial, sans-serif" font-size="8.10" text-anchor="middle" fill="#151515" stroke="#151515" stroke-width="0.25">StIDD9</text>
<text x="224.0" y="163.1" font-family="Liberation Sans, Arial, sans-serif" font-size="7.12" text-anchor="middle" fill="#151515" stroke="#151515" stroke-width="0.25">StCDC20.1</text>
<text x="25.5" y="177.9" font-family="Liberation Sans, Arial, sans-serif" font-size="4.86" text-anchor="middle" fill="#151515" stroke="#151515" stroke-width="0.05">StbHLH36</text>
<text x="215.6" y="188.1" font-family="Liberation Sans, Arial, sans-serif" font-size="4.55" text-anchor="middle" fill="#151515" stroke="#151515" stroke-width="0.05">StSDM</text>
<text x="38.3" y="204.8" font-family="Liberation Sans, Arial, sans-serif" font-size="6.30" text-anchor="middle" fill="#151515" stroke="#151515" stroke-width="0.05">StHAT14</text>
<text x="202.0" y="206.9" font-family="Liberation Sans, Arial, sans-serif" font-size="3.86" text-anchor="middle" fill="#9a9a9a" stroke="#9a9a9a" stroke-width="0.05">StLOS2</text>
<circle cx="201.9" cy="205.2" r="2.42" fill="#d653d6"/>
<circle cx="201.9" cy="205.2" r="0.8" fill="#ec9cec"/>
<text x="183.9" y="223.8" font-family="Liberation Sans, Arial, sans-serif" font-size="6.02" text-anchor="middle" fill="#151515" stroke="#151515" stroke-width="0.05">StPATATIN</text>
<text x="59.5" y="225.7" font-family="Liberation Sans, Arial, sans-serif" font-size="6.41" text-anchor="middle" fill="#151515" stroke="#151515" stroke-width="0.05">StPK</text>
<text x="160.1" y="237.8" font-family="Liberation Sans, Arial, sans-serif" font-size="5.57" text-anchor="middle" fill="#151515" stroke="#151515" stroke-width="0.05">StAATP1</text>
<text x="83.7" y="238.5" font-family="Liberation Sans, Arial, sans-serif" font-size="5.92" text-anchor="middle" fill="#151515" stroke="#151515" stroke-width="0.05">StSCL32</text>
<text x="112.3" y="245.1" font-family="Liberation Sans, Arial, sans-serif" font-size="4.95" text-anchor="middle" fill="#151515" stroke="#151515" stroke-width="0.05">StAGPase</text>
<text x="138.0" y="244.1" font-family="Liberation Sans, Arial, sans-serif" font-size="6.00" text-anchor="middle" fill="#151515" stroke="#151515" stroke-width="0.05">StPL</text>
<text x="7.8" y="17.4" font-family="Liberation Serif, Times New Roman, serif" font-size="14.5" fill="#111">A</text>
<text x="257.6" y="17.2" font-family="Liberation Serif, Times New Roman, serif" font-size="14" fill="#111">B</text>
<g stroke="#808080" stroke-width="0.7" fill="none">
<path d="M281.3 22.7V77.2H336.6V22.7"/>
<path d="M280.1 77.2H281.3M280.1 63.6H281.3M280.1 50.0H281.3M280.1 36.3H281.3M280.1 22.7H281.3M336.6 77.2H337.8M336.6 66.3H337.8M336.6 55.4H337.8M336.6 44.5H337.8M336.6 33.6H337.8M336.6 22.7H337.8M286.2 77.2V78.2M292.8 77.2V78.2M299.4 77.2V78.2M306.1 77.2V78.2M312.7 77.2V78.2M319.3 77.2V78.2M325.9 77.2V78.2M332.5 77.2V78.2"/>
</g>
<rect x="284.20" y="71.61" width="4.2" height="5.59" fill="#14c814"/>
<rect x="290.82" y="71.75" width="4.2" height="5.45" fill="#14c814"/>
<rect x="297.44" y="71.20" width="4.2" height="6.00" fill="#14c814"/>
<rect x="304.06" y="69.03" width="4.2" height="8.17" fill="#14c814"/>
<rect x="310.68" y="64.67" width="4.2" height="12.54" fill="#14c814"/>
<rect x="317.30" y="52.40" width="4.2" height="24.80" fill="#14c814"/>
<rect x="323.92" y="50.36" width="4.2" height="26.84" fill="#14c814"/>
<rect x="330.54" y="36.33" width="4.2" height="40.88" fill="#14c814"/>
<path d="M286.3 71.6V71.2M285.5 71.2H287.1M292.9 71.8V71.3M292.1 71.3H293.7M299.5 71.2V70.8M298.7 70.8H300.3M306.2 69.0V68.5M305.4 68.5H307.0M312.8 64.7V64.1M312.0 64.1H313.6M319.4 52.4V51.7M318.6 51.7H320.2M326.0 50.4V49.3M325.2 49.3H326.8M332.6 36.3V35.2M331.8 35.2H333.4" stroke="#777" stroke-width="0.35" fill="none"/>
<path d="M286.3 77.2 L292.9 77.2 L299.5 77.2 L306.2 76.4 L312.8 76.9 L319.4 73.4 L326.0 49.7 L332.6 32.2" stroke="#f26464" stroke-width="0.8" fill="none" stroke-linejoin="round"/>
<text x="297.7" y="23.8" font-family="Liberation Sans, Arial, sans-serif" font-weight="bold" font-style="italic" font-size="4.85" fill="#111" stroke="#111" stroke-width="0.12">StPATATIN</text>
<text x="279.5" y="78.4" font-family="Liberation Sans, Arial, sans-serif" font-size="3.4" text-anchor="end" fill="#111">0</text>
<text x="279.5" y="64.8" font-family="Liberation Sans, Arial, sans-serif" font-size="3.4" text-anchor="end" fill="#111">1</text>
<text x="279.5" y="51.2" font-family="Liberation Sans, Arial, sans-serif" font-size="3.4" text-anchor="end" fill="#111">2</text>
<text x="279.5" y="37.5" font-family="Liberation Sans, Arial, sans-serif" font-size="3.4" text-anchor="end" fill="#111">3</text>
<text x="279.5" y="23.9" font-family="Liberation Sans, Arial, sans-serif" font-size="3.4" text-anchor="end" fill="#111">4</text>
<text x="338.4" y="78.4" font-family="Liberation Sans, Arial, sans-serif" font-size="3.4" fill="#111">0</text>
<text x="338.4" y="67.5" font-family="Liberation Sans, Arial, sans-serif" font-size="3.4" fill="#111">200</text>
<text x="338.4" y="56.6" font-family="Liberation Sans, Arial, sans-serif" font-size="3.4" fill="#111">400</text>
<text x="338.4" y="45.7" font-family="Liberation Sans, Arial, sans-serif" font-size="3.4" fill="#111">600</text>
<text x="338.4" y="34.8" font-family="Liberation Sans, Arial, sans-serif" font-size="3.4" fill="#111">800</text>
<text x="338.4" y="23.9" font-family="Liberation Sans, Arial, sans-serif" font-size="3.4" fill="#111">1000</text>
<text transform="translate(275.5 50.0) rotate(-90)" font-family="Liberation Sans, Arial, sans-serif" font-size="4.2" text-anchor="middle" fill="#1e1e1e" stroke="#1e1e1e" stroke-width="0.06">Relative expression</text>
<text transform="translate(350.9 50.0) rotate(90)" font-family="Liberation Sans, Arial, sans-serif" font-size="4.2" text-anchor="middle" fill="#1e1e1e" stroke="#1e1e1e" stroke-width="0.06">FPKM</text>
<text transform="translate(285.3 81.2) rotate(45)" font-family="Liberation Sans, Arial, sans-serif" font-size="3.5" font-weight="bold" fill="#1e1e1e">Fp</text>
<text transform="translate(291.9 81.2) rotate(45)" font-family="Liberation Sans, Arial, sans-serif" font-size="3.5" font-weight="bold" fill="#1e1e1e">St</text>
<text transform="translate(298.5 81.2) rotate(45)" font-family="Liberation Sans, Arial, sans-serif" font-size="3.5" font-weight="bold" fill="#1e1e1e">Sb</text>
<text transform="translate(305.2 81.2) rotate(45)" font-family="Liberation Sans, Arial, sans-serif" font-size="3.5" font-weight="bold" fill="#1e1e1e">SS</text>
<text transform="translate(311.8 81.2) rotate(45)" font-family="Liberation Sans, Arial, sans-serif" font-size="3.5" font-weight="bold" fill="#1e1e1e">SS1</text>
<text transform="translate(318.4 81.2) rotate(45)" font-family="Liberation Sans, Arial, sans-serif" font-size="3.5" font-weight="bold" fill="#1e1e1e">SS2</text>
<text transform="translate(325.0 81.2) rotate(45)" font-family="Liberation Sans, Arial, sans-serif" font-size="3.5" font-weight="bold" fill="#1e1e1e">T1</text>
<text transform="translate(331.6 81.2) rotate(45)" font-family="Liberation Sans, Arial, sans-serif" font-size="3.5" font-weight="bold" fill="#1e1e1e">T2</text>
<g stroke="#808080" stroke-width="0.7" fill="none">
<path d="M378.0 22.7V77.2H433.3V22.7"/>
<path d="M376.8 77.2H378.0M376.8 59.0H378.0M376.8 40.9H378.0M376.8 22.7H378.0M433.3 77.2H434.5M433.3 59.0H434.5M433.3 40.9H434.5M433.3 22.7H434.5M382.9 77.2V78.2M389.5 77.2V78.2M396.1 77.2V78.2M402.8 77.2V78.2M409.4 77.2V78.2M416.0 77.2V78.2M422.6 77.2V78.2M429.2 77.2V78.2"/>
</g>
<rect x="380.90" y="76.47" width="4.2" height="0.73" fill="#14c814"/>
<rect x="387.52" y="76.84" width="4.2" height="0.36" fill="#14c814"/>
<rect x="394.14" y="76.47" width="4.2" height="0.73" fill="#14c814"/>
<rect x="400.76" y="73.57" width="4.2" height="3.63" fill="#14c814"/>
<rect x="407.38" y="73.57" width="4.2" height="3.63" fill="#14c814"/>
<rect x="414.00" y="69.21" width="4.2" height="7.99" fill="#14c814"/>
<rect x="420.62" y="51.40" width="4.2" height="25.80" fill="#14c814"/>
<rect x="427.24" y="43.77" width="4.2" height="33.43" fill="#14c814"/>
<path d="M383.0 76.5V76.3M382.2 76.3H383.8M389.6 76.8V76.7M388.8 76.7H390.4M396.2 76.5V76.3M395.4 76.3H397.0M402.9 73.6V72.8M402.1 72.8H403.7M409.5 73.6V72.8M408.7 72.8H410.3M416.1 69.2V68.5M415.3 68.5H416.9M422.7 51.4V49.6M421.9 49.6H423.5M429.3 43.8V39.1M428.5 39.1H430.1" stroke="#777" stroke-width="0.35" fill="none"/>
<path d="M383.0 77.2 L389.6 77.0 L396.2 76.5 L402.9 75.0 L409.5 73.2 L416.1 65.0 L422.7 48.4 L429.3 30.7" stroke="#f26464" stroke-width="0.8" fill="none" stroke-linejoin="round"/>
<text x="394.4" y="23.8" font-family="Liberation Sans, Arial, sans-serif" font-weight="bold" font-style="italic" font-size="4.85" fill="#111" stroke="#111" stroke-width="0.12">StPHS1</text>
<text x="376.2" y="78.4" font-family="Liberation Sans, Arial, sans-serif" font-size="3.4" text-anchor="end" fill="#111">0</text>
<text x="376.2" y="60.2" font-family="Liberation Sans, Arial, sans-serif" font-size="3.4" text-anchor="end" fill="#111">5</text>
<text x="376.2" y="42.1" font-family="Liberation Sans, Arial, sans-serif" font-size="3.4" text-anchor="end" fill="#111">10</text>
<text x="376.2" y="23.9" font-family="Liberation Sans, Arial, sans-serif" font-size="3.4" text-anchor="end" fill="#111">15</text>
<text x="435.1" y="78.4" font-family="Liberation Sans, Arial, sans-serif" font-size="3.4" fill="#111">0</text>
<text x="435.1" y="60.2" font-family="Liberation Sans, Arial, sans-serif" font-size="3.4" fill="#111">1000</text>
<text x="435.1" y="42.1" font-family="Liberation Sans, Arial, sans-serif" font-size="3.4" fill="#111">2000</text>
<text x="435.1" y="23.9" font-family="Liberation Sans, Arial, sans-serif" font-size="3.4" fill="#111">3000</text>
<text transform="translate(370.2 50.0) rotate(-90)" font-family="Liberation Sans, Arial, sans-serif" font-size="4.2" text-anchor="middle" fill="#1e1e1e" stroke="#1e1e1e" stroke-width="0.06">Relative expression</text>
<text transform="translate(447.6 50.0) rotate(90)" font-family="Liberation Sans, Arial, sans-serif" font-size="4.2" text-anchor="middle" fill="#1e1e1e" stroke="#1e1e1e" stroke-width="0.06">FPKM</text>
<text transform="translate(382.0 81.2) rotate(45)" font-family="Liberation Sans, Arial, sans-serif" font-size="3.5" font-weight="bold" fill="#1e1e1e">Fp</text>
<text transform="translate(388.6 81.2) rotate(45)" font-family="Liberation Sans, Arial, sans-serif" font-size="3.5" font-weight="bold" fill="#1e1e1e">St</text>
<text transform="translate(395.2 81.2) rotate(45)" font-family="Liberation Sans, Arial, sans-serif" font-size="3.5" font-weight="bold" fill="#1e1e1e">Sb</text>
<text transform="translate(401.9 81.2) rotate(45)" font-family="Liberation Sans, Arial, sans-serif" font-size="3.5" font-weight="bold" fill="#1e1e1e">SS</text>
<text transform="translate(408.5 81.2) rotate(45)" font-family="Liberation Sans, Arial, sans-serif" font-size="3.5" font-weight="bold" fill="#1e1e1e">SS1</text>
<text transform="translate(415.1 81.2) rotate(45)" font-family="Liberation Sans, Arial, sans-serif" font-size="3.5" font-weight="bold" fill="#1e1e1e">SS2</text>
<text transform="translate(421.7 81.2) rotate(45)" font-family="Liberation Sans, Arial, sans-serif" font-size="3.5" font-weight="bold" fill="#1e1e1e">T1</text>
<text transform="translate(428.3 81.2) rotate(45)" font-family="Liberation Sans, Arial, sans-serif" font-size="3.5" font-weight="bold" fill="#1e1e1e">T2</text>
<g stroke="#808080" stroke-width="0.7" fill="none">
<path d="M472.8 22.7V77.2H528.1V22.7"/>
<path d="M471.6 77.2H472.8M471.6 63.6H472.8M471.6 50.0H472.8M471.6 36.3H472.8M471.6 22.7H472.8M528.1 77.2H529.3M528.1 63.6H529.3M528.1 50.0H529.3M528.1 36.3H529.3M528.1 22.7H529.3M477.7 77.2V78.2M484.3 77.2V78.2M490.9 77.2V78.2M497.6 77.2V78.2M504.2 77.2V78.2M510.8 77.2V78.2M517.4 77.2V78.2M524.0 77.2V78.2"/>
</g>
<rect x="475.70" y="69.84" width="4.2" height="7.36" fill="#14c814"/>
<rect x="482.32" y="72.16" width="4.2" height="5.04" fill="#14c814"/>
<rect x="488.94" y="67.39" width="4.2" height="9.81" fill="#14c814"/>
<rect x="495.56" y="63.85" width="4.2" height="13.35" fill="#14c814"/>
<rect x="502.18" y="62.62" width="4.2" height="14.58" fill="#14c814"/>
<rect x="508.80" y="62.62" width="4.2" height="14.58" fill="#14c814"/>
<rect x="515.42" y="54.99" width="4.2" height="22.21" fill="#14c814"/>
<rect x="522.04" y="40.14" width="4.2" height="37.06" fill="#14c814"/>
<path d="M477.8 69.8V69.4M477.0 69.4H478.6M484.4 72.2V71.8M483.6 71.8H485.2M491.0 67.4V66.8M490.2 66.8H491.8M497.7 63.8V62.8M496.9 62.8H498.5M504.3 62.6V61.3M503.5 61.3H505.1M510.9 62.6V61.3M510.1 61.3H511.7M517.5 55.0V54.3M516.7 54.3H518.3M524.1 40.1V38.5M523.3 38.5H524.9" stroke="#777" stroke-width="0.35" fill="none"/>
<path d="M477.8 77.2 L484.4 77.2 L491.0 77.2 L497.7 77.2 L504.3 77.1 L510.9 69.8 L517.5 53.2 L524.1 32.3" stroke="#f26464" stroke-width="0.8" fill="none" stroke-linejoin="round"/>
<text x="489.2" y="23.8" font-family="Liberation Sans, Arial, sans-serif" font-weight="bold" font-style="italic" font-size="4.85" fill="#111" stroke="#111" stroke-width="0.12">StSBE3.2</text>
<text x="471.0" y="78.4" font-family="Liberation Sans, Arial, sans-serif" font-size="3.4" text-anchor="end" fill="#111">0</text>
<text x="471.0" y="64.8" font-family="Liberation Sans, Arial, sans-serif" font-size="3.4" text-anchor="end" fill="#111">1</text>
<text x="471.0" y="51.2" font-family="Liberation Sans, Arial, sans-serif" font-size="3.4" text-anchor="end" fill="#111">2</text>
<text x="471.0" y="37.5" font-family="Liberation Sans, Arial, sans-serif" font-size="3.4" text-anchor="end" fill="#111">3</text>
<text x="471.0" y="23.9" font-family="Liberation Sans, Arial, sans-serif" font-size="3.4" text-anchor="end" fill="#111">4</text>
<text x="529.9" y="78.4" font-family="Liberation Sans, Arial, sans-serif" font-size="3.4" fill="#111">0</text>
<text x="529.9" y="64.8" font-family="Liberation Sans, Arial, sans-serif" font-size="3.4" fill="#111">200</text>
<text x="529.9" y="51.2" font-family="Liberation Sans, Arial, sans-serif" font-size="3.4" fill="#111">400</text>
<text x="529.9" y="37.5" font-family="Liberation Sans, Arial, sans-serif" font-size="3.4" fill="#111">600</text>
<text x="529.9" y="23.9" font-family="Liberation Sans, Arial, sans-serif" font-size="3.4" fill="#111">800</text>
<text transform="translate(467.0 50.0) rotate(-90)" font-family="Liberation Sans, Arial, sans-serif" font-size="4.2" text-anchor="middle" fill="#1e1e1e" stroke="#1e1e1e" stroke-width="0.06">Relative expression</text>
<text transform="translate(540.4 50.0) rotate(90)" font-family="Liberation Sans, Arial, sans-serif" font-size="4.2" text-anchor="middle" fill="#1e1e1e" stroke="#1e1e1e" stroke-width="0.06">FPKM</text>
<text transform="translate(476.8 81.2) rotate(45)" font-family="Liberation Sans, Arial, sans-serif" font-size="3.5" font-weight="bold" fill="#1e1e1e">Fp</text>
<text transform="translate(483.4 81.2) rotate(45)" font-family="Liberation Sans, Arial, sans-serif" font-size="3.5" font-weight="bold" fill="#1e1e1e">St</text>
<text transform="translate(490.0 81.2) rotate(45)" font-family="Liberation Sans, Arial, sans-serif" font-size="3.5" font-weight="bold" fill="#1e1e1e">Sb</text>
<text transform="translate(496.7 81.2) rotate(45)" font-family="Liberation Sans, Arial, sans-serif" font-size="3.5" font-weight="bold" fill="#1e1e1e">SS</text>
<text transform="translate(503.3 81.2) rotate(45)" font-family="Liberation Sans, Arial, sans-serif" font-size="3.5" font-weight="bold" fill="#1e1e1e">SS1</text>
<text transform="translate(509.9 81.2) rotate(45)" font-family="Liberation Sans, Arial, sans-serif" font-size="3.5" font-weight="bold" fill="#1e1e1e">SS2</text>
<text transform="translate(516.5 81.2) rotate(45)" font-family="Liberation Sans, Arial, sans-serif" font-size="3.5" font-weight="bold" fill="#1e1e1e">T1</text>
<text transform="translate(523.1 81.2) rotate(45)" font-family="Liberation Sans, Arial, sans-serif" font-size="3.5" font-weight="bold" fill="#1e1e1e">T2</text>
<g stroke="#808080" stroke-width="0.7" fill="none">
<path d="M281.3 96.5V151.1H336.6V96.5"/>
<path d="M280.1 151.1H281.3M280.1 132.9H281.3M280.1 114.7H281.3M280.1 96.5H281.3M336.6 151.1H337.8M336.6 137.4H337.8M336.6 123.8H337.8M336.6 110.2H337.8M336.6 96.5H337.8M286.2 151.1V152.1M292.8 151.1V152.1M299.4 151.1V152.1M306.1 151.1V152.1M312.7 151.1V152.1M319.3 151.1V152.1M325.9 151.1V152.1M332.5 151.1V152.1"/>
</g>
<rect x="284.20" y="141.45" width="4.2" height="9.65" fill="#14c814"/>
<rect x="290.82" y="144.91" width="4.2" height="6.19" fill="#14c814"/>
<rect x="297.44" y="145.64" width="4.2" height="5.46" fill="#14c814"/>
<rect x="304.06" y="141.82" width="4.2" height="9.28" fill="#14c814"/>
<rect x="310.68" y="141.82" width="4.2" height="9.28" fill="#14c814"/>
<rect x="317.30" y="137.27" width="4.2" height="13.83" fill="#14c814"/>
<rect x="323.92" y="127.26" width="4.2" height="23.84" fill="#14c814"/>
<rect x="330.54" y="101.60" width="4.2" height="49.50" fill="#14c814"/>
<path d="M286.3 141.5V140.7M285.5 140.7H287.1M292.9 144.9V144.4M292.1 144.4H293.7M299.5 145.6V144.7M298.7 144.7H300.3M306.2 141.8V141.3M305.4 141.3H307.0M312.8 141.8V141.3M312.0 141.3H313.6M319.4 137.3V136.5M318.6 136.5H320.2M326.0 127.3V124.2M325.2 124.2H326.8M332.6 101.6V100.1M331.8 100.1H333.4" stroke="#777" stroke-width="0.35" fill="none"/>
<path d="M286.3 144.5 L292.9 144.5 L299.5 140.5 L306.2 142.1 L312.8 142.1 L319.4 137.2 L326.0 127.2 L332.6 111.8" stroke="#f26464" stroke-width="0.8" fill="none" stroke-linejoin="round"/>
<text x="297.7" y="97.8" font-family="Liberation Sans, Arial, sans-serif" font-weight="bold" font-style="italic" font-size="4.85" fill="#111" stroke="#111" stroke-width="0.12">StLOS2</text>
<text x="279.5" y="152.3" font-family="Liberation Sans, Arial, sans-serif" font-size="3.4" text-anchor="end" fill="#111">0</text>
<text x="279.5" y="134.1" font-family="Liberation Sans, Arial, sans-serif" font-size="3.4" text-anchor="end" fill="#111">1</text>
<text x="279.5" y="115.9" font-family="Liberation Sans, Arial, sans-serif" font-size="3.4" text-anchor="end" fill="#111">2</text>
<text x="279.5" y="97.7" font-family="Liberation Sans, Arial, sans-serif" font-size="3.4" text-anchor="end" fill="#111">3</text>
<text x="338.4" y="152.3" font-family="Liberation Sans, Arial, sans-serif" font-size="3.4" fill="#111">0</text>
<text x="338.4" y="138.6" font-family="Liberation Sans, Arial, sans-serif" font-size="3.4" fill="#111">500</text>
<text x="338.4" y="125.0" font-family="Liberation Sans, Arial, sans-serif" font-size="3.4" fill="#111">1000</text>
<text x="338.4" y="111.4" font-family="Liberation Sans, Arial, sans-serif" font-size="3.4" fill="#111">1500</text>
<text x="338.4" y="97.7" font-family="Liberation Sans, Arial, sans-serif" font-size="3.4" fill="#111">2000</text>
<text transform="translate(275.5 123.8) rotate(-90)" font-family="Liberation Sans, Arial, sans-serif" font-size="4.2" text-anchor="middle" fill="#1e1e1e" stroke="#1e1e1e" stroke-width="0.06">Relative expression</text>
<text transform="translate(350.9 123.8) rotate(90)" font-family="Liberation Sans, Arial, sans-serif" font-size="4.2" text-anchor="middle" fill="#1e1e1e" stroke="#1e1e1e" stroke-width="0.06">FPKM</text>
<text transform="translate(285.3 155.1) rotate(45)" font-family="Liberation Sans, Arial, sans-serif" font-size="3.5" font-weight="bold" fill="#1e1e1e">Fp</text>
<text transform="translate(291.9 155.1) rotate(45)" font-family="Liberation Sans, Arial, sans-serif" font-size="3.5" font-weight="bold" fill="#1e1e1e">St</text>
<text transform="translate(298.5 155.1) rotate(45)" font-family="Liberation Sans, Arial, sans-serif" font-size="3.5" font-weight="bold" fill="#1e1e1e">Sb</text>
<text transform="translate(305.2 155.1) rotate(45)" font-family="Liberation Sans, Arial, sans-serif" font-size="3.5" font-weight="bold" fill="#1e1e1e">SS</text>
<text transform="translate(311.8 155.1) rotate(45)" font-family="Liberation Sans, Arial, sans-serif" font-size="3.5" font-weight="bold" fill="#1e1e1e">SS1</text>
<text transform="translate(318.4 155.1) rotate(45)" font-family="Liberation Sans, Arial, sans-serif" font-size="3.5" font-weight="bold" fill="#1e1e1e">SS2</text>
<text transform="translate(325.0 155.1) rotate(45)" font-family="Liberation Sans, Arial, sans-serif" font-size="3.5" font-weight="bold" fill="#1e1e1e">T1</text>
<text transform="translate(331.6 155.1) rotate(45)" font-family="Liberation Sans, Arial, sans-serif" font-size="3.5" font-weight="bold" fill="#1e1e1e">T2</text>
<g stroke="#808080" stroke-width="0.7" fill="none">
<path d="M378.0 96.5V151.1H433.3V96.5"/>
<path d="M376.8 151.1H378.0M376.8 140.2H378.0M376.8 129.3H378.0M376.8 118.3H378.0M376.8 107.4H378.0M376.8 96.5H378.0M433.3 151.1H434.5M433.3 140.2H434.5M433.3 129.3H434.5M433.3 118.3H434.5M433.3 107.4H434.5M433.3 96.5H434.5M382.9 151.1V152.1M389.5 151.1V152.1M396.1 151.1V152.1M402.8 151.1V152.1M409.4 151.1V152.1M416.0 151.1V152.1M422.6 151.1V152.1M429.2 151.1V152.1"/>
</g>
<rect x="380.90" y="134.72" width="4.2" height="16.38" fill="#14c814"/>
<rect x="387.52" y="139.09" width="4.2" height="12.01" fill="#14c814"/>
<rect x="394.14" y="136.69" width="4.2" height="14.41" fill="#14c814"/>
<rect x="400.76" y="130.79" width="4.2" height="20.31" fill="#14c814"/>
<rect x="407.38" y="129.70" width="4.2" height="21.40" fill="#14c814"/>
<rect x="414.00" y="123.58" width="4.2" height="27.52" fill="#14c814"/>
<rect x="420.62" y="119.00" width="4.2" height="32.10" fill="#14c814"/>
<rect x="427.24" y="109.82" width="4.2" height="41.28" fill="#14c814"/>
<path d="M383.0 134.7V133.8M382.2 133.8H383.8M389.6 139.1V138.4M388.8 138.4H390.4M396.2 136.7V136.0M395.4 136.0H397.0M402.9 130.8V129.9M402.1 129.9H403.7M409.5 129.7V128.6M408.7 128.6H410.3M416.1 123.6V121.8M415.3 121.8H416.9M422.7 119.0V117.9M421.9 117.9H423.5M429.3 109.8V108.9M428.5 108.9H430.1" stroke="#777" stroke-width="0.35" fill="none"/>
<path d="M383.0 146.2 L389.6 148.0 L396.2 141.4 L402.9 143.3 L409.5 143.3 L416.1 135.5 L422.7 124.8 L429.3 108.2" stroke="#f26464" stroke-width="0.8" fill="none" stroke-linejoin="round"/>
<text x="394.4" y="97.8" font-family="Liberation Sans, Arial, sans-serif" font-weight="bold" font-style="italic" font-size="4.85" fill="#111" stroke="#111" stroke-width="0.12">StCDC20.1</text>
<text x="376.2" y="152.3" font-family="Liberation Sans, Arial, sans-serif" font-size="3.4" text-anchor="end" fill="#111">0</text>
<text x="376.2" y="141.4" font-family="Liberation Sans, Arial, sans-serif" font-size="3.4" text-anchor="end" fill="#111">0.5</text>
<text x="376.2" y="130.5" font-family="Liberation Sans, Arial, sans-serif" font-size="3.4" text-anchor="end" fill="#111">1.0</text>
<text x="376.2" y="119.5" font-family="Liberation Sans, Arial, sans-serif" font-size="3.4" text-anchor="end" fill="#111">1.5</text>
<text x="376.2" y="108.6" font-family="Liberation Sans, Arial, sans-serif" font-size="3.4" text-anchor="end" fill="#111">2.0</text>
<text x="376.2" y="97.7" font-family="Liberation Sans, Arial, sans-serif" font-size="3.4" text-anchor="end" fill="#111">2.5</text>
<text x="435.1" y="152.3" font-family="Liberation Sans, Arial, sans-serif" font-size="3.4" fill="#111">0</text>
<text x="435.1" y="141.4" font-family="Liberation Sans, Arial, sans-serif" font-size="3.4" fill="#111">10</text>
<text x="435.1" y="130.5" font-family="Liberation Sans, Arial, sans-serif" font-size="3.4" fill="#111">20</text>
<text x="435.1" y="119.5" font-family="Liberation Sans, Arial, sans-serif" font-size="3.4" fill="#111">30</text>
<text x="435.1" y="108.6" font-family="Liberation Sans, Arial, sans-serif" font-size="3.4" fill="#111">40</text>
<text x="435.1" y="97.7" font-family="Liberation Sans, Arial, sans-serif" font-size="3.4" fill="#111">50</text>
<text transform="translate(369.2 123.8) rotate(-90)" font-family="Liberation Sans, Arial, sans-serif" font-size="4.2" text-anchor="middle" fill="#1e1e1e" stroke="#1e1e1e" stroke-width="0.06">Relative expression</text>
<text transform="translate(443.6 123.8) rotate(90)" font-family="Liberation Sans, Arial, sans-serif" font-size="4.2" text-anchor="middle" fill="#1e1e1e" stroke="#1e1e1e" stroke-width="0.06">FPKM</text>
<text transform="translate(382.0 155.1) rotate(45)" font-family="Liberation Sans, Arial, sans-serif" font-size="3.5" font-weight="bold" fill="#1e1e1e">Fp</text>
<text transform="translate(388.6 155.1) rotate(45)" font-family="Liberation Sans, Arial, sans-serif" font-size="3.5" font-weight="bold" fill="#1e1e1e">St</text>
<text transform="translate(395.2 155.1) rotate(45)" font-family="Liberation Sans, Arial, sans-serif" font-size="3.5" font-weight="bold" fill="#1e1e1e">Sb</text>
<text transform="translate(401.9 155.1) rotate(45)" font-family="Liberation Sans, Arial, sans-serif" font-size="3.5" font-weight="bold" fill="#1e1e1e">SS</text>
<text transform="translate(408.5 155.1) rotate(45)" font-family="Liberation Sans, Arial, sans-serif" font-size="3.5" font-weight="bold" fill="#1e1e1e">SS1</text>
<text transform="translate(415.1 155.1) rotate(45)" font-family="Liberation Sans, Arial, sans-serif" font-size="3.5" font-weight="bold" fill="#1e1e1e">SS2</text>
<text transform="translate(421.7 155.1) rotate(45)" font-family="Liberation Sans, Arial, sans-serif" font-size="3.5" font-weight="bold" fill="#1e1e1e">T1</text>
<text transform="translate(428.3 155.1) rotate(45)" font-family="Liberation Sans, Arial, sans-serif" font-size="3.5" font-weight="bold" fill="#1e1e1e">T2</text>
<g stroke="#808080" stroke-width="0.7" fill="none">
<path d="M472.8 96.5V151.1H528.1V96.5"/>
<path d="M471.6 151.1H472.8M471.6 140.2H472.8M471.6 129.3H472.8M471.6 118.3H472.8M471.6 107.4H472.8M471.6 96.5H472.8M528.1 151.1H529.3M528.1 132.9H529.3M528.1 114.7H529.3M528.1 96.5H529.3M477.7 151.1V152.1M484.3 151.1V152.1M490.9 151.1V152.1M497.6 151.1V152.1M504.2 151.1V152.1M510.8 151.1V152.1M517.4 151.1V152.1M524.0 151.1V152.1"/>
</g>
<rect x="475.70" y="150.55" width="4.2" height="0.55" fill="#14c814"/>
<rect x="482.32" y="148.04" width="4.2" height="3.06" fill="#14c814"/>
<rect x="488.94" y="150.88" width="4.2" height="0.22" fill="#14c814"/>
<rect x="495.56" y="146.62" width="4.2" height="4.48" fill="#14c814"/>
<rect x="502.18" y="150.55" width="4.2" height="0.55" fill="#14c814"/>
<rect x="508.80" y="139.52" width="4.2" height="11.58" fill="#14c814"/>
<rect x="515.42" y="135.70" width="4.2" height="15.40" fill="#14c814"/>
<rect x="522.04" y="114.95" width="4.2" height="36.15" fill="#14c814"/>
<path d="M477.8 150.6V150.3M477.0 150.3H478.6M484.4 148.0V147.0M483.6 147.0H485.2M491.0 150.9V150.7M490.2 150.7H491.8M497.7 146.6V145.0M496.9 145.0H498.5M504.3 150.6V150.3M503.5 150.3H505.1M510.9 139.5V138.4M510.1 138.4H511.7M517.5 135.7V130.2M516.7 130.2H518.3M524.1 115.0V103.5M523.3 103.5H524.9" stroke="#777" stroke-width="0.35" fill="none"/>
<path d="M477.8 146.6 L484.4 147.1 L491.0 143.8 L497.7 143.3 L504.3 145.5 L510.9 136.8 L517.5 124.9 L524.1 110.7" stroke="#f26464" stroke-width="0.8" fill="none" stroke-linejoin="round"/>
<text x="489.2" y="97.8" font-family="Liberation Sans, Arial, sans-serif" font-weight="bold" font-style="italic" font-size="4.85" fill="#111" stroke="#111" stroke-width="0.12">StSCL28</text>
<text x="471.0" y="152.3" font-family="Liberation Sans, Arial, sans-serif" font-size="3.4" text-anchor="end" fill="#111">0</text>
<text x="471.0" y="141.4" font-family="Liberation Sans, Arial, sans-serif" font-size="3.4" text-anchor="end" fill="#111">1</text>
<text x="471.0" y="130.5" font-family="Liberation Sans, Arial, sans-serif" font-size="3.4" text-anchor="end" fill="#111">2</text>
<text x="471.0" y="119.5" font-family="Liberation Sans, Arial, sans-serif" font-size="3.4" text-anchor="end" fill="#111">3</text>
<text x="471.0" y="108.6" font-family="Liberation Sans, Arial, sans-serif" font-size="3.4" text-anchor="end" fill="#111">4</text>
<text x="471.0" y="97.7" font-family="Liberation Sans, Arial, sans-serif" font-size="3.4" text-anchor="end" fill="#111">5</text>
<text x="529.9" y="152.3" font-family="Liberation Sans, Arial, sans-serif" font-size="3.4" fill="#111">0</text>
<text x="529.9" y="134.1" font-family="Liberation Sans, Arial, sans-serif" font-size="3.4" fill="#111">5</text>
<text x="529.9" y="115.9" font-family="Liberation Sans, Arial, sans-serif" font-size="3.4" fill="#111">10</text>
<text x="529.9" y="97.7" font-family="Liberation Sans, Arial, sans-serif" font-size="3.4" fill="#111">15</text>
<text transform="translate(467.0 123.8) rotate(-90)" font-family="Liberation Sans, Arial, sans-serif" font-size="4.2" text-anchor="middle" fill="#1e1e1e" stroke="#1e1e1e" stroke-width="0.06">Relative expression</text>
<text transform="translate(538.4 123.8) rotate(90)" font-family="Liberation Sans, Arial, sans-serif" font-size="4.2" text-anchor="middle" fill="#1e1e1e" stroke="#1e1e1e" stroke-width="0.06">FPKM</text>
<text transform="translate(476.8 155.1) rotate(45)" font-family="Liberation Sans, Arial, sans-serif" font-size="3.5" font-weight="bold" fill="#1e1e1e">Fp</text>
<text transform="translate(483.4 155.1) rotate(45)" font-family="Liberation Sans, Arial, sans-serif" font-size="3.5" font-weight="bold" fill="#1e1e1e">St</text>
<text transform="translate(490.0 155.1) rotate(45)" font-family="Liberation Sans, Arial, sans-serif" font-size="3.5" font-weight="bold" fill="#1e1e1e">Sb</text>
<text transform="translate(496.7 155.1) rotate(45)" font-family="Liberation Sans, Arial, sans-serif" font-size="3.5" font-weight="bold" fill="#1e1e1e">SS</text>
<text transform="translate(503.3 155.1) rotate(45)" font-family="Liberation Sans, Arial, sans-serif" font-size="3.5" font-weight="bold" fill="#1e1e1e">SS1</text>
<text transform="translate(509.9 155.1) rotate(45)" font-family="Liberation Sans, Arial, sans-serif" font-size="3.5" font-weight="bold" fill="#1e1e1e">SS2</text>
<text transform="translate(516.5 155.1) rotate(45)" font-family="Liberation Sans, Arial, sans-serif" font-size="3.5" font-weight="bold" fill="#1e1e1e">T1</text>
<text transform="translate(523.1 155.1) rotate(45)" font-family="Liberation Sans, Arial, sans-serif" font-size="3.5" font-weight="bold" fill="#1e1e1e">T2</text>
<g stroke="#808080" stroke-width="0.7" fill="none">
<path d="M281.3 172.0V226.7H336.6V172.0"/>
<path d="M280.1 226.7H281.3M280.1 208.5H281.3M280.1 190.2H281.3M280.1 172.0H281.3M336.6 226.7H337.8M336.6 208.5H337.8M336.6 190.2H337.8M336.6 172.0H337.8M286.2 226.7V227.7M292.8 226.7V227.7M299.4 226.7V227.7M306.1 226.7V227.7M312.7 226.7V227.7M319.3 226.7V227.7M325.9 226.7V227.7M332.5 226.7V227.7"/>
</g>
<rect x="284.20" y="225.61" width="4.2" height="1.09" fill="#14c814"/>
<rect x="290.82" y="221.78" width="4.2" height="4.92" fill="#14c814"/>
<rect x="297.44" y="225.61" width="4.2" height="1.09" fill="#14c814"/>
<rect x="304.06" y="216.96" width="4.2" height="9.74" fill="#14c814"/>
<rect x="310.68" y="225.42" width="4.2" height="1.28" fill="#14c814"/>
<rect x="317.30" y="226.15" width="4.2" height="0.55" fill="#14c814"/>
<rect x="323.92" y="199.35" width="4.2" height="27.35" fill="#14c814"/>
<rect x="330.54" y="188.77" width="4.2" height="37.93" fill="#14c814"/>
<path d="M286.3 225.6V225.4M285.5 225.4H287.1M292.9 221.8V221.4M292.1 221.4H293.7M299.5 225.6V225.4M298.7 225.4H300.3M306.2 217.0V216.2M305.4 216.2H307.0M312.8 225.4V225.2M312.0 225.2H313.6M319.4 226.2V226.0M318.6 226.0H320.2M326.0 199.3V197.9M325.2 197.9H326.8M332.6 188.8V185.9M331.8 185.9H333.4" stroke="#777" stroke-width="0.35" fill="none"/>
<path d="M286.3 226.2 L292.9 225.8 L299.5 224.1 L306.2 223.2 L312.8 224.9 L319.4 220.5 L326.0 189.5 L332.6 179.3" stroke="#f26464" stroke-width="0.8" fill="none" stroke-linejoin="round"/>
<text x="297.7" y="173.7" font-family="Liberation Sans, Arial, sans-serif" font-weight="bold" font-style="italic" font-size="4.85" fill="#111" stroke="#111" stroke-width="0.12">StLOB</text>
<text x="279.5" y="227.9" font-family="Liberation Sans, Arial, sans-serif" font-size="3.4" text-anchor="end" fill="#111">0</text>
<text x="279.5" y="209.7" font-family="Liberation Sans, Arial, sans-serif" font-size="3.4" text-anchor="end" fill="#111">5</text>
<text x="279.5" y="191.4" font-family="Liberation Sans, Arial, sans-serif" font-size="3.4" text-anchor="end" fill="#111">10</text>
<text x="279.5" y="173.2" font-family="Liberation Sans, Arial, sans-serif" font-size="3.4" text-anchor="end" fill="#111">15</text>
<text x="338.4" y="227.9" font-family="Liberation Sans, Arial, sans-serif" font-size="3.4" fill="#111">0</text>
<text x="338.4" y="209.7" font-family="Liberation Sans, Arial, sans-serif" font-size="3.4" fill="#111">10</text>
<text x="338.4" y="191.4" font-family="Liberation Sans, Arial, sans-serif" font-size="3.4" fill="#111">20</text>
<text x="338.4" y="173.2" font-family="Liberation Sans, Arial, sans-serif" font-size="3.4" fill="#111">30</text>
<text transform="translate(273.5 199.3) rotate(-90)" font-family="Liberation Sans, Arial, sans-serif" font-size="4.2" text-anchor="middle" fill="#1e1e1e" stroke="#1e1e1e" stroke-width="0.06">Relative expression</text>
<text transform="translate(346.9 199.3) rotate(90)" font-family="Liberation Sans, Arial, sans-serif" font-size="4.2" text-anchor="middle" fill="#1e1e1e" stroke="#1e1e1e" stroke-width="0.06">FPKM</text>
<text transform="translate(285.3 230.7) rotate(45)" font-family="Liberation Sans, Arial, sans-serif" font-size="3.5" font-weight="bold" fill="#1e1e1e">Fp</text>
<text transform="translate(291.9 230.7) rotate(45)" font-family="Liberation Sans, Arial, sans-serif" font-size="3.5" font-weight="bold" fill="#1e1e1e">St</text>
<text transform="translate(298.5 230.7) rotate(45)" font-family="Liberation Sans, Arial, sans-serif" font-size="3.5" font-weight="bold" fill="#1e1e1e">Sb</text>
<text transform="translate(305.2 230.7) rotate(45)" font-family="Liberation Sans, Arial, sans-serif" font-size="3.5" font-weight="bold" fill="#1e1e1e">SS</text>
<text transform="translate(311.8 230.7) rotate(45)" font-family="Liberation Sans, Arial, sans-serif" font-size="3.5" font-weight="bold" fill="#1e1e1e">SS1</text>
<text transform="translate(318.4 230.7) rotate(45)" font-family="Liberation Sans, Arial, sans-serif" font-size="3.5" font-weight="bold" fill="#1e1e1e">SS2</text>
<text transform="translate(325.0 230.7) rotate(45)" font-family="Liberation Sans, Arial, sans-serif" font-size="3.5" font-weight="bold" fill="#1e1e1e">T1</text>
<text transform="translate(331.6 230.7) rotate(45)" font-family="Liberation Sans, Arial, sans-serif" font-size="3.5" font-weight="bold" fill="#1e1e1e">T2</text>
<rect x="286.1" y="240.3" width="5.6" height="1.8" fill="#14c814"/>
<text x="295.0" y="242.2" font-family="Liberation Sans, Arial, sans-serif" font-size="2.8" fill="#1e1e1e" stroke="#1e1e1e" stroke-width="0.1">qRT-PCR</text>
<path d="M315.5 241.2H321.0" stroke="#f26464" stroke-width="0.8"/>
<text x="324.5" y="242.2" font-family="Liberation Sans, Arial, sans-serif" font-size="2.85" fill="#1e1e1e" stroke="#1e1e1e" stroke-width="0.1">RNA-Seq</text>
<g stroke="#808080" stroke-width="0.7" fill="none">
<path d="M378.0 172.0V226.7H433.3V172.0"/>
<path d="M376.8 226.7H378.0M376.8 215.8H378.0M376.8 204.8H378.0M376.8 193.9H378.0M376.8 182.9H378.0M376.8 172.0H378.0M433.3 226.7H434.5M433.3 213.0H434.5M433.3 199.3H434.5M433.3 185.7H434.5M433.3 172.0H434.5M382.9 226.7V227.7M389.5 226.7V227.7M396.1 226.7V227.7M402.8 226.7V227.7M409.4 226.7V227.7M416.0 226.7V227.7M422.6 226.7V227.7M429.2 226.7V227.7"/>
</g>
<rect x="380.90" y="211.82" width="4.2" height="14.88" fill="#14c814"/>
<rect x="387.52" y="212.92" width="4.2" height="13.78" fill="#14c814"/>
<rect x="394.14" y="216.64" width="4.2" height="10.06" fill="#14c814"/>
<rect x="400.76" y="211.82" width="4.2" height="14.88" fill="#14c814"/>
<rect x="407.38" y="203.94" width="4.2" height="22.76" fill="#14c814"/>
<rect x="414.00" y="207.45" width="4.2" height="19.25" fill="#14c814"/>
<rect x="420.62" y="205.26" width="4.2" height="21.44" fill="#14c814"/>
<rect x="427.24" y="186.66" width="4.2" height="40.04" fill="#14c814"/>
<path d="M383.0 211.8V211.2M382.2 211.2H383.8M389.6 212.9V212.3M388.8 212.3H390.4M396.2 216.6V215.8M395.4 215.8H397.0M402.9 211.8V211.2M402.1 211.2H403.7M409.5 203.9V202.4M408.7 202.4H410.3M416.1 207.4V205.5M415.3 205.5H416.9M422.7 205.3V204.2M421.9 204.2H423.5M429.3 186.7V185.3M428.5 185.3H430.1" stroke="#777" stroke-width="0.35" fill="none"/>
<path d="M383.0 226.7 L389.6 224.6 L396.2 213.7 L402.9 222.6 L409.5 225.3 L416.1 215.1 L422.7 186.4 L429.3 180.9" stroke="#f26464" stroke-width="0.8" fill="none" stroke-linejoin="round"/>
<text x="394.4" y="173.7" font-family="Liberation Sans, Arial, sans-serif" font-weight="bold" font-style="italic" font-size="4.85" fill="#111" stroke="#111" stroke-width="0.12">StHAT14</text>
<text x="376.2" y="227.9" font-family="Liberation Sans, Arial, sans-serif" font-size="3.4" text-anchor="end" fill="#111">0</text>
<text x="376.2" y="217.0" font-family="Liberation Sans, Arial, sans-serif" font-size="3.4" text-anchor="end" fill="#111">0.5</text>
<text x="376.2" y="206.0" font-family="Liberation Sans, Arial, sans-serif" font-size="3.4" text-anchor="end" fill="#111">1.0</text>
<text x="376.2" y="195.1" font-family="Liberation Sans, Arial, sans-serif" font-size="3.4" text-anchor="end" fill="#111">1.5</text>
<text x="376.2" y="184.1" font-family="Liberation Sans, Arial, sans-serif" font-size="3.4" text-anchor="end" fill="#111">2.0</text>
<text x="376.2" y="173.2" font-family="Liberation Sans, Arial, sans-serif" font-size="3.4" text-anchor="end" fill="#111">2.5</text>
<text x="435.1" y="227.9" font-family="Liberation Sans, Arial, sans-serif" font-size="3.4" fill="#111">0</text>
<text x="435.1" y="214.2" font-family="Liberation Sans, Arial, sans-serif" font-size="3.4" fill="#111">2</text>
<text x="435.1" y="200.5" font-family="Liberation Sans, Arial, sans-serif" font-size="3.4" fill="#111">4</text>
<text x="435.1" y="186.9" font-family="Liberation Sans, Arial, sans-serif" font-size="3.4" fill="#111">6</text>
<text x="435.1" y="173.2" font-family="Liberation Sans, Arial, sans-serif" font-size="3.4" fill="#111">8</text>
<text transform="translate(369.2 199.3) rotate(-90)" font-family="Liberation Sans, Arial, sans-serif" font-size="4.2" text-anchor="middle" fill="#1e1e1e" stroke="#1e1e1e" stroke-width="0.06">Relative expression</text>
<text transform="translate(441.6 199.3) rotate(90)" font-family="Liberation Sans, Arial, sans-serif" font-size="4.2" text-anchor="middle" fill="#1e1e1e" stroke="#1e1e1e" stroke-width="0.06">FPKM</text>
<text transform="translate(382.0 230.7) rotate(45)" font-family="Liberation Sans, Arial, sans-serif" font-size="3.5" font-weight="bold" fill="#1e1e1e">Fp</text>
<text transform="translate(388.6 230.7) rotate(45)" font-family="Liberation Sans, Arial, sans-serif" font-size="3.5" font-weight="bold" fill="#1e1e1e">St</text>
<text transform="translate(395.2 230.7) rotate(45)" font-family="Liberation Sans, Arial, sans-serif" font-size="3.5" font-weight="bold" fill="#1e1e1e">Sb</text>
<text transform="translate(401.9 230.7) rotate(45)" font-family="Liberation Sans, Arial, sans-serif" font-size="3.5" font-weight="bold" fill="#1e1e1e">SS</text>
<text transform="translate(408.5 230.7) rotate(45)" font-family="Liberation Sans, Arial, sans-serif" font-size="3.5" font-weight="bold" fill="#1e1e1e">SS1</text>
<text transform="translate(415.1 230.7) rotate(45)" font-family="Liberation Sans, Arial, sans-serif" font-size="3.5" font-weight="bold" fill="#1e1e1e">SS2</text>
<text transform="translate(421.7 230.7) rotate(45)" font-family="Liberation Sans, Arial, sans-serif" font-size="3.5" font-weight="bold" fill="#1e1e1e">T1</text>
<text transform="translate(428.3 230.7) rotate(45)" font-family="Liberation Sans, Arial, sans-serif" font-size="3.5" font-weight="bold" fill="#1e1e1e">T2</text>
<rect x="382.8" y="240.3" width="5.6" height="1.8" fill="#14c814"/>
<text x="391.7" y="242.2" font-family="Liberation Sans, Arial, sans-serif" font-size="2.8" fill="#1e1e1e" stroke="#1e1e1e" stroke-width="0.1">qRT-PCR</text>
<path d="M412.2 241.2H417.7" stroke="#f26464" stroke-width="0.8"/>
<text x="421.2" y="242.2" font-family="Liberation Sans, Arial, sans-serif" font-size="2.85" fill="#1e1e1e" stroke="#1e1e1e" stroke-width="0.1">RNA-Seq</text>
<g stroke="#808080" stroke-width="0.7" fill="none">
<path d="M472.8 172.0V226.7H528.1V172.0"/>
<path d="M471.6 226.7H472.8M471.6 215.8H472.8M471.6 204.8H472.8M471.6 193.9H472.8M471.6 182.9H472.8M471.6 172.0H472.8M528.1 226.7H529.3M528.1 208.5H529.3M528.1 190.2H529.3M528.1 172.0H529.3M477.7 226.7V227.7M484.3 226.7V227.7M490.9 226.7V227.7M497.6 226.7V227.7M504.2 226.7V227.7M510.8 226.7V227.7M517.4 226.7V227.7M524.0 226.7V227.7"/>
</g>
<rect x="475.70" y="203.29" width="4.2" height="23.41" fill="#14c814"/>
<rect x="482.32" y="226.04" width="4.2" height="0.66" fill="#14c814"/>
<rect x="488.94" y="225.06" width="4.2" height="1.64" fill="#14c814"/>
<rect x="495.56" y="217.18" width="4.2" height="9.52" fill="#14c814"/>
<rect x="502.18" y="221.45" width="4.2" height="5.25" fill="#14c814"/>
<rect x="508.80" y="202.08" width="4.2" height="24.61" fill="#14c814"/>
<rect x="515.42" y="202.08" width="4.2" height="24.61" fill="#14c814"/>
<rect x="522.04" y="182.94" width="4.2" height="43.76" fill="#14c814"/>
<path d="M477.8 203.3V201.6M477.0 201.6H478.6M484.4 226.0V225.7M483.6 225.7H485.2M491.0 225.1V224.7M490.2 224.7H491.8M497.7 217.2V216.5M496.9 216.5H498.5M504.3 221.4V221.0M503.5 221.0H505.1M510.9 202.1V199.9M510.1 199.9H511.7M517.5 202.1V200.4M516.7 200.4H518.3M524.1 182.9V180.8M523.3 180.8H524.9" stroke="#777" stroke-width="0.35" fill="none"/>
<path d="M477.8 220.7 L484.4 225.7 L491.0 224.7 L497.7 223.7 L504.3 225.7 L510.9 217.1 L517.5 193.3 L524.1 177.3" stroke="#f26464" stroke-width="0.8" fill="none" stroke-linejoin="round"/>
<text x="489.2" y="173.7" font-family="Liberation Sans, Arial, sans-serif" font-weight="bold" font-style="italic" font-size="4.85" fill="#111" stroke="#111" stroke-width="0.12">StAGPase</text>
<text x="471.0" y="227.9" font-family="Liberation Sans, Arial, sans-serif" font-size="3.4" text-anchor="end" fill="#111">0</text>
<text x="471.0" y="217.0" font-family="Liberation Sans, Arial, sans-serif" font-size="3.4" text-anchor="end" fill="#111">1</text>
<text x="471.0" y="206.0" font-family="Liberation Sans, Arial, sans-serif" font-size="3.4" text-anchor="end" fill="#111">2</text>
<text x="471.0" y="195.1" font-family="Liberation Sans, Arial, sans-serif" font-size="3.4" text-anchor="end" fill="#111">3</text>
<text x="471.0" y="184.1" font-family="Liberation Sans, Arial, sans-serif" font-size="3.4" text-anchor="end" fill="#111">4</text>
<text x="471.0" y="173.2" font-family="Liberation Sans, Arial, sans-serif" font-size="3.4" text-anchor="end" fill="#111">5</text>
<text x="529.9" y="227.9" font-family="Liberation Sans, Arial, sans-serif" font-size="3.4" fill="#111">0</text>
<text x="529.9" y="209.7" font-family="Liberation Sans, Arial, sans-serif" font-size="3.4" fill="#111">500</text>
<text x="529.9" y="191.4" font-family="Liberation Sans, Arial, sans-serif" font-size="3.4" fill="#111">1000</text>
<text x="529.9" y="173.2" font-family="Liberation Sans, Arial, sans-serif" font-size="3.4" fill="#111">1500</text>
<text transform="translate(467.0 199.3) rotate(-90)" font-family="Liberation Sans, Arial, sans-serif" font-size="4.2" text-anchor="middle" fill="#1e1e1e" stroke="#1e1e1e" stroke-width="0.06">Relative expression</text>
<text transform="translate(542.4 199.3) rotate(90)" font-family="Liberation Sans, Arial, sans-serif" font-size="4.2" text-anchor="middle" fill="#1e1e1e" stroke="#1e1e1e" stroke-width="0.06">FPKM</text>
<text transform="translate(476.8 230.7) rotate(45)" font-family="Liberation Sans, Arial, sans-serif" font-size="3.5" font-weight="bold" fill="#1e1e1e">Fp</text>
<text transform="translate(483.4 230.7) rotate(45)" font-family="Liberation Sans, Arial, sans-serif" font-size="3.5" font-weight="bold" fill="#1e1e1e">St</text>
<text transform="translate(490.0 230.7) rotate(45)" font-family="Liberation Sans, Arial, sans-serif" font-size="3.5" font-weight="bold" fill="#1e1e1e">Sb</text>
<text transform="translate(496.7 230.7) rotate(45)" font-family="Liberation Sans, Arial, sans-serif" font-size="3.5" font-weight="bold" fill="#1e1e1e">SS</text>
<text transform="translate(503.3 230.7) rotate(45)" font-family="Liberation Sans, Arial, sans-serif" font-size="3.5" font-weight="bold" fill="#1e1e1e">SS1</text>
<text transform="translate(509.9 230.7) rotate(45)" font-family="Liberation Sans, Arial, sans-serif" font-size="3.5" font-weight="bold" fill="#1e1e1e">SS2</text>
<text transform="translate(516.5 230.7) rotate(45)" font-family="Liberation Sans, Arial, sans-serif" font-size="3.5" font-weight="bold" fill="#1e1e1e">T1</text>
<text transform="translate(523.1 230.7) rotate(45)" font-family="Liberation Sans, Arial, sans-serif" font-size="3.5" font-weight="bold" fill="#1e1e1e">T2</text>
<rect x="477.6" y="240.3" width="5.6" height="1.8" fill="#14c814"/>
<text x="486.5" y="242.2" font-family="Liberation Sans, Arial, sans-serif" font-size="2.8" fill="#1e1e1e" stroke="#1e1e1e" stroke-width="0.1">qRT-PCR</text>
<path d="M507.0 241.2H512.5" stroke="#f26464" stroke-width="0.8"/>
<text x="516.0" y="242.2" font-family="Liberation Sans, Arial, sans-serif" font-size="2.85" fill="#1e1e1e" stroke="#1e1e1e" stroke-width="0.1">RNA-Seq</text>
</g>
</svg></body></html>
